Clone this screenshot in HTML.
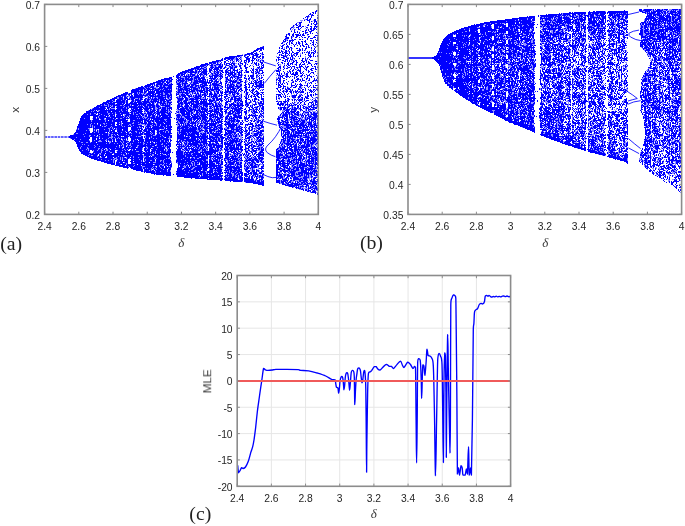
<!DOCTYPE html>
<html><head><meta charset="utf-8"><style>
html,body{margin:0;padding:0;background:#fff;width:685px;height:526px;overflow:hidden}
svg{display:block}
</style></head><body>
<svg width="685" height="526" viewBox="0 0 685 526">
<g stroke="#e6e6e6" stroke-width="1" fill="none"><line x1="271.38" y1="275.5" x2="271.38" y2="486.3"/><line x1="305.55" y1="275.5" x2="305.55" y2="486.3"/><line x1="339.73" y1="275.5" x2="339.73" y2="486.3"/><line x1="373.90" y1="275.5" x2="373.90" y2="486.3"/><line x1="408.07" y1="275.5" x2="408.07" y2="486.3"/><line x1="442.25" y1="275.5" x2="442.25" y2="486.3"/><line x1="476.43" y1="275.5" x2="476.43" y2="486.3"/><line x1="237.2" y1="459.95" x2="510.6" y2="459.95"/><line x1="237.2" y1="433.60" x2="510.6" y2="433.60"/><line x1="237.2" y1="407.25" x2="510.6" y2="407.25"/><line x1="237.2" y1="380.90" x2="510.6" y2="380.90"/><line x1="237.2" y1="354.55" x2="510.6" y2="354.55"/><line x1="237.2" y1="328.20" x2="510.6" y2="328.20"/><line x1="237.2" y1="301.85" x2="510.6" y2="301.85"/></g>
<path d="M44.5 137H70" stroke="#3030ff" stroke-width="1.6" fill="none" stroke-dasharray="2.6 0.7"/>
<path d="M408 58H432.5" stroke="#0000ff" stroke-width="1.6" fill="none"/>
<path d="M639 9.5h3m1 0h11m1 0h1m1 0h11m1 0h12M316 10.5h2m306 0h1m14 0h42M315 11.5h2m272 0h1m3 0h2m1 0h10m2 0h20m11 0h11m1 0h15m1 0h9m1 0h4M312 12.5h2m1 0h1m253 0h2m1 0h1m1 0h12m2 0h18m1 0h21m14 0h14m1 0h24M310 13.5h1m2 0h1m1 0h1m243 0h1m1 0h25m2 0h18m1 0h1m1 0h19m17 0h36M309 14.5h4m233 0h1m1 0h23m1 0h4m1 0h9m2 0h17m4 0h19m19 0h15m1 0h3m1 0h3m1 0h10M308 15.5h1m2 0h3m3 0h1m220 0h1m1 0h31m1 0h22m1 0h9m1 0h1m2 0h12m1 0h7m19 0h5m1 0h17m2 0h8M306 16.5h4m1 0h1m215 0h1m1 0h6m3 0h1m1 0h22m1 0h20m1 0h2m1 0h13m1 0h5m2 0h3m1 0h12m1 0h3m18 0h8m1 0h9m1 0h16M305 17.5h1m1 0h2m2 0h1m5 0h1m201 0h16m5 0h31m1 0h14m2 0h1m1 0h16m2 0h2m1 0h17m18 0h19m1 0h15M303 18.5h1m3 0h1m2 0h1m6 0h1m194 0h23m5 0h13m1 0h17m1 0h1m1 0h1m1 0h7m1 0h2m2 0h18m3 0h15m1 0h3m17 0h11m1 0h24M304 19.5h4m1 0h2m3 0h2m189 0h13m1 0h12m1 0h3m5 0h3m1 0h18m2 0h22m2 0h4m1 0h2m1 0h3m1 0h4m1 0h1m3 0h4m1 0h2m1 0h10m17 0h8m1 0h28M300 20.5h3m1 0h1m2 0h3m3 0h3m1 0h1m179 0h38m5 0h31m2 0h13m2 0h12m1 0h3m1 0h1m1 0h7m1 0h2m1 0h2m1 0h1m1 0h5m16 0h3m1 0h1m1 0h7m1 0h20m1 0h2M301 21.5h1m7 0h1m1 0h2m1 0h3m173 0h44m6 0h9m1 0h13m1 0h7m1 0h11m1 0h1m3 0h9m1 0h6m1 0h1m1 0h1m1 0h1m1 0h3m1 0h7m1 0h5m16 0h7m1 0h12m1 0h16M297 22.5h5m7 0h1m4 0h1m1 0h1m167 0h35m1 0h15m5 0h40m1 0h1m1 0h3m2 0h9m1 0h8m4 0h6m1 0h2m1 0h5m1 0h2m13 0h11m1 0h28M296 23.5h1m2 0h2m10 0h1m1 0h1m2 0h2m162 0h26m2 0h7m1 0h18m6 0h2m1 0h15m1 0h12m1 0h10m1 0h2m3 0h17m3 0h8m1 0h8m1 0h1m13 0h41M295 24.5h2m1 0h3m7 0h1m2 0h1m2 0h3m157 0h1m1 0h16m2 0h10m1 0h1m2 0h27m2 0h1m2 0h32m1 0h1m1 0h11m1 0h8m1 0h9m2 0h13m1 0h2m1 0h4m12 0h4m1 0h17m2 0h2m1 0h14M293 25.5h2m1 0h2m1 0h2m6 0h2m6 0h1m155 0h20m3 0h12m2 0h26m6 0h30m2 0h1m2 0h9m1 0h1m2 0h15m2 0h1m2 0h1m1 0h4m1 0h6m1 0h5m13 0h31m1 0h9M292 26.5h2m4 0h3m1 0h2m1 0h1m4 0h2m2 0h4m150 0h11m1 0h4m1 0h7m2 0h12m2 0h26m6 0h22m2 0h9m2 0h11m2 0h18m1 0h1m1 0h1m1 0h5m1 0h3m1 0h2m3 0h2m12 0h41M291 27.5h4m1 0h3m2 0h1m4 0h2m3 0h1m2 0h1m1 0h1m147 0h28m2 0h6m1 0h33m2 0h1m3 0h4m1 0h17m3 0h8m2 0h7m1 0h3m1 0h8m1 0h10m3 0h4m1 0h3m1 0h9m13 0h41M290 28.5h2m1 0h1m4 0h1m1 0h1m4 0h1m1 0h1m2 0h2m1 0h3m145 0h31m2 0h40m6 0h1m1 0h19m1 0h11m3 0h4m1 0h5m1 0h19m3 0h9m1 0h1m1 0h1m1 0h4m13 0h6m1 0h2m1 0h11m1 0h2m1 0h16M290 29.5h1m1 0h1m1 0h2m2 0h2m6 0h1m1 0h1m1 0h2m1 0h2m1 0h1m142 0h19m2 0h17m1 0h20m2 0h10m1 0h3m7 0h16m1 0h13m1 0h3m1 0h4m1 0h2m1 0h2m2 0h9m1 0h5m1 0h1m3 0h1m2 0h1m1 0h7m2 0h6m12 0h9m1 0h31M291 30.5h1m2 0h1m5 0h1m4 0h2m1 0h1m2 0h3m142 0h13m1 0h8m2 0h39m1 0h14m6 0h1m1 0h4m1 0h1m1 0h7m1 0h7m1 0h6m1 0h2m1 0h5m1 0h2m1 0h2m2 0h4m1 0h13m1 0h10m1 0h5m1 0h1m1 0h1m13 0h33m1 0h7M291 31.5h1m2 0h1m2 0h1m4 0h2m1 0h1m3 0h3m142 0h24m2 0h8m1 0h8m1 0h8m2 0h11m1 0h1m1 0h11m7 0h10m1 0h15m2 0h2m1 0h8m1 0h2m1 0h3m2 0h8m2 0h5m1 0h1m2 0h9m1 0h3m1 0h3m2 0h2m12 0h28m1 0h12M294 32.5h2m1 0h1m1 0h1m5 0h3m2 0h1m5 0h1m135 0h26m2 0h26m2 0h13m1 0h13m5 0h3m1 0h20m1 0h2m6 0h1m1 0h2m1 0h5m1 0h2m3 0h7m1 0h7m1 0h1m2 0h2m1 0h11m1 0h2m1 0h2m12 0h22m1 0h3m1 0h14M288 33.5h2m3 0h1m5 0h1m3 0h1m1 0h2m3 0h1m1 0h1m4 0h1m132 0h7m1 0h48m2 0h11m1 0h15m5 0h29m3 0h10m1 0h1m1 0h1m2 0h8m1 0h6m1 0h2m2 0h5m1 0h2m1 0h9m13 0h14m1 0h12m1 0h1m1 0h12M286 34.5h4m2 0h2m1 0h4m1 0h1m1 0h2m3 0h2m139 0h31m1 0h17m1 0h36m6 0h28m1 0h2m1 0h3m1 0h6m1 0h3m4 0h16m2 0h9m1 0h7m1 0h2m11 0h42M286 35.5h1m2 0h1m2 0h2m2 0h5m1 0h3m2 0h1m7 0h3m129 0h6m3 0h13m1 0h35m1 0h14m1 0h7m1 0h5m6 0h4m1 0h19m1 0h6m1 0h1m1 0h3m1 0h1m1 0h6m2 0h1m1 0h4m1 0h2m1 0h6m4 0h9m1 0h2m3 0h5m12 0h26m1 0h3m1 0h3m1 0h6M285 36.5h2m4 0h3m2 0h2m3 0h1m6 0h2m4 0h1m2 0h1m128 0h7m3 0h13m1 0h22m2 0h40m6 0h11m1 0h12m1 0h2m2 0h2m1 0h4m1 0h9m2 0h2m1 0h1m1 0h13m3 0h3m1 0h2m1 0h1m1 0h2m2 0h3m16 0h29m1 0h6m1 0h3M285 37.5h4m2 0h2m2 0h2m2 0h1m2 0h1m1 0h2m2 0h1m4 0h3m1 0h1m127 0h34m1 0h12m2 0h5m1 0h19m1 0h2m1 0h5m1 0h2m1 0h2m6 0h5m1 0h11m1 0h6m1 0h2m2 0h2m1 0h1m1 0h4m1 0h5m1 0h1m2 0h8m1 0h7m5 0h3m1 0h7m3 0h5m13 0h7m1 0h7m1 0h11m1 0h12M285 38.5h4m2 0h1m15 0h1m2 0h3m4 0h1m126 0h35m1 0h12m2 0h12m1 0h4m1 0h7m1 0h10m1 0h3m6 0h15m1 0h6m1 0h8m2 0h13m2 0h1m1 0h2m2 0h12m2 0h3m1 0h1m2 0h5m1 0h1m1 0h2m2 0h1m13 0h1m1 0h35m1 0h2M284 39.5h4m3 0h2m1 0h2m3 0h2m1 0h1m4 0h1m7 0h1m1 0h1m125 0h46m1 0h2m2 0h23m1 0h1m1 0h15m5 0h13m1 0h3m1 0h12m2 0h1m1 0h6m1 0h5m2 0h9m1 0h3m3 0h1m4 0h1m1 0h4m3 0h2m2 0h3m16 0h10m1 0h26m1 0h2M283 40.5h1m1 0h3m1 0h5m11 0h1m4 0h2m1 0h1m2 0h2m125 0h26m1 0h10m1 0h19m1 0h5m2 0h15m1 0h11m5 0h5m1 0h9m1 0h5m2 0h8m1 0h14m4 0h4m2 0h4m1 0h1m1 0h1m2 0h1m1 0h6m3 0h3m1 0h4m16 0h17m1 0h5m2 0h1m1 0h10m1 0h2M283 41.5h3m3 0h2m1 0h1m5 0h1m2 0h2m1 0h2m5 0h1m1 0h1m128 0h64m2 0h21m1 0h5m5 0h10m2 0h3m1 0h2m1 0h3m1 0h8m1 0h2m1 0h2m1 0h2m1 0h5m3 0h1m2 0h1m1 0h1m1 0h6m1 0h1m4 0h4m1 0h4m1 0h2m1 0h4m1 0h1m14 0h2m1 0h5m1 0h11m1 0h16m1 0h2M282 42.5h3m2 0h1m1 0h1m1 0h2m3 0h1m1 0h2m2 0h1m2 0h1m6 0h2m2 0h1m125 0h11m3 0h13m1 0h27m1 0h1m3 0h4m2 0h14m1 0h5m1 0h6m6 0h3m1 0h11m2 0h3m2 0h1m2 0h1m1 0h3m1 0h2m1 0h8m1 0h2m6 0h2m1 0h6m2 0h1m1 0h1m3 0h1m3 0h2m1 0h6m1 0h2m15 0h14m1 0h2m2 0h3m1 0h18M281 43.5h2m3 0h1m2 0h1m1 0h2m3 0h1m1 0h3m1 0h1m3 0h1m3 0h1m2 0h1m3 0h1m123 0h12m3 0h13m1 0h8m2 0h3m1 0h10m1 0h11m2 0h27m5 0h7m1 0h6m4 0h2m1 0h2m1 0h1m1 0h2m1 0h1m2 0h2m1 0h2m1 0h7m3 0h2m1 0h1m1 0h1m1 0h1m1 0h5m1 0h2m4 0h11m1 0h2m1 0h3m13 0h14m1 0h10m1 0h3m1 0h11M283 44.5h2m1 0h1m2 0h1m3 0h1m1 0h2m2 0h1m2 0h1m2 0h3m4 0h2m1 0h1m125 0h38m1 0h25m1 0h9m1 0h6m1 0h12m5 0h2m2 0h7m1 0h9m1 0h2m5 0h2m1 0h4m1 0h2m1 0h4m2 0h1m2 0h1m1 0h11m1 0h3m2 0h9m3 0h1m1 0h2m1 0h1m14 0h12m1 0h4m1 0h1m1 0h1m1 0h6m1 0h1m1 0h10M280 45.5h1m1 0h2m3 0h1m3 0h1m2 0h1m2 0h1m2 0h1m1 0h2m4 0h1m2 0h1m1 0h1m3 0h1m122 0h89m1 0h6m5 0h10m1 0h12m3 0h12m1 0h7m1 0h3m1 0h5m1 0h7m2 0h3m1 0h3m2 0h5m1 0h5m13 0h3m1 0h8m1 0h4m1 0h2m1 0h3m1 0h2m1 0h8m1 0h4M262 46.5h2m17 0h2m3 0h3m5 0h1m5 0h1m2 0h2m1 0h1m1 0h1m5 0h1m2 0h1m122 0h47m1 0h5m1 0h25m1 0h12m1 0h1m6 0h3m1 0h12m1 0h12m1 0h8m1 0h1m2 0h4m2 0h6m2 0h8m2 0h1m2 0h5m2 0h1m2 0h6m15 0h8m1 0h16m1 0h9m1 0h1m1 0h3M260 47.5h4m15 0h1m2 0h1m1 0h1m1 0h3m1 0h2m14 0h1m1 0h2m1 0h1m3 0h1m124 0h52m2 0h6m1 0h5m2 0h14m1 0h12m5 0h3m2 0h6m1 0h2m1 0h1m1 0h6m1 0h6m2 0h6m1 0h1m1 0h1m1 0h1m1 0h1m2 0h13m1 0h1m5 0h3m2 0h1m2 0h1m1 0h7m1 0h1m14 0h2m1 0h7m1 0h8m3 0h2m1 0h11m1 0h3M257 48.5h7m15 0h1m1 0h2m1 0h1m1 0h1m2 0h1m1 0h2m3 0h2m1 0h1m2 0h1m2 0h2m4 0h1m2 0h1m124 0h17m2 0h19m1 0h14m2 0h12m1 0h27m6 0h3m1 0h15m1 0h2m1 0h4m1 0h2m2 0h5m1 0h1m2 0h6m4 0h10m1 0h4m2 0h5m2 0h5m1 0h5m16 0h32m1 0h1m1 0h4M256 49.5h6m1 0h1m19 0h2m4 0h1m1 0h1m7 0h2m1 0h1m2 0h1m5 0h1m2 0h1m124 0h30m1 0h6m1 0h2m1 0h8m1 0h3m2 0h1m1 0h10m2 0h24m1 0h2m6 0h30m1 0h5m1 0h1m3 0h4m2 0h1m1 0h1m1 0h7m1 0h1m1 0h7m1 0h7m1 0h5m20 0h8m1 0h7m1 0h1m1 0h2m1 0h1m1 0h14M254 50.5h4m2 0h2m17 0h1m1 0h1m3 0h2m1 0h1m2 0h1m5 0h4m1 0h1m1 0h2m5 0h1m1 0h1m1 0h1m123 0h20m1 0h18m2 0h10m1 0h1m2 0h10m1 0h12m2 0h16m5 0h2m2 0h8m1 0h2m1 0h8m1 0h2m1 0h3m1 0h1m1 0h3m1 0h6m1 0h1m2 0h1m1 0h1m1 0h2m1 0h1m2 0h1m1 0h1m1 0h2m1 0h1m3 0h8m1 0h2m1 0h6m17 0h14m1 0h4m1 0h7m1 0h5m1 0h3M253 51.5h3m3 0h1m19 0h1m1 0h3m1 0h5m2 0h1m6 0h1m7 0h1m1 0h1m4 0h2m122 0h31m1 0h2m1 0h10m1 0h19m1 0h3m1 0h12m1 0h15m5 0h10m2 0h4m2 0h5m2 0h5m1 0h1m1 0h4m3 0h2m1 0h3m1 0h1m3 0h3m1 0h1m1 0h1m1 0h3m1 0h1m2 0h1m1 0h3m2 0h3m1 0h2m1 0h1m1 0h1m1 0h2m18 0h1m1 0h3m1 0h3m1 0h7m3 0h16M251 52.5h3m2 0h1m5 0h1m15 0h3m1 0h1m1 0h3m2 0h1m2 0h2m2 0h3m3 0h1m1 0h1m1 0h4m1 0h3m1 0h1m1 0h1m120 0h15m3 0h33m1 0h9m1 0h4m1 0h16m1 0h13m7 0h1m1 0h13m1 0h2m1 0h3m1 0h6m1 0h1m1 0h5m2 0h1m1 0h1m1 0h1m3 0h2m1 0h4m1 0h3m1 0h2m1 0h1m4 0h1m2 0h1m1 0h7m1 0h1m1 0h2m1 0h1m18 0h6m1 0h1m1 0h1m1 0h4m1 0h2m1 0h1m1 0h6m1 0h5m1 0h1M247 53.5h6m1 0h4m2 0h3m14 0h1m4 0h2m1 0h3m1 0h1m1 0h1m2 0h4m2 0h1m1 0h1m5 0h2m1 0h1m1 0h2m2 0h1m119 0h16m3 0h13m1 0h17m1 0h2m1 0h32m1 0h5m1 0h6m4 0h11m2 0h1m1 0h5m1 0h2m1 0h6m2 0h1m1 0h5m1 0h3m5 0h2m1 0h1m1 0h4m1 0h2m2 0h3m3 0h1m1 0h8m1 0h1m1 0h3m2 0h1m20 0h11m1 0h2m1 0h1m1 0h4m1 0h7m1 0h4M242 54.5h1m1 0h10m1 0h4m2 0h3m15 0h3m3 0h1m2 0h1m2 0h1m1 0h2m1 0h2m2 0h1m4 0h1m2 0h1m1 0h1m2 0h1m123 0h16m3 0h2m1 0h33m2 0h2m1 0h9m1 0h29m4 0h5m1 0h5m1 0h11m1 0h1m1 0h1m1 0h3m1 0h1m1 0h1m3 0h5m1 0h2m3 0h3m1 0h3m2 0h2m1 0h4m3 0h2m1 0h6m1 0h4m1 0h1m1 0h2m20 0h8m1 0h1m2 0h3m2 0h7m1 0h6m1 0h2M237 55.5h6m1 0h3m2 0h1m2 0h6m2 0h1m1 0h1m16 0h1m1 0h7m1 0h1m1 0h4m1 0h1m3 0h1m7 0h3m2 0h1m3 0h1m118 0h18m1 0h23m2 0h12m2 0h12m2 0h27m6 0h10m1 0h5m1 0h5m1 0h3m1 0h2m1 0h1m1 0h6m1 0h5m3 0h8m1 0h1m1 0h1m1 0h2m1 0h2m1 0h6m1 0h1m1 0h1m1 0h2m1 0h1m3 0h2m20 0h4m1 0h4m2 0h2m1 0h1m2 0h6m1 0h6m2 0h2M229 56.5h13m2 0h2m1 0h2m3 0h2m2 0h5m1 0h2m12 0h1m1 0h1m4 0h4m4 0h2m2 0h1m2 0h1m1 0h1m4 0h1m3 0h3m1 0h1m1 0h1m1 0h1m116 0h34m1 0h23m2 0h4m1 0h7m2 0h17m1 0h9m6 0h11m2 0h3m1 0h12m3 0h2m3 0h1m2 0h5m2 0h5m2 0h1m1 0h1m1 0h5m2 0h1m1 0h2m2 0h1m3 0h4m1 0h1m2 0h2m22 0h3m1 0h11m3 0h8m1 0h6M225 57.5h12m1 0h1m1 0h2m3 0h4m1 0h1m1 0h2m2 0h4m2 0h2m13 0h3m1 0h4m1 0h3m1 0h1m1 0h2m11 0h1m2 0h1m1 0h1m121 0h46m2 0h8m1 0h3m2 0h3m1 0h3m1 0h4m2 0h10m2 0h15m6 0h10m2 0h1m1 0h5m1 0h4m1 0h8m2 0h1m1 0h1m1 0h6m1 0h2m1 0h4m1 0h6m2 0h2m3 0h1m1 0h3m4 0h6m1 0h1m1 0h2m22 0h1m2 0h12m1 0h13m1 0h1M222 58.5h1m1 0h14m1 0h3m4 0h4m2 0h4m1 0h1m2 0h1m1 0h2m14 0h1m4 0h2m2 0h2m1 0h1m1 0h3m4 0h1m2 0h2m1 0h1m1 0h1m124 0h24m1 0h22m1 0h15m1 0h10m2 0h15m1 0h3m1 0h4m1 0h1m7 0h10m1 0h5m1 0h4m1 0h7m2 0h2m1 0h1m5 0h1m1 0h3m2 0h7m3 0h2m1 0h2m1 0h1m2 0h3m1 0h3m1 0h1m1 0h1m1 0h9m21 0h2m1 0h1m1 0h3m1 0h17m1 0h1m1 0h3M221 59.5h2m1 0h2m1 0h12m1 0h2m4 0h4m2 0h1m1 0h1m1 0h1m1 0h2m1 0h2m13 0h1m1 0h3m4 0h3m2 0h3m1 0h1m7 0h1m2 0h3m1 0h1m124 0h44m1 0h10m2 0h22m1 0h2m1 0h3m1 0h7m1 0h5m1 0h1m5 0h10m1 0h8m1 0h1m1 0h4m2 0h2m1 0h2m1 0h1m3 0h1m1 0h2m1 0h2m2 0h3m1 0h2m1 0h2m1 0h5m2 0h1m1 0h1m2 0h3m4 0h3m1 0h1m1 0h4m24 0h2m1 0h8m1 0h18M216 60.5h7m3 0h2m2 0h3m1 0h1m1 0h4m1 0h1m2 0h3m1 0h2m1 0h3m2 0h3m1 0h4m12 0h1m1 0h1m3 0h2m1 0h1m1 0h1m1 0h1m1 0h3m1 0h2m4 0h2m2 0h2m3 0h3m122 0h44m1 0h3m1 0h6m1 0h1m1 0h3m1 0h10m1 0h1m1 0h2m1 0h1m1 0h13m1 0h7m5 0h4m1 0h5m2 0h2m2 0h7m1 0h6m2 0h3m3 0h1m1 0h1m1 0h3m2 0h2m2 0h1m2 0h3m1 0h2m2 0h1m1 0h1m2 0h4m2 0h1m2 0h11m22 0h12m1 0h7m1 0h2m1 0h2m1 0h4M212 61.5h9m3 0h2m2 0h1m1 0h1m1 0h3m1 0h1m1 0h1m1 0h2m2 0h1m1 0h1m1 0h2m2 0h1m4 0h4m1 0h2m12 0h1m7 0h2m1 0h1m1 0h1m1 0h1m1 0h2m1 0h1m5 0h3m1 0h1m1 0h1m6 0h2m119 0h31m4 0h7m2 0h32m1 0h3m2 0h11m1 0h5m6 0h10m1 0h12m1 0h6m2 0h4m1 0h1m3 0h5m1 0h1m1 0h1m1 0h11m2 0h1m2 0h1m1 0h2m6 0h1m2 0h1m2 0h1m26 0h1m2 0h3m4 0h1m1 0h2m1 0h5m1 0h1m1 0h4M209 62.5h11m1 0h1m2 0h2m4 0h1m1 0h3m4 0h2m3 0h3m1 0h1m3 0h1m1 0h1m1 0h1m3 0h3m15 0h1m2 0h2m5 0h1m3 0h2m2 0h2m3 0h1m1 0h1m2 0h1m1 0h2m127 0h65m1 0h24m1 0h7m6 0h1m2 0h3m2 0h6m1 0h9m1 0h1m3 0h3m2 0h2m1 0h1m2 0h5m2 0h3m1 0h3m2 0h3m1 0h3m1 0h1m1 0h6m1 0h2m2 0h1m1 0h1m1 0h2m1 0h2m23 0h12m1 0h2m2 0h12m1 0h1M205 63.5h3m1 0h7m1 0h2m1 0h2m2 0h1m1 0h4m1 0h6m1 0h1m1 0h3m2 0h2m4 0h2m1 0h3m1 0h1m2 0h2m14 0h1m4 0h1m1 0h1m2 0h2m1 0h3m3 0h1m3 0h1m3 0h1m3 0h3m4 0h3m120 0h15m3 0h12m1 0h3m1 0h19m1 0h2m1 0h1m1 0h2m1 0h1m1 0h18m1 0h14m5 0h2m1 0h3m1 0h10m1 0h3m4 0h1m1 0h3m4 0h1m2 0h1m2 0h2m1 0h1m3 0h10m1 0h1m2 0h3m3 0h6m3 0h2m1 0h1m5 0h1m23 0h2m1 0h1m1 0h1m1 0h6m1 0h3m1 0h4m1 0h5m1 0h2M201 64.5h9m1 0h12m1 0h3m2 0h3m1 0h2m3 0h3m1 0h1m2 0h1m1 0h1m5 0h1m1 0h2m1 0h2m1 0h1m1 0h1m14 0h3m3 0h1m2 0h2m1 0h1m1 0h1m1 0h3m2 0h2m1 0h3m2 0h1m3 0h1m2 0h1m1 0h1m122 0h14m3 0h33m1 0h10m1 0h5m2 0h11m1 0h5m1 0h3m1 0h6m4 0h16m1 0h6m2 0h2m1 0h3m2 0h1m3 0h6m1 0h1m3 0h7m2 0h2m1 0h1m1 0h2m3 0h11m1 0h1m5 0h2m23 0h12m1 0h1m1 0h3m1 0h5m1 0h5M200 65.5h8m1 0h14m2 0h5m1 0h6m2 0h3m2 0h2m4 0h1m1 0h1m3 0h3m2 0h3m14 0h1m1 0h1m3 0h1m1 0h1m1 0h2m6 0h1m2 0h1m1 0h1m3 0h1m5 0h1m127 0h15m2 0h34m1 0h1m2 0h1m2 0h2m2 0h4m3 0h5m1 0h22m4 0h2m1 0h3m1 0h6m1 0h2m1 0h3m1 0h3m1 0h1m2 0h3m1 0h2m1 0h1m4 0h5m7 0h1m1 0h2m1 0h4m1 0h1m1 0h1m5 0h1m1 0h1m1 0h1m1 0h3m4 0h3m1 0h1m21 0h2m2 0h6m1 0h5m1 0h14M196 66.5h11m3 0h7m1 0h5m2 0h1m3 0h9m1 0h2m3 0h2m3 0h1m3 0h1m5 0h1m1 0h1m1 0h1m15 0h2m2 0h2m2 0h1m2 0h1m1 0h3m4 0h4m2 0h1m1 0h2m3 0h1m1 0h2m1 0h1m122 0h52m2 0h5m1 0h6m2 0h28m5 0h3m1 0h1m2 0h7m1 0h1m1 0h1m1 0h4m1 0h5m1 0h3m2 0h1m1 0h2m1 0h1m1 0h1m1 0h3m2 0h3m1 0h1m1 0h2m2 0h5m2 0h2m1 0h2m3 0h3m1 0h1m1 0h7m22 0h2m3 0h3m1 0h9m1 0h2m1 0h2m1 0h2m1 0h1M194 67.5h6m1 0h6m3 0h13m1 0h3m1 0h9m3 0h2m3 0h3m5 0h1m3 0h3m1 0h3m14 0h3m2 0h2m2 0h3m1 0h1m2 0h1m1 0h5m2 0h1m1 0h3m7 0h1m1 0h1m122 0h45m1 0h6m2 0h6m1 0h5m2 0h7m1 0h19m5 0h6m1 0h4m1 0h1m2 0h1m2 0h2m1 0h5m1 0h4m1 0h1m3 0h3m5 0h1m1 0h1m2 0h1m1 0h14m1 0h5m1 0h1m3 0h4m1 0h1m1 0h1m1 0h2m21 0h4m1 0h5m1 0h1m1 0h4m2 0h7m1 0h2m1 0h2M191 68.5h16m2 0h4m1 0h5m1 0h2m1 0h2m2 0h2m1 0h5m5 0h2m3 0h2m4 0h1m1 0h1m2 0h7m14 0h2m1 0h1m3 0h1m1 0h2m3 0h1m2 0h1m2 0h1m2 0h1m3 0h1m1 0h1m4 0h3m1 0h1m124 0h29m1 0h8m2 0h12m2 0h13m1 0h1m1 0h25m6 0h4m1 0h2m1 0h1m3 0h7m1 0h2m1 0h7m1 0h1m1 0h7m1 0h4m2 0h7m2 0h4m3 0h2m2 0h4m1 0h1m2 0h1m1 0h2m1 0h1m1 0h4m21 0h10m1 0h1m2 0h4m1 0h14M188 69.5h19m2 0h3m1 0h8m1 0h1m3 0h2m2 0h1m1 0h3m2 0h1m1 0h1m1 0h1m4 0h1m5 0h2m1 0h3m1 0h3m16 0h3m2 0h1m6 0h1m2 0h1m1 0h2m1 0h1m1 0h1m4 0h2m3 0h2m3 0h2m123 0h39m1 0h12m2 0h6m1 0h15m1 0h13m1 0h4m5 0h1m1 0h3m1 0h11m1 0h5m1 0h1m1 0h2m1 0h2m2 0h13m3 0h11m3 0h2m4 0h2m1 0h6m1 0h3m1 0h4m20 0h2m4 0h5m1 0h3m1 0h1m3 0h1m1 0h1m1 0h2m1 0h5m1 0h1M185 70.5h8m2 0h3m1 0h1m1 0h1m1 0h4m2 0h4m1 0h1m1 0h2m1 0h4m2 0h6m1 0h6m2 0h3m2 0h2m3 0h1m1 0h2m2 0h2m1 0h4m13 0h5m8 0h1m2 0h2m3 0h4m5 0h1m1 0h1m2 0h2m128 0h31m1 0h6m1 0h21m1 0h2m1 0h11m1 0h2m1 0h12m1 0h1m6 0h1m1 0h1m2 0h12m1 0h4m1 0h1m1 0h1m2 0h1m3 0h8m1 0h2m1 0h3m1 0h3m2 0h2m1 0h2m2 0h5m2 0h1m1 0h2m4 0h1m2 0h4m1 0h2m2 0h1m18 0h17m1 0h6m1 0h7m2 0h1M182 71.5h26m1 0h2m1 0h11m2 0h4m1 0h3m1 0h1m1 0h2m1 0h3m3 0h4m2 0h1m1 0h1m1 0h5m2 0h1m13 0h4m3 0h1m3 0h1m1 0h2m1 0h1m3 0h1m2 0h2m2 0h1m4 0h2m5 0h1m125 0h37m3 0h15m1 0h7m1 0h2m1 0h1m1 0h10m1 0h14m5 0h1m1 0h2m1 0h6m1 0h5m1 0h4m1 0h1m1 0h6m1 0h12m1 0h2m1 0h6m2 0h5m1 0h3m1 0h1m1 0h3m1 0h2m1 0h3m1 0h1m1 0h1m1 0h1m2 0h2m17 0h1m1 0h4m1 0h6m1 0h1m1 0h3m1 0h2m1 0h2m1 0h9M180 72.5h20m1 0h6m2 0h3m1 0h8m1 0h2m1 0h10m1 0h6m2 0h5m2 0h3m1 0h5m2 0h2m15 0h1m4 0h1m2 0h2m1 0h1m2 0h1m1 0h3m2 0h1m1 0h1m5 0h1m2 0h3m127 0h28m1 0h24m1 0h3m1 0h7m1 0h12m1 0h14m6 0h1m2 0h9m1 0h1m1 0h8m1 0h1m1 0h2m1 0h2m1 0h7m1 0h1m1 0h3m3 0h1m1 0h1m1 0h3m1 0h2m1 0h3m1 0h1m1 0h1m3 0h5m2 0h4m1 0h1m3 0h1m19 0h2m1 0h5m1 0h1m1 0h1m1 0h5m1 0h2m1 0h3m2 0h4m1 0h1M178 73.5h8m1 0h1m2 0h3m1 0h5m1 0h7m1 0h1m2 0h8m1 0h2m3 0h2m1 0h5m1 0h3m1 0h2m1 0h1m10 0h2m1 0h2m1 0h5m13 0h2m1 0h1m1 0h1m2 0h1m1 0h2m2 0h1m1 0h2m1 0h3m2 0h2m1 0h1m6 0h1m2 0h1m3 0h1m124 0h12m1 0h4m1 0h13m1 0h11m1 0h10m1 0h18m1 0h3m1 0h15m5 0h2m1 0h2m2 0h16m1 0h6m2 0h7m1 0h3m1 0h2m2 0h1m2 0h4m1 0h9m3 0h6m2 0h1m1 0h1m2 0h2m1 0h1m1 0h1m17 0h7m1 0h4m1 0h1m1 0h2m1 0h2m1 0h1m1 0h2m3 0h2m1 0h2m2 0h2M177 74.5h8m1 0h10m1 0h1m1 0h9m2 0h13m2 0h18m2 0h1m6 0h2m2 0h3m1 0h1m2 0h1m13 0h3m1 0h1m2 0h4m3 0h7m4 0h1m3 0h1m2 0h1m4 0h1m127 0h11m3 0h1m1 0h17m1 0h3m1 0h8m1 0h2m1 0h1m1 0h1m1 0h5m2 0h4m1 0h10m2 0h2m1 0h5m1 0h2m1 0h2m6 0h6m2 0h1m4 0h2m2 0h5m1 0h3m3 0h2m1 0h4m1 0h2m1 0h3m1 0h2m3 0h1m3 0h1m2 0h7m5 0h4m2 0h1m1 0h1m1 0h2m1 0h3m2 0h1m17 0h12m2 0h4m1 0h1m1 0h5m1 0h6m1 0h1m1 0h1M176 75.5h7m1 0h1m1 0h13m1 0h5m1 0h1m2 0h14m2 0h1m2 0h3m1 0h5m1 0h5m1 0h2m2 0h1m1 0h4m2 0h2m1 0h1m1 0h1m1 0h1m12 0h1m1 0h3m1 0h3m1 0h2m6 0h2m2 0h1m1 0h3m1 0h1m2 0h3m6 0h1m125 0h11m4 0h34m3 0h8m1 0h12m1 0h3m1 0h3m1 0h1m1 0h9m5 0h3m1 0h7m2 0h3m1 0h7m1 0h5m3 0h4m1 0h2m2 0h4m2 0h1m2 0h10m3 0h2m5 0h1m4 0h1m1 0h2m1 0h1m2 0h1m2 0h1m15 0h15m1 0h1m2 0h8m2 0h6m1 0h1M173 76.5h1m2 0h3m1 0h19m1 0h1m1 0h4m3 0h4m1 0h9m2 0h1m1 0h3m1 0h8m1 0h2m3 0h1m2 0h1m1 0h4m2 0h3m2 0h1m16 0h5m2 0h4m1 0h1m1 0h1m1 0h1m1 0h2m2 0h2m3 0h1m1 0h1m2 0h2m1 0h1m3 0h1m124 0h12m2 0h20m1 0h15m2 0h12m2 0h1m1 0h5m1 0h3m1 0h14m6 0h3m1 0h12m1 0h6m2 0h2m1 0h5m1 0h4m1 0h1m1 0h1m1 0h1m1 0h1m3 0h1m1 0h4m1 0h6m5 0h1m1 0h6m1 0h4m1 0h1m2 0h2m1 0h1m15 0h10m1 0h9m1 0h6m2 0h1m1 0h7M169 77.5h3m4 0h14m1 0h9m1 0h4m1 0h2m2 0h3m1 0h3m1 0h1m1 0h3m2 0h3m2 0h12m2 0h2m3 0h1m1 0h3m2 0h2m1 0h1m1 0h2m13 0h1m1 0h3m1 0h1m3 0h2m1 0h1m4 0h1m1 0h1m4 0h1m2 0h1m2 0h1m3 0h1m5 0h1m125 0h12m1 0h13m1 0h17m1 0h4m2 0h8m1 0h3m2 0h4m1 0h6m1 0h4m1 0h10m5 0h30m4 0h2m1 0h3m3 0h1m1 0h1m2 0h5m3 0h1m1 0h2m1 0h1m1 0h1m1 0h1m2 0h1m1 0h4m1 0h2m1 0h2m1 0h1m2 0h1m1 0h1m15 0h14m1 0h1m1 0h14m1 0h5m1 0h1M164 78.5h8m5 0h28m4 0h7m1 0h1m1 0h3m3 0h3m1 0h2m1 0h1m2 0h6m3 0h3m1 0h2m1 0h4m1 0h1m1 0h4m14 0h5m2 0h2m9 0h1m2 0h2m3 0h1m3 0h2m1 0h1m4 0h1m2 0h1m125 0h37m1 0h11m2 0h19m1 0h5m1 0h12m1 0h2m5 0h6m1 0h12m2 0h2m1 0h3m1 0h3m1 0h2m1 0h2m1 0h7m3 0h2m2 0h1m1 0h9m2 0h1m4 0h3m1 0h1m3 0h2m1 0h1m3 0h2m15 0h7m1 0h1m1 0h5m2 0h7m1 0h3m1 0h2m1 0h7M161 79.5h12m3 0h1m1 0h23m1 0h4m1 0h1m2 0h11m4 0h6m1 0h1m1 0h1m1 0h6m4 0h1m1 0h2m2 0h2m2 0h2m1 0h1m3 0h1m12 0h2m1 0h2m5 0h1m5 0h1m3 0h5m1 0h1m3 0h1m2 0h1m4 0h1m1 0h1m127 0h10m2 0h23m1 0h27m1 0h5m1 0h4m2 0h6m1 0h7m5 0h2m2 0h7m1 0h2m1 0h3m1 0h2m1 0h2m3 0h2m1 0h2m1 0h3m1 0h3m3 0h2m1 0h1m2 0h1m1 0h1m1 0h6m1 0h3m2 0h1m3 0h1m2 0h4m2 0h3m1 0h2m2 0h1m15 0h10m1 0h5m3 0h13m1 0h7M158 80.5h8m1 0h5m4 0h30m1 0h1m1 0h4m1 0h3m1 0h3m4 0h17m3 0h2m2 0h1m2 0h1m1 0h4m1 0h4m13 0h1m1 0h3m2 0h2m6 0h2m2 0h1m1 0h1m2 0h1m1 0h3m3 0h2m3 0h5m126 0h9m2 0h23m2 0h14m1 0h19m1 0h9m1 0h6m1 0h2m6 0h1m1 0h2m1 0h4m1 0h1m1 0h3m1 0h1m1 0h1m1 0h2m1 0h5m1 0h2m1 0h2m1 0h1m1 0h2m1 0h2m1 0h3m2 0h1m2 0h4m1 0h3m2 0h3m3 0h3m1 0h3m2 0h2m3 0h2m1 0h3m15 0h9m3 0h4m1 0h1m3 0h2m1 0h5m1 0h2m1 0h6M156 81.5h16m4 0h13m2 0h17m1 0h1m1 0h8m1 0h1m4 0h3m1 0h10m1 0h3m2 0h3m3 0h1m1 0h1m1 0h2m1 0h4m1 0h1m12 0h1m2 0h2m2 0h1m4 0h1m3 0h2m1 0h2m2 0h1m1 0h1m3 0h2m5 0h2m1 0h1m1 0h1m126 0h9m3 0h14m1 0h7m2 0h5m1 0h30m1 0h11m1 0h6m5 0h1m2 0h11m2 0h3m1 0h4m1 0h1m1 0h4m1 0h10m1 0h3m2 0h2m1 0h3m3 0h6m4 0h6m2 0h3m3 0h6m15 0h21m3 0h7m1 0h7M153 82.5h12m1 0h6m4 0h11m2 0h23m1 0h6m1 0h2m3 0h6m1 0h10m2 0h3m2 0h1m1 0h1m2 0h10m12 0h1m1 0h3m2 0h1m2 0h1m4 0h3m11 0h1m2 0h1m1 0h2m5 0h1m127 0h24m1 0h8m2 0h30m1 0h5m1 0h1m1 0h9m1 0h6m5 0h1m3 0h2m1 0h3m1 0h4m1 0h7m1 0h3m1 0h3m1 0h10m1 0h2m3 0h1m1 0h2m1 0h2m2 0h6m7 0h3m2 0h7m1 0h5m13 0h3m1 0h1m1 0h6m1 0h1m1 0h1m1 0h3m1 0h2m1 0h4m2 0h2m1 0h7M150 83.5h5m1 0h10m1 0h5m4 0h12m2 0h9m2 0h6m1 0h3m1 0h10m3 0h2m1 0h1m1 0h5m1 0h6m3 0h1m2 0h1m1 0h4m1 0h7m1 0h1m12 0h1m1 0h1m1 0h1m1 0h1m1 0h1m2 0h1m3 0h1m3 0h1m4 0h1m4 0h1m1 0h1m1 0h1m1 0h1m3 0h1m129 0h50m1 0h10m1 0h3m1 0h8m1 0h1m1 0h2m1 0h9m1 0h1m4 0h3m1 0h4m1 0h1m2 0h12m1 0h1m1 0h4m1 0h1m1 0h1m1 0h7m1 0h2m2 0h2m1 0h1m1 0h5m1 0h1m1 0h1m1 0h1m1 0h1m3 0h5m1 0h3m1 0h1m1 0h1m1 0h4m14 0h2m1 0h12m2 0h4m4 0h15M147 84.5h8m1 0h17m3 0h21m1 0h1m1 0h7m3 0h10m1 0h1m3 0h1m1 0h8m1 0h6m3 0h2m1 0h2m3 0h1m1 0h9m12 0h1m1 0h2m1 0h2m4 0h1m3 0h1m3 0h1m1 0h1m1 0h3m5 0h1m139 0h17m1 0h5m1 0h20m3 0h14m1 0h6m1 0h3m1 0h15m5 0h7m1 0h2m1 0h1m1 0h4m1 0h4m1 0h1m1 0h19m1 0h1m2 0h4m1 0h3m1 0h4m1 0h1m1 0h1m3 0h6m1 0h1m1 0h1m1 0h3m2 0h2m1 0h1m13 0h2m1 0h4m2 0h1m1 0h1m1 0h7m2 0h1m4 0h2m1 0h3m1 0h6M145 85.5h6m1 0h1m1 0h18m6 0h3m1 0h8m1 0h17m1 0h13m3 0h10m1 0h6m2 0h2m3 0h1m2 0h2m2 0h8m14 0h3m2 0h1m7 0h4m1 0h1m3 0h3m1 0h4m2 0h1m2 0h1m1 0h3m129 0h22m1 0h13m1 0h8m2 0h8m1 0h3m1 0h11m2 0h14m7 0h1m1 0h5m1 0h1m2 0h5m1 0h5m2 0h6m1 0h2m1 0h10m5 0h5m1 0h1m1 0h6m1 0h1m3 0h3m1 0h2m1 0h1m2 0h4m1 0h1m1 0h2m14 0h7m1 0h7m1 0h6m1 0h1m1 0h4m1 0h9M141 86.5h2m1 0h11m1 0h16m4 0h31m2 0h2m1 0h11m2 0h1m1 0h15m3 0h2m2 0h1m2 0h1m1 0h10m14 0h1m1 0h2m1 0h3m1 0h1m3 0h2m2 0h2m2 0h3m5 0h1m1 0h1m3 0h1m135 0h23m1 0h19m2 0h5m1 0h20m1 0h2m1 0h1m1 0h9m6 0h7m1 0h1m2 0h12m1 0h2m1 0h2m2 0h2m3 0h3m1 0h5m2 0h6m2 0h1m1 0h2m1 0h3m4 0h10m1 0h1m1 0h1m2 0h3m14 0h1m1 0h2m1 0h5m2 0h9m1 0h3m1 0h3m1 0h3m1 0h3m1 0h2M138 87.5h20m1 0h13m4 0h1m1 0h30m1 0h2m1 0h11m2 0h17m2 0h3m1 0h2m1 0h2m2 0h2m1 0h6m14 0h3m2 0h1m1 0h1m1 0h2m1 0h2m1 0h3m3 0h4m1 0h1m3 0h1m2 0h1m1 0h3m1 0h1m131 0h9m1 0h13m1 0h5m2 0h1m1 0h2m1 0h7m1 0h5m1 0h7m2 0h9m1 0h1m1 0h9m1 0h5m7 0h7m4 0h12m1 0h5m1 0h6m1 0h2m1 0h2m1 0h1m2 0h4m1 0h2m1 0h2m2 0h6m1 0h1m1 0h4m2 0h1m2 0h3m1 0h1m1 0h1m2 0h1m13 0h6m1 0h1m1 0h2m1 0h11m1 0h1m1 0h11m1 0h2M135 88.5h16m1 0h20m4 0h14m1 0h9m1 0h12m1 0h5m1 0h2m4 0h5m1 0h7m1 0h2m3 0h2m5 0h2m1 0h1m1 0h3m16 0h2m4 0h2m1 0h1m1 0h3m8 0h4m3 0h1m11 0h1m133 0h2m3 0h2m1 0h20m1 0h12m1 0h21m1 0h20m4 0h14m1 0h10m2 0h2m1 0h1m2 0h2m1 0h2m1 0h2m1 0h5m2 0h6m1 0h4m1 0h5m2 0h8m1 0h1m2 0h1m1 0h2m1 0h1m1 0h2m13 0h2m1 0h13m1 0h2m1 0h2m3 0h4m1 0h1m1 0h8M132 89.5h40m4 0h26m1 0h5m1 0h11m2 0h1m2 0h1m1 0h2m1 0h5m1 0h2m1 0h3m3 0h3m1 0h1m2 0h3m3 0h1m2 0h3m13 0h1m2 0h1m1 0h1m2 0h6m1 0h1m5 0h3m1 0h2m1 0h1m2 0h1m1 0h1m2 0h2m1 0h2m134 0h1m2 0h24m1 0h16m1 0h3m2 0h14m1 0h18m4 0h3m3 0h1m1 0h1m1 0h2m3 0h2m1 0h5m3 0h6m1 0h1m1 0h1m1 0h2m1 0h2m1 0h3m3 0h2m1 0h2m2 0h1m2 0h2m1 0h5m2 0h5m1 0h3m1 0h4m1 0h5m13 0h7m1 0h2m1 0h1m1 0h7m1 0h1m2 0h5m1 0h10M131 90.5h12m1 0h5m1 0h1m1 0h20m5 0h13m1 0h31m3 0h4m1 0h7m1 0h2m1 0h2m2 0h2m2 0h1m1 0h3m2 0h1m3 0h1m1 0h1m15 0h1m1 0h1m2 0h2m1 0h2m2 0h3m2 0h1m1 0h1m2 0h1m1 0h1m2 0h1m3 0h3m1 0h1m1 0h1m1 0h1m136 0h24m1 0h39m1 0h8m1 0h7m6 0h3m1 0h1m1 0h4m1 0h2m2 0h1m1 0h4m3 0h3m1 0h2m1 0h1m2 0h2m4 0h2m1 0h1m3 0h6m1 0h6m5 0h1m1 0h2m1 0h3m1 0h1m2 0h10m13 0h1m1 0h6m1 0h6m3 0h2m1 0h1m1 0h2m3 0h7m1 0h3M131 91.5h12m1 0h3m1 0h7m1 0h16m4 0h9m1 0h17m1 0h4m1 0h3m1 0h6m1 0h3m2 0h12m1 0h1m1 0h2m2 0h3m3 0h1m1 0h2m1 0h3m18 0h1m1 0h2m2 0h6m1 0h3m1 0h11m6 0h3m1 0h1m140 0h14m1 0h22m2 0h10m1 0h2m1 0h7m1 0h1m1 0h3m1 0h3m1 0h8m1 0h1m1 0h1m5 0h4m1 0h3m2 0h9m1 0h1m1 0h1m1 0h3m2 0h1m1 0h2m4 0h3m1 0h2m4 0h1m1 0h2m3 0h6m1 0h1m2 0h2m2 0h3m1 0h1m1 0h1m5 0h5m12 0h2m1 0h7m2 0h9m1 0h1m1 0h1m1 0h4m2 0h5m1 0h1M125 92.5h3m3 0h16m1 0h7m1 0h16m4 0h20m1 0h2m1 0h8m2 0h2m2 0h5m1 0h3m1 0h15m2 0h1m2 0h1m1 0h3m2 0h2m1 0h1m1 0h3m1 0h4m15 0h2m2 0h1m2 0h1m3 0h2m1 0h1m1 0h2m1 0h6m3 0h1m1 0h1m1 0h1m1 0h1m142 0h36m2 0h12m2 0h16m1 0h10m5 0h2m1 0h8m1 0h3m1 0h9m1 0h4m2 0h3m1 0h4m2 0h4m2 0h1m1 0h1m1 0h3m1 0h1m2 0h1m2 0h3m3 0h1m1 0h3m1 0h1m2 0h1m1 0h1m3 0h4m13 0h4m1 0h1m1 0h2m1 0h7m2 0h5m4 0h3m1 0h2m1 0h6M123 93.5h10m1 0h38m4 0h15m1 0h7m1 0h1m2 0h5m1 0h4m1 0h5m1 0h3m2 0h2m1 0h3m1 0h8m1 0h1m3 0h3m4 0h2m2 0h4m2 0h1m18 0h1m2 0h1m3 0h1m2 0h1m1 0h1m2 0h2m2 0h1m4 0h1m1 0h1m7 0h1m142 0h11m1 0h2m1 0h19m2 0h2m1 0h9m2 0h20m1 0h3m1 0h1m7 0h2m1 0h7m1 0h18m2 0h6m1 0h1m1 0h4m3 0h2m2 0h2m1 0h3m1 0h4m1 0h2m4 0h3m1 0h2m1 0h3m2 0h1m1 0h1m15 0h1m2 0h21m1 0h1m2 0h13M121 94.5h11m1 0h18m1 0h4m1 0h15m4 0h9m1 0h3m1 0h3m2 0h13m1 0h9m1 0h1m1 0h1m2 0h7m1 0h4m1 0h2m1 0h2m3 0h3m1 0h1m3 0h6m1 0h2m1 0h1m12 0h5m1 0h1m1 0h1m2 0h1m3 0h1m2 0h1m1 0h1m2 0h3m2 0h1m2 0h1m2 0h2m1 0h1m1 0h3m141 0h32m3 0h2m1 0h9m2 0h27m6 0h3m1 0h2m1 0h2m1 0h2m1 0h3m1 0h7m1 0h5m1 0h1m1 0h3m1 0h9m1 0h3m2 0h5m1 0h7m1 0h1m1 0h4m3 0h1m1 0h2m1 0h1m1 0h1m16 0h1m1 0h15m1 0h6m1 0h3m1 0h1m2 0h1m2 0h6M118 95.5h9m1 0h2m1 0h2m1 0h38m4 0h1m2 0h13m1 0h14m2 0h3m1 0h10m3 0h2m1 0h6m1 0h2m1 0h3m3 0h2m1 0h1m2 0h2m1 0h1m1 0h2m3 0h1m14 0h1m1 0h3m2 0h1m1 0h1m5 0h6m2 0h4m4 0h2m1 0h2m1 0h1m1 0h1m144 0h19m1 0h23m1 0h2m2 0h27m6 0h3m1 0h1m1 0h3m1 0h3m1 0h6m1 0h2m1 0h6m1 0h9m1 0h1m1 0h1m3 0h3m1 0h6m1 0h2m1 0h4m1 0h4m1 0h1m1 0h1m1 0h1m3 0h1m1 0h1m17 0h11m1 0h2m1 0h1m2 0h2m1 0h2m1 0h6m2 0h2m1 0h3m2 0h1M116 96.5h27m1 0h28m5 0h9m2 0h14m2 0h2m1 0h13m1 0h1m2 0h4m2 0h12m2 0h3m1 0h1m1 0h2m1 0h3m1 0h2m2 0h1m1 0h1m12 0h1m1 0h1m1 0h2m1 0h1m1 0h1m1 0h1m1 0h1m1 0h5m2 0h3m4 0h4m2 0h1m150 0h16m2 0h26m2 0h7m1 0h15m2 0h2m6 0h11m2 0h2m2 0h6m1 0h6m1 0h11m1 0h2m2 0h2m1 0h8m1 0h3m5 0h5m1 0h3m1 0h1m1 0h3m1 0h2m14 0h2m1 0h6m1 0h8m1 0h4m1 0h3m1 0h2m2 0h4m2 0h3M114 97.5h9m1 0h4m1 0h16m2 0h4m1 0h20m4 0h7m1 0h6m1 0h15m3 0h9m3 0h1m2 0h2m2 0h2m1 0h6m1 0h4m3 0h2m1 0h1m2 0h1m3 0h1m2 0h2m1 0h1m14 0h1m1 0h2m1 0h1m2 0h2m6 0h4m1 0h3m1 0h2m2 0h3m4 0h1m2 0h3m145 0h21m1 0h9m1 0h24m1 0h15m5 0h6m1 0h6m1 0h2m1 0h9m1 0h4m1 0h10m1 0h1m1 0h1m2 0h5m1 0h2m1 0h8m3 0h7m1 0h1m1 0h4m18 0h7m1 0h3m1 0h3m1 0h1m1 0h6m1 0h6m2 0h1m1 0h2m2 0h2M112 98.5h16m1 0h14m2 0h21m1 0h5m5 0h7m1 0h21m1 0h1m1 0h2m1 0h11m2 0h4m1 0h3m1 0h8m3 0h3m6 0h3m4 0h3m12 0h1m1 0h2m7 0h2m4 0h2m3 0h1m1 0h3m1 0h1m1 0h3m4 0h3m1 0h1m147 0h34m1 0h6m1 0h14m1 0h14m4 0h2m1 0h6m1 0h1m1 0h11m2 0h5m2 0h1m1 0h1m1 0h5m1 0h4m2 0h5m1 0h2m2 0h5m2 0h1m3 0h9m1 0h3m4 0h1m14 0h1m2 0h14m1 0h2m1 0h15m1 0h3M110 99.5h5m2 0h9m1 0h7m1 0h8m1 0h28m5 0h7m1 0h14m1 0h8m1 0h6m1 0h6m2 0h1m1 0h1m1 0h1m1 0h12m4 0h1m1 0h2m2 0h1m1 0h5m2 0h3m12 0h1m2 0h1m5 0h1m1 0h3m1 0h2m1 0h2m1 0h6m1 0h1m5 0h1m1 0h1m2 0h1m150 0h11m1 0h9m1 0h11m1 0h20m1 0h11m1 0h2m6 0h4m1 0h3m1 0h1m1 0h14m3 0h2m1 0h2m1 0h7m2 0h2m2 0h1m2 0h4m1 0h6m1 0h2m3 0h1m1 0h9m5 0h3m14 0h2m1 0h11m1 0h2m1 0h2m1 0h2m1 0h12m1 0h3M107 100.5h8m1 0h12m3 0h11m2 0h21m1 0h5m6 0h13m1 0h3m1 0h5m1 0h1m1 0h4m1 0h11m1 0h3m2 0h2m1 0h1m1 0h2m2 0h8m3 0h2m3 0h1m1 0h1m1 0h2m2 0h2m2 0h2m13 0h1m7 0h1m1 0h2m3 0h1m1 0h1m1 0h1m1 0h5m1 0h1m1 0h3m2 0h1m1 0h5m150 0h10m1 0h39m3 0h5m1 0h1m1 0h6m2 0h1m3 0h1m1 0h8m1 0h5m1 0h1m1 0h1m2 0h1m1 0h1m1 0h4m2 0h3m1 0h3m1 0h6m1 0h1m2 0h1m1 0h2m3 0h2m1 0h2m6 0h4m2 0h1m3 0h1m3 0h4m15 0h19m1 0h2m1 0h2m2 0h1m1 0h10M106 101.5h9m1 0h12m3 0h5m1 0h22m1 0h12m5 0h5m1 0h4m1 0h11m1 0h7m2 0h8m2 0h1m1 0h2m3 0h6m2 0h5m1 0h3m2 0h2m3 0h2m1 0h3m1 0h1m2 0h4m12 0h6m1 0h6m5 0h1m1 0h1m2 0h1m2 0h2m1 0h2m5 0h6m152 0h28m1 0h1m1 0h3m1 0h24m1 0h5m2 0h1m3 0h11m1 0h10m3 0h5m2 0h1m2 0h19m2 0h7m4 0h1m1 0h4m2 0h1m1 0h2m2 0h5m14 0h10m2 0h11m1 0h1m2 0h2m1 0h10M103 102.5h25m2 0h26m1 0h15m5 0h22m1 0h8m1 0h3m1 0h7m1 0h1m3 0h3m2 0h1m2 0h10m2 0h7m3 0h7m1 0h1m14 0h1m1 0h2m1 0h3m1 0h1m4 0h1m1 0h2m1 0h2m1 0h2m2 0h1m4 0h5m1 0h3m153 0h8m1 0h12m2 0h7m1 0h1m1 0h22m1 0h8m5 0h4m1 0h6m2 0h1m1 0h8m1 0h2m2 0h1m1 0h1m3 0h1m1 0h4m1 0h5m2 0h8m1 0h7m4 0h2m1 0h1m2 0h1m1 0h1m2 0h1m2 0h6m13 0h2m1 0h22m1 0h1m1 0h1m1 0h10M102 103.5h13m2 0h8m1 0h11m1 0h13m1 0h3m1 0h15m7 0h36m1 0h7m3 0h2m1 0h2m1 0h4m1 0h7m2 0h5m2 0h1m2 0h2m1 0h6m13 0h2m1 0h6m1 0h1m2 0h5m2 0h2m1 0h1m3 0h1m3 0h1m2 0h1m1 0h1m1 0h1m1 0h1m154 0h7m1 0h9m1 0h2m3 0h11m2 0h27m5 0h4m2 0h3m1 0h1m1 0h3m1 0h11m1 0h1m1 0h1m1 0h5m1 0h1m1 0h6m3 0h7m2 0h6m4 0h1m1 0h2m1 0h4m1 0h2m1 0h1m1 0h1m2 0h2m13 0h1m1 0h8m1 0h6m1 0h2m1 0h2m3 0h3m1 0h2m1 0h7M100 104.5h24m1 0h30m1 0h3m1 0h12m5 0h7m1 0h3m1 0h1m1 0h23m1 0h7m3 0h3m1 0h14m2 0h4m3 0h5m1 0h6m13 0h7m1 0h5m1 0h1m1 0h4m2 0h1m1 0h1m1 0h3m2 0h1m2 0h3m1 0h3m157 0h3m2 0h3m1 0h8m2 0h7m1 0h4m2 0h9m1 0h17m5 0h5m1 0h1m1 0h3m2 0h7m1 0h3m1 0h6m1 0h3m1 0h3m1 0h1m1 0h1m1 0h2m3 0h8m2 0h4m5 0h4m1 0h8m1 0h3m1 0h1m14 0h2m1 0h5m1 0h10m1 0h6m1 0h2m2 0h2m1 0h4m1 0h1M97 105.5h35m1 0h38m6 0h6m1 0h5m1 0h2m1 0h15m1 0h14m2 0h3m1 0h3m1 0h11m1 0h4m1 0h3m1 0h1m4 0h4m16 0h2m1 0h4m1 0h9m1 0h2m1 0h1m1 0h2m3 0h2m1 0h8m158 0h11m1 0h4m2 0h12m2 0h17m1 0h8m7 0h2m1 0h1m3 0h4m1 0h7m1 0h4m2 0h2m1 0h1m1 0h2m4 0h5m1 0h2m2 0h4m2 0h2m1 0h4m1 0h3m3 0h3m1 0h1m2 0h1m4 0h1m1 0h1m2 0h2m14 0h20m2 0h1m1 0h3m1 0h7m1 0h4M96 106.5h19m1 0h27m1 0h17m1 0h9m6 0h6m1 0h18m1 0h5m1 0h3m1 0h10m1 0h2m1 0h1m1 0h7m1 0h6m3 0h2m2 0h3m2 0h6m1 0h2m16 0h1m3 0h1m2 0h3m1 0h2m1 0h1m2 0h2m1 0h1m2 0h4m1 0h4m1 0h2m1 0h2m160 0h14m2 0h1m2 0h9m2 0h9m1 0h16m6 0h3m1 0h3m1 0h4m1 0h4m1 0h8m1 0h2m4 0h1m1 0h1m2 0h1m1 0h1m1 0h1m1 0h2m2 0h4m1 0h1m1 0h2m1 0h4m1 0h2m6 0h1m3 0h1m3 0h1m1 0h1m4 0h1m14 0h8m1 0h10m1 0h2m1 0h1m4 0h11M94 107.5h12m1 0h3m1 0h4m1 0h56m5 0h3m1 0h27m1 0h6m1 0h6m2 0h15m1 0h2m4 0h1m1 0h2m1 0h2m1 0h4m1 0h5m14 0h11m2 0h5m1 0h2m1 0h1m1 0h2m1 0h5m1 0h7m162 0h26m1 0h14m1 0h4m1 0h7m6 0h4m1 0h5m1 0h11m1 0h3m1 0h4m1 0h1m4 0h1m1 0h2m1 0h1m1 0h2m2 0h3m2 0h1m1 0h4m1 0h4m1 0h1m3 0h2m1 0h3m4 0h1m1 0h1m2 0h2m15 0h2m1 0h2m1 0h18m1 0h5m1 0h7m1 0h1M92 108.5h14m1 0h8m2 0h12m2 0h7m1 0h3m1 0h9m1 0h19m5 0h2m1 0h28m1 0h3m1 0h10m2 0h1m1 0h16m2 0h1m3 0h1m2 0h2m1 0h3m1 0h1m1 0h3m14 0h4m1 0h5m1 0h12m2 0h6m1 0h1m1 0h5m165 0h16m1 0h17m1 0h2m1 0h14m5 0h3m1 0h8m1 0h2m1 0h1m2 0h7m1 0h1m1 0h3m1 0h2m1 0h5m1 0h5m3 0h5m1 0h5m1 0h2m3 0h1m5 0h1m3 0h2m1 0h1m5 0h1m1 0h1m13 0h1m2 0h4m1 0h2m1 0h8m1 0h7m1 0h2m2 0h6M90 109.5h15m1 0h1m1 0h7m1 0h12m3 0h12m1 0h5m1 0h10m1 0h9m1 0h1m4 0h32m1 0h14m1 0h4m1 0h2m1 0h10m2 0h2m3 0h9m1 0h1m1 0h3m15 0h3m1 0h7m1 0h6m1 0h4m3 0h2m1 0h7m169 0h25m1 0h4m1 0h3m1 0h1m1 0h13m5 0h3m1 0h4m1 0h19m1 0h3m1 0h1m1 0h1m1 0h3m1 0h3m2 0h1m2 0h1m1 0h1m1 0h1m1 0h2m1 0h6m1 0h1m6 0h2m1 0h1m1 0h1m1 0h4m1 0h5m13 0h2m1 0h2m2 0h3m1 0h12m1 0h14m1 0h1M88 110.5h8m1 0h31m2 0h12m2 0h12m1 0h14m6 0h24m1 0h6m1 0h13m3 0h2m1 0h1m1 0h3m1 0h9m3 0h1m1 0h2m1 0h4m1 0h1m1 0h1m1 0h2m1 0h1m16 0h1m1 0h8m1 0h6m3 0h3m2 0h2m1 0h5m3 0h1m169 0h23m1 0h22m1 0h2m5 0h3m1 0h5m1 0h1m1 0h13m1 0h1m1 0h2m3 0h1m1 0h1m2 0h1m1 0h1m1 0h1m2 0h1m1 0h1m1 0h1m1 0h2m1 0h2m1 0h1m1 0h1m1 0h3m11 0h1m2 0h1m2 0h1m2 0h1m1 0h2m12 0h2m2 0h2m1 0h6m1 0h3m1 0h7m2 0h4m1 0h6m2 0h1M86 111.5h11m1 0h13m1 0h16m3 0h12m1 0h11m1 0h16m4 0h19m1 0h23m1 0h3m1 0h3m2 0h13m2 0h3m1 0h2m1 0h6m2 0h5m18 0h3m1 0h3m1 0h6m1 0h2m1 0h1m2 0h8m1 0h4m1 0h1m170 0h14m1 0h24m1 0h7m5 0h2m1 0h7m2 0h3m1 0h5m1 0h3m3 0h2m3 0h2m1 0h6m1 0h1m1 0h1m2 0h5m1 0h4m1 0h1m2 0h4m1 0h3m1 0h6m2 0h3m2 0h4m13 0h1m2 0h7m1 0h1m1 0h1m1 0h2m1 0h3m1 0h15m1 0h1M86 112.5h56m2 0h2m1 0h25m4 0h9m1 0h9m1 0h9m1 0h2m2 0h2m2 0h6m1 0h2m2 0h6m1 0h10m2 0h3m1 0h1m2 0h7m1 0h1m1 0h1m1 0h1m18 0h2m1 0h10m1 0h4m3 0h6m1 0h2m1 0h5m172 0h41m1 0h2m5 0h1m1 0h14m1 0h8m1 0h5m2 0h1m2 0h11m2 0h3m3 0h6m2 0h1m5 0h8m1 0h5m1 0h5m13 0h1m1 0h12m1 0h17m1 0h4m2 0h1M84 113.5h13m1 0h32m1 0h40m4 0h2m1 0h2m1 0h13m1 0h11m1 0h4m1 0h11m2 0h15m1 0h1m3 0h2m5 0h4m2 0h1m1 0h4m17 0h18m1 0h1m1 0h7m1 0h8m176 0h40m5 0h3m1 0h14m1 0h8m3 0h1m2 0h1m2 0h1m1 0h1m1 0h1m1 0h2m1 0h2m2 0h4m1 0h1m1 0h8m1 0h2m5 0h4m3 0h1m1 0h4m1 0h2m15 0h1m2 0h9m1 0h6m1 0h2m1 0h1m1 0h3m1 0h7M83 114.5h13m2 0h17m1 0h7m1 0h30m1 0h1m1 0h3m1 0h10m5 0h16m1 0h15m1 0h14m2 0h1m1 0h13m1 0h1m3 0h2m2 0h1m1 0h5m4 0h2m1 0h1m16 0h13m1 0h9m1 0h2m1 0h10m177 0h18m1 0h5m1 0h3m1 0h11m6 0h11m1 0h18m1 0h2m3 0h10m2 0h1m2 0h1m1 0h1m2 0h2m1 0h2m1 0h4m2 0h2m1 0h9m2 0h3m1 0h1m15 0h5m1 0h3m1 0h1m1 0h3m1 0h5m1 0h1m1 0h12m1 0h1M82 115.5h27m1 0h5m1 0h5m1 0h1m1 0h17m1 0h5m1 0h8m1 0h14m5 0h14m1 0h15m1 0h1m1 0h7m1 0h1m1 0h4m3 0h3m1 0h1m2 0h9m3 0h2m1 0h10m1 0h5m15 0h2m1 0h6m1 0h1m1 0h13m1 0h7m1 0h5m178 0h10m2 0h11m1 0h6m1 0h8m4 0h4m1 0h12m1 0h7m1 0h6m1 0h2m1 0h2m1 0h1m1 0h4m1 0h2m1 0h1m4 0h2m2 0h2m1 0h3m2 0h1m2 0h2m1 0h2m1 0h6m1 0h1m1 0h3m1 0h1m16 0h3m1 0h1m1 0h3m1 0h3m1 0h1m1 0h3m4 0h1m1 0h4m1 0h2m1 0h3M81 116.5h9m3 0h13m1 0h8m1 0h45m1 0h9m5 0h15m1 0h15m2 0h9m1 0h5m1 0h7m1 0h9m2 0h1m1 0h1m2 0h1m2 0h5m1 0h6m14 0h10m1 0h8m1 0h2m1 0h3m1 0h2m1 0h10m180 0h8m2 0h27m1 0h1m2 0h4m1 0h9m1 0h12m1 0h4m1 0h1m1 0h1m1 0h3m1 0h3m1 0h1m3 0h3m1 0h6m3 0h5m2 0h3m1 0h1m2 0h5m3 0h1m1 0h1m1 0h1m15 0h6m1 0h12m1 0h1m1 0h13M81 117.5h9m3 0h3m1 0h31m1 0h43m4 0h32m1 0h14m2 0h3m1 0h13m2 0h3m1 0h2m3 0h1m1 0h2m1 0h2m1 0h1m1 0h1m14 0h7m1 0h2m1 0h10m1 0h18m182 0h12m1 0h6m1 0h14m5 0h4m1 0h1m1 0h20m1 0h4m1 0h2m1 0h4m1 0h1m1 0h3m3 0h1m1 0h3m1 0h1m2 0h3m1 0h1m1 0h3m2 0h6m2 0h3m2 0h3m2 0h1m16 0h17m1 0h3m1 0h1m2 0h4m1 0h1m1 0h6M80 118.5h10m2 0h13m1 0h10m1 0h54m3 0h1m1 0h32m1 0h3m1 0h3m1 0h6m2 0h10m1 0h2m1 0h3m2 0h5m2 0h3m1 0h5m2 0h1m14 0h3m2 0h1m1 0h4m1 0h8m1 0h5m1 0h6m1 0h7m184 0h10m1 0h12m1 0h8m5 0h23m1 0h1m1 0h6m1 0h2m2 0h2m3 0h3m2 0h1m1 0h5m1 0h3m1 0h1m2 0h4m2 0h2m1 0h2m3 0h3m2 0h7m16 0h8m4 0h1m3 0h2m1 0h2m2 0h8m1 0h6M80 119.5h10m3 0h6m1 0h26m1 0h1m2 0h20m1 0h1m1 0h18m5 0h10m1 0h9m1 0h10m2 0h11m1 0h2m2 0h14m5 0h4m4 0h1m1 0h1m1 0h3m2 0h3m13 0h3m1 0h1m2 0h14m1 0h9m1 0h9m186 0h19m1 0h10m6 0h1m1 0h23m1 0h1m1 0h2m2 0h3m3 0h1m2 0h2m1 0h3m1 0h3m2 0h3m2 0h8m1 0h5m4 0h4m1 0h3m2 0h1m18 0h6m1 0h5m6 0h3m1 0h3m1 0h7m1 0h2M80 120.5h28m1 0h19m2 0h13m1 0h27m5 0h16m1 0h2m1 0h2m1 0h1m1 0h21m3 0h1m1 0h13m1 0h2m1 0h2m2 0h1m1 0h3m1 0h7m1 0h2m14 0h2m1 0h3m1 0h5m1 0h16m2 0h1m1 0h3m1 0h1m1 0h1m187 0h8m1 0h5m2 0h13m5 0h9m1 0h15m5 0h1m2 0h1m1 0h6m1 0h3m1 0h2m1 0h2m1 0h10m2 0h3m3 0h3m1 0h1m1 0h5m4 0h4m16 0h6m1 0h2m1 0h2m1 0h2m1 0h1m1 0h2m1 0h13m1 0h2M79 121.5h42m1 0h6m2 0h13m1 0h27m6 0h17m1 0h21m1 0h6m1 0h16m2 0h1m2 0h3m3 0h1m1 0h2m1 0h7m14 0h3m1 0h8m1 0h26m1 0h1m190 0h11m1 0h14m6 0h4m1 0h9m1 0h9m1 0h2m1 0h3m1 0h2m2 0h3m2 0h3m1 0h1m2 0h1m1 0h7m2 0h4m1 0h1m3 0h6m2 0h1m1 0h2m2 0h3m1 0h2m16 0h3m1 0h5m1 0h3m1 0h5m1 0h1m1 0h3m2 0h2m2 0h6M79 122.5h36m2 0h26m1 0h3m1 0h4m1 0h2m1 0h15m5 0h24m1 0h7m1 0h1m1 0h3m1 0h7m3 0h11m1 0h2m1 0h2m1 0h1m5 0h2m4 0h4m1 0h3m15 0h11m1 0h22m1 0h3m1 0h1m191 0h25m6 0h3m1 0h2m1 0h16m1 0h3m1 0h2m2 0h4m1 0h3m1 0h6m1 0h3m1 0h2m1 0h3m2 0h5m3 0h7m1 0h2m1 0h1m1 0h1m1 0h1m1 0h2m17 0h2m2 0h3m1 0h4m1 0h1m1 0h3m1 0h2m1 0h1m1 0h3m1 0h2m1 0h4m1 0h1M79 123.5h18m1 0h17m2 0h5m1 0h41m1 0h6m6 0h42m2 0h2m2 0h6m1 0h3m1 0h3m1 0h3m5 0h1m1 0h3m2 0h3m2 0h4m14 0h3m1 0h7m2 0h8m1 0h7m1 0h4m1 0h5m195 0h13m1 0h8m5 0h4m1 0h7m1 0h2m1 0h7m4 0h4m1 0h11m1 0h3m1 0h7m1 0h9m3 0h11m1 0h2m1 0h4m17 0h7m1 0h5m2 0h5m1 0h4m1 0h1m1 0h4m1 0h1m1 0h2M78 124.5h37m1 0h3m1 0h51m5 0h4m1 0h1m1 0h7m1 0h5m1 0h2m1 0h8m1 0h13m2 0h19m2 0h8m2 0h2m1 0h5m15 0h40m196 0h20m6 0h2m1 0h11m1 0h9m2 0h5m1 0h1m1 0h2m2 0h3m1 0h1m1 0h2m2 0h1m1 0h4m1 0h1m1 0h8m3 0h11m4 0h5m16 0h7m1 0h5m2 0h1m1 0h3m2 0h5m4 0h3m1 0h2M78 125.5h22m1 0h14m2 0h25m2 0h27m6 0h16m1 0h4m1 0h9m1 0h7m1 0h6m2 0h2m1 0h12m5 0h3m4 0h2m1 0h8m15 0h3m1 0h9m1 0h6m1 0h8m1 0h10m200 0h16m6 0h11m1 0h11m3 0h4m1 0h5m2 0h2m1 0h5m2 0h1m1 0h3m1 0h7m1 0h5m1 0h5m1 0h7m1 0h6m16 0h12m3 0h1m2 0h2m2 0h5m1 0h4m2 0h3M77 126.5h67m1 0h27m5 0h19m1 0h26m3 0h1m1 0h7m1 0h6m3 0h1m3 0h11m1 0h3m15 0h26m1 0h9m1 0h2m202 0h15m5 0h14m1 0h11m1 0h4m1 0h2m1 0h1m1 0h2m1 0h3m1 0h2m2 0h2m1 0h13m4 0h4m1 0h7m3 0h5m17 0h6m1 0h9m1 0h4m1 0h4m1 0h9M77 127.5h51m3 0h11m1 0h1m1 0h6m1 0h20m5 0h20m1 0h10m1 0h14m2 0h18m1 0h3m1 0h2m1 0h2m2 0h9m15 0h2m1 0h10m1 0h5m1 0h9m1 0h9m204 0h13m5 0h3m1 0h20m1 0h1m1 0h4m1 0h2m1 0h1m1 0h9m1 0h1m1 0h9m1 0h1m1 0h3m3 0h1m1 0h1m1 0h1m1 0h2m4 0h3m1 0h5m16 0h5m1 0h1m1 0h5m1 0h1m4 0h7m1 0h6m1 0h2M77 128.5h13m3 0h21m1 0h13m3 0h12m2 0h21m1 0h4m6 0h35m1 0h10m1 0h18m3 0h1m2 0h2m1 0h11m1 0h1m17 0h12m1 0h2m1 0h7m1 0h3m1 0h3m1 0h3m1 0h1m207 0h10m6 0h1m1 0h4m1 0h23m1 0h2m2 0h2m1 0h7m2 0h1m1 0h6m1 0h9m3 0h2m1 0h1m1 0h2m1 0h8m1 0h2m17 0h1m1 0h1m1 0h2m1 0h6m1 0h2m1 0h2m1 0h13m1 0h2M76 129.5h14m3 0h5m1 0h23m1 0h5m3 0h9m1 0h2m1 0h16m1 0h11m5 0h26m1 0h4m1 0h10m1 0h3m1 0h5m2 0h12m2 0h2m1 0h2m1 0h2m1 0h3m1 0h2m2 0h2m17 0h2m1 0h4m1 0h10m1 0h10m1 0h2m1 0h4m209 0h8m5 0h17m1 0h5m1 0h1m1 0h5m1 0h2m1 0h8m1 0h2m2 0h3m1 0h2m2 0h2m1 0h4m1 0h1m4 0h1m2 0h1m1 0h1m1 0h4m2 0h3m2 0h1m17 0h6m2 0h8m1 0h2m1 0h9m1 0h1m1 0h4M76 130.5h14m3 0h3m1 0h14m1 0h3m2 0h11m2 0h12m1 0h12m1 0h15m6 0h31m1 0h13m3 0h17m1 0h1m1 0h3m1 0h4m1 0h1m1 0h3m1 0h4m17 0h8m2 0h5m1 0h12m1 0h8m212 0h5m7 0h5m1 0h3m1 0h19m1 0h1m1 0h2m1 0h6m1 0h1m3 0h8m1 0h3m1 0h3m4 0h5m2 0h10m2 0h1m17 0h6m1 0h8m2 0h11m1 0h7M76 131.5h14m3 0h22m2 0h33m1 0h4m2 0h14m6 0h26m1 0h4m1 0h14m2 0h1m1 0h16m1 0h4m1 0h1m2 0h12m17 0h1m1 0h7m1 0h15m1 0h1m1 0h9m214 0h3m6 0h3m1 0h2m1 0h3m1 0h12m2 0h4m2 0h6m1 0h7m3 0h6m1 0h1m1 0h4m1 0h2m3 0h1m1 0h4m2 0h1m1 0h2m3 0h5m17 0h3m1 0h11m3 0h1m1 0h5m1 0h2m1 0h7M75 132.5h15m2 0h14m1 0h1m1 0h17m1 0h3m1 0h10m1 0h3m1 0h9m1 0h15m6 0h37m1 0h8m2 0h12m2 0h4m2 0h2m1 0h2m1 0h3m2 0h6m19 0h1m1 0h7m1 0h12m2 0h13m216 0h1m6 0h13m1 0h3m1 0h2m1 0h2m3 0h7m1 0h4m1 0h5m3 0h4m2 0h7m2 0h2m3 0h6m2 0h1m1 0h10m17 0h2m1 0h10m1 0h2m2 0h1m1 0h1m1 0h3m1 0h3m1 0h2m2 0h2M74 133.5h81m2 0h15m5 0h22m1 0h21m4 0h11m1 0h2m1 0h2m2 0h6m1 0h13m17 0h3m1 0h7m1 0h25m223 0h23m1 0h6m1 0h2m1 0h10m1 0h1m1 0h2m1 0h1m1 0h10m6 0h3m3 0h1m1 0h5m1 0h5m17 0h6m2 0h6m3 0h2m1 0h3m1 0h1m1 0h6m1 0h3M73 134.5h44m1 0h37m1 0h15m6 0h30m2 0h1m1 0h12m1 0h15m1 0h3m2 0h5m2 0h12m17 0h19m1 0h1m1 0h1m1 0h4m1 0h8m222 0h20m1 0h4m1 0h1m1 0h2m2 0h5m1 0h2m1 0h5m2 0h9m2 0h5m1 0h1m1 0h12m2 0h1m2 0h2m1 0h1m17 0h6m1 0h1m1 0h1m1 0h7m3 0h4m1 0h1m1 0h8M70 135.5h27m1 0h44m3 0h27m5 0h7m1 0h11m1 0h2m1 0h8m1 0h13m2 0h19m2 0h4m1 0h8m1 0h5m17 0h1m1 0h3m1 0h31m223 0h18m3 0h1m1 0h7m1 0h14m2 0h1m1 0h4m1 0h4m1 0h6m1 0h3m2 0h1m1 0h1m1 0h4m2 0h4m20 0h4m1 0h1m2 0h10m3 0h9m2 0h2M69 136.5h52m1 0h1m1 0h19m1 0h28m5 0h9m1 0h21m1 0h14m2 0h4m1 0h12m3 0h2m1 0h9m1 0h4m1 0h1m17 0h29m1 0h7m226 0h33m1 0h6m1 0h1m1 0h7m1 0h9m4 0h4m1 0h2m1 0h1m2 0h1m1 0h2m1 0h4m17 0h1m1 0h5m2 0h3m1 0h5m1 0h6m1 0h5m1 0h4M69 137.5h21m2 0h36m2 0h13m1 0h21m1 0h6m5 0h13m1 0h17m1 0h17m1 0h12m1 0h3m2 0h1m1 0h5m1 0h1m2 0h8m18 0h2m1 0h11m1 0h19m1 0h1m228 0h10m1 0h7m1 0h11m1 0h3m2 0h1m1 0h2m2 0h2m1 0h12m1 0h2m2 0h2m1 0h7m1 0h2m1 0h3m20 0h5m1 0h3m1 0h3m1 0h1m2 0h1m1 0h6m1 0h5m1 0h1m1 0h2M70 138.5h20m2 0h4m1 0h2m1 0h28m3 0h12m2 0h4m1 0h21m6 0h19m1 0h27m1 0h14m1 0h2m3 0h5m1 0h2m1 0h1m1 0h3m1 0h4m19 0h13m1 0h1m1 0h4m2 0h13m231 0h27m1 0h3m1 0h6m1 0h1m1 0h1m1 0h8m1 0h5m2 0h5m1 0h1m1 0h1m2 0h2m1 0h6m17 0h7m1 0h7m1 0h2m1 0h4m2 0h4m1 0h3m1 0h2M72 139.5h17m3 0h4m1 0h18m1 0h5m1 0h4m1 0h1m3 0h6m1 0h33m6 0h22m1 0h8m1 0h14m2 0h18m1 0h3m1 0h2m1 0h2m1 0h10m17 0h5m1 0h17m1 0h4m1 0h8m233 0h22m2 0h4m3 0h4m2 0h12m1 0h3m5 0h8m2 0h3m1 0h3m1 0h1m16 0h11m1 0h1m3 0h1m2 0h3m1 0h4m1 0h4m1 0h1m1 0h1M74 140.5h16m2 0h23m1 0h12m3 0h7m1 0h5m1 0h24m1 0h2m5 0h1m1 0h28m3 0h13m1 0h3m1 0h14m3 0h2m1 0h2m1 0h2m1 0h1m1 0h6m1 0h1m17 0h18m1 0h4m1 0h13m236 0h9m3 0h11m1 0h3m2 0h1m1 0h1m2 0h10m1 0h5m4 0h4m2 0h1m3 0h1m1 0h5m1 0h1m17 0h13m1 0h15m1 0h6M75 141.5h15m2 0h14m1 0h1m1 0h3m1 0h2m1 0h13m1 0h39m1 0h1m5 0h47m2 0h18m1 0h3m1 0h1m2 0h3m1 0h9m16 0h16m1 0h14m1 0h6m239 0h14m1 0h8m1 0h2m1 0h2m2 0h10m1 0h7m3 0h8m2 0h1m1 0h1m1 0h3m1 0h1m16 0h14m1 0h1m1 0h4m1 0h4m1 0h10M76 142.5h20m1 0h53m1 0h3m1 0h16m6 0h5m1 0h8m1 0h15m2 0h2m1 0h2m1 0h3m3 0h2m1 0h4m1 0h13m2 0h2m1 0h5m1 0h4m1 0h2m1 0h2m17 0h13m1 0h24m242 0h10m2 0h5m1 0h6m1 0h1m2 0h2m1 0h4m2 0h1m2 0h6m1 0h10m1 0h1m4 0h5m16 0h2m1 0h1m1 0h5m1 0h3m1 0h2m1 0h2m1 0h1m1 0h3m1 0h10M76 143.5h50m1 0h44m6 0h3m1 0h2m1 0h24m1 0h10m1 0h3m1 0h13m1 0h4m3 0h8m1 0h1m1 0h8m16 0h11m1 0h5m1 0h4m2 0h14m244 0h9m1 0h12m1 0h1m2 0h9m1 0h2m2 0h3m3 0h8m3 0h3m1 0h5m16 0h6m1 0h7m1 0h2m1 0h4m1 0h10m2 0h2M77 144.5h94m5 0h47m1 0h18m2 0h5m2 0h2m3 0h7m16 0h1m1 0h16m1 0h1m1 0h1m1 0h16m247 0h9m1 0h5m1 0h2m1 0h1m3 0h8m1 0h3m1 0h2m1 0h1m2 0h11m1 0h1m1 0h1m1 0h5m15 0h5m1 0h12m1 0h3m1 0h8m1 0h3m1 0h2M77 145.5h42m1 0h35m1 0h15m5 0h1m1 0h11m1 0h33m2 0h1m1 0h8m1 0h6m3 0h3m1 0h8m1 0h4m1 0h1m15 0h6m1 0h6m1 0h4m1 0h16m1 0h3m250 0h18m2 0h10m1 0h7m2 0h6m1 0h3m2 0h2m1 0h5m15 0h6m1 0h3m1 0h10m1 0h2m1 0h3m1 0h2m1 0h3m1 0h2M77 146.5h49m1 0h44m6 0h31m1 0h6m1 0h7m2 0h10m1 0h7m2 0h1m2 0h2m1 0h13m15 0h9m1 0h26m1 0h2m254 0h11m1 0h1m3 0h2m1 0h13m1 0h1m2 0h9m3 0h1m1 0h5m18 0h4m1 0h9m3 0h6m1 0h1m1 0h3m1 0h1m1 0h4M78 147.5h45m1 0h12m1 0h6m2 0h25m7 0h10m1 0h2m1 0h1m1 0h11m1 0h3m1 0h14m2 0h14m1 0h3m2 0h2m1 0h2m1 0h3m3 0h6m15 0h8m1 0h3m1 0h18m1 0h6m1 0h1m256 0h9m1 0h2m2 0h4m1 0h6m1 0h6m1 0h6m1 0h1m4 0h3m1 0h2m1 0h2m17 0h1m1 0h1m1 0h3m1 0h6m2 0h1m1 0h7m1 0h7m1 0h2M78 148.5h28m1 0h36m1 0h7m1 0h14m1 0h3m6 0h1m1 0h5m1 0h10m1 0h13m1 0h4m1 0h5m1 0h2m2 0h18m3 0h4m1 0h3m1 0h10m13 0h8m1 0h6m2 0h10m1 0h13m259 0h9m2 0h1m1 0h14m3 0h4m1 0h3m2 0h3m1 0h4m1 0h2m14 0h1m2 0h8m1 0h6m1 0h4m1 0h7m2 0h3m1 0h2M79 149.5h25m1 0h5m1 0h18m2 0h4m1 0h7m1 0h6m1 0h13m1 0h6m6 0h4m1 0h8m1 0h17m1 0h14m1 0h19m1 0h3m1 0h2m1 0h3m2 0h1m1 0h6m12 0h12m1 0h14m1 0h14m263 0h5m1 0h19m2 0h8m1 0h1m1 0h4m2 0h3m14 0h1m1 0h6m1 0h3m1 0h3m1 0h2m2 0h1m3 0h11m1 0h2M79 150.5h11m2 0h23m2 0h11m2 0h12m2 0h6m1 0h20m6 0h13m1 0h17m1 0h14m2 0h8m1 0h5m1 0h3m2 0h5m1 0h13m12 0h24m1 0h9m1 0h5m1 0h1m266 0h2m2 0h17m1 0h1m1 0h9m1 0h2m1 0h2m1 0h3m14 0h1m2 0h5m2 0h7m3 0h3m1 0h2m2 0h1m1 0h1m1 0h1m1 0h2m1 0h3M80 151.5h10m3 0h22m1 0h27m2 0h5m1 0h20m5 0h8m1 0h1m1 0h2m1 0h31m4 0h7m1 0h4m1 0h4m3 0h3m1 0h8m2 0h4m13 0h13m2 0h27m270 0h16m4 0h7m3 0h10m13 0h2m2 0h1m1 0h2m1 0h1m1 0h6m1 0h5m1 0h3m1 0h12M81 152.5h9m3 0h22m2 0h54m1 0h1m3 0h23m1 0h16m1 0h5m2 0h5m2 0h4m1 0h6m3 0h4m2 0h2m2 0h2m1 0h6m12 0h7m1 0h3m1 0h13m1 0h7m1 0h1m1 0h6m272 0h15m2 0h15m1 0h1m3 0h1m12 0h4m1 0h6m1 0h6m1 0h1m6 0h4m1 0h6m2 0h2M81 153.5h24m1 0h20m1 0h28m1 0h4m1 0h9m6 0h25m1 0h11m1 0h2m1 0h1m1 0h3m3 0h6m2 0h8m1 0h1m1 0h1m1 0h1m1 0h3m1 0h1m1 0h2m2 0h6m12 0h9m1 0h10m1 0h7m1 0h13m277 0h11m1 0h2m1 0h10m2 0h2m1 0h2m13 0h3m1 0h8m1 0h2m4 0h1m1 0h2m4 0h9m1 0h1m1 0h2M83 154.5h15m1 0h13m2 0h29m1 0h21m1 0h4m6 0h46m3 0h17m1 0h7m2 0h3m1 0h8m12 0h7m1 0h20m1 0h13m280 0h8m2 0h12m1 0h1m1 0h5m12 0h9m1 0h1m1 0h3m1 0h1m1 0h1m1 0h1m1 0h1m2 0h2m1 0h4m3 0h5M85 155.5h13m1 0h5m1 0h65m6 0h32m1 0h14m2 0h4m1 0h8m1 0h3m1 0h1m1 0h4m1 0h2m1 0h1m2 0h1m1 0h6m12 0h27m1 0h3m1 0h10m284 0h4m2 0h11m1 0h8m12 0h11m3 0h3m1 0h1m1 0h1m2 0h1m1 0h1m1 0h2m2 0h2m2 0h1m1 0h1m1 0h1M87 156.5h13m1 0h5m1 0h42m1 0h1m1 0h18m6 0h32m1 0h14m2 0h17m2 0h4m1 0h2m1 0h1m1 0h2m1 0h3m1 0h3m12 0h22m1 0h5m2 0h12m289 0h13m1 0h2m1 0h4m12 0h4m1 0h8m1 0h1m4 0h2m3 0h2m1 0h4m1 0h2m1 0h6M89 157.5h16m2 0h6m1 0h11m1 0h4m1 0h40m5 0h14m1 0h9m1 0h7m1 0h3m1 0h10m2 0h5m1 0h11m2 0h6m1 0h6m1 0h5m13 0h21m1 0h4m1 0h7m1 0h7m291 0h12m1 0h6m12 0h4m1 0h1m1 0h5m1 0h1m1 0h5m1 0h9m2 0h5m1 0h3M91 158.5h52m1 0h27m6 0h31m1 0h7m1 0h6m1 0h18m3 0h12m1 0h6m12 0h21m1 0h9m1 0h10m295 0h15m11 0h1m1 0h1m2 0h5m1 0h2m1 0h4m1 0h5m5 0h2m2 0h5m1 0h3M94 159.5h34m3 0h12m1 0h11m1 0h15m5 0h32m1 0h11m1 0h2m1 0h7m1 0h10m3 0h19m12 0h5m1 0h2m1 0h25m1 0h7m297 0h1m1 0h11m11 0h4m1 0h4m2 0h1m1 0h4m1 0h5m2 0h1m1 0h1m1 0h6m1 0h2m2 0h2M97 160.5h18m2 0h5m1 0h5m3 0h12m1 0h11m1 0h15m5 0h32m1 0h3m1 0h9m2 0h19m1 0h19m13 0h14m1 0h12m2 0h13m302 0h8m11 0h12m1 0h4m1 0h4m2 0h1m2 0h1m1 0h13M101 161.5h14m1 0h12m2 0h3m1 0h9m1 0h28m4 0h32m1 0h14m2 0h1m1 0h15m2 0h4m1 0h1m1 0h4m1 0h8m12 0h1m1 0h21m1 0h16m1 0h1m306 0h4m11 0h1m1 0h10m3 0h7m1 0h2m1 0h5m1 0h10M104 162.5h11m1 0h7m1 0h4m3 0h18m1 0h22m4 0h32m1 0h14m2 0h10m1 0h6m3 0h14m2 0h3m12 0h1m1 0h3m1 0h4m1 0h16m1 0h14m308 0h2m12 0h1m1 0h1m1 0h7m2 0h1m1 0h6m1 0h2m3 0h3m1 0h2m2 0h6M107 163.5h8m1 0h12m3 0h39m1 0h1m5 0h22m1 0h8m1 0h6m1 0h7m3 0h16m2 0h12m4 0h1m1 0h1m13 0h1m1 0h12m1 0h8m1 0h7m1 0h10m309 0h1m14 0h1m1 0h4m1 0h2m2 0h2m2 0h1m1 0h5m2 0h2m1 0h9m1 0h2M111 164.5h4m1 0h5m1 0h15m1 0h15m1 0h18m6 0h21m1 0h17m1 0h5m2 0h17m2 0h2m1 0h17m12 0h10m1 0h23m1 0h7m324 0h1m1 0h2m1 0h4m2 0h5m1 0h2m7 0h5m2 0h1m1 0h1M115 165.5h10m1 0h15m1 0h30m6 0h10m1 0h19m1 0h13m2 0h8m1 0h9m2 0h3m1 0h12m2 0h2m12 0h3m1 0h9m2 0h4m1 0h20m1 0h1m326 0h4m2 0h1m1 0h3m1 0h4m3 0h2m1 0h3m1 0h6m2 0h1m1 0h1M119 166.5h37m1 0h7m1 0h2m1 0h4m6 0h1m1 0h28m1 0h14m2 0h10m1 0h6m2 0h6m1 0h8m2 0h3m12 0h3m1 0h8m1 0h1m1 0h16m1 0h9m327 0h5m1 0h5m3 0h1m1 0h5m1 0h4m1 0h5m2 0h3M123 167.5h6m1 0h34m1 0h7m6 0h11m1 0h25m1 0h7m2 0h17m2 0h15m2 0h3m12 0h5m2 0h5m1 0h24m1 0h4m327 0h4m1 0h2m1 0h1m1 0h2m2 0h3m1 0h3m1 0h4m1 0h4m3 0h2M127 168.5h1m3 0h40m6 0h6m1 0h24m1 0h13m3 0h15m1 0h1m2 0h11m3 0h6m12 0h23m1 0h18m328 0h2m1 0h1m2 0h2m1 0h2m1 0h2m1 0h3m1 0h7m2 0h1m1 0h1m2 0h1M133 169.5h10m1 0h8m1 0h14m1 0h3m6 0h30m2 0h14m2 0h17m2 0h4m2 0h5m1 0h3m2 0h1m14 0h10m1 0h17m1 0h12m330 0h1m2 0h1m2 0h1m1 0h1m2 0h6m2 0h1m1 0h2m2 0h4m1 0h1M136 170.5h7m1 0h10m1 0h16m6 0h24m1 0h5m2 0h13m2 0h18m3 0h10m1 0h4m1 0h3m12 0h2m1 0h38m332 0h3m1 0h2m4 0h1m3 0h3m1 0h1m3 0h6M141 171.5h30m5 0h22m1 0h23m3 0h17m3 0h5m1 0h4m1 0h4m1 0h3m12 0h6m1 0h24m1 0h1m1 0h8m331 0h2m1 0h1m1 0h1m2 0h1m1 0h4m3 0h2m1 0h1m1 0h6m1 0h3M144 172.5h1m1 0h25m5 0h37m1 0h9m1 0h19m3 0h3m1 0h7m2 0h4m13 0h6m2 0h2m1 0h31m334 0h2m1 0h2m1 0h4m1 0h2m1 0h5m1 0h5m1 0h3M151 173.5h20m5 0h32m1 0h14m2 0h1m1 0h16m1 0h3m1 0h16m12 0h2m1 0h4m1 0h3m1 0h30m334 0h3m1 0h2m1 0h3m1 0h2m2 0h8m1 0h1M154 174.5h1m1 0h15m2 0h1m2 0h45m4 0h15m1 0h2m1 0h5m1 0h2m1 0h6m1 0h1m1 0h2m12 0h6m1 0h7m1 0h24m1 0h2m335 0h1m2 0h5m1 0h4m2 0h2m4 0h1m1 0h2m1 0h1M163 175.5h1m2 0h5m6 0h23m1 0h17m1 0h4m2 0h18m1 0h4m1 0h2m1 0h4m1 0h7m12 0h36m1 0h5m337 0h2m1 0h6m1 0h1m3 0h2m1 0h2m1 0h1m1 0h4M177 176.5h46m1 0h18m3 0h5m1 0h13m12 0h1m1 0h7m2 0h3m1 0h22m2 0h3m339 0h1m1 0h2m3 0h2m1 0h1m1 0h1m2 0h1m2 0h6M184 177.5h38m3 0h18m1 0h1m1 0h1m1 0h2m1 0h2m1 0h1m1 0h8m12 0h9m1 0h3m1 0h28m341 0h2m2 0h1m1 0h1m1 0h1m1 0h1m4 0h3m1 0h1m1 0h1M191 178.5h1m3 0h13m1 0h14m1 0h14m1 0h4m1 0h6m1 0h3m2 0h2m1 0h1m1 0h3m12 0h13m1 0h2m1 0h17m1 0h1m1 0h3m345 0h3m3 0h1m1 0h1m5 0h1m2 0h3M207 179.5h16m1 0h14m1 0h4m1 0h10m1 0h2m2 0h4m13 0h1m1 0h2m2 0h5m1 0h1m2 0h1m1 0h15m1 0h1m1 0h4m1 0h2m346 0h1m1 0h1m1 0h2m2 0h5m2 0h1M220 180.5h2m3 0h18m1 0h20m12 0h13m1 0h18m1 0h7m1 0h1m345 0h1m4 0h2m4 0h3m2 0h2M230 181.5h1m2 0h10m1 0h20m12 0h12m1 0h5m1 0h14m1 0h8m346 0h1m3 0h2m1 0h1m1 0h6M245 182.5h19m12 0h8m1 0h9m1 0h1m1 0h11m1 0h9m348 0h1m2 0h1m1 0h3m2 0h1M253 183.5h11m15 0h10m1 0h28m353 0h2m3 0h1M258 184.5h6m18 0h35m354 0h2m2 0h1M262 185.5h2m21 0h19m2 0h3m2 0h1m1 0h3m1 0h1m355 0h1m2 0h2m1 0h1M288 186.5h9m1 0h11m1 0h7m357 0h3m3 0h1M292 187.5h2m1 0h9m1 0h2m1 0h10m357 0h2m2 0h2M296 188.5h22m358 0h1M299 189.5h5m1 0h4m2 0h2m1 0h4m360 0h1m1 0h1M303 190.5h1m1 0h6m1 0h6m360 0h1m1 0h1M307 191.5h4m1 0h4m363 0h1M310 192.5h8m362 0h1M315 193.5h1m1 0h1M317 194.5h1" stroke="#9090ff" stroke-width="1" fill="none" shape-rendering="crispEdges"/>
<path d="M639 9.5h3m2 0h8m1 0h1m1 0h1m1 0h3m2 0h1m1 0h4m4 0h6m1 0h2M316 10.5h1m307 0h1m14 0h3m1 0h8m2 0h1m2 0h7m3 0h1m4 0h1m1 0h1m1 0h1m3 0h2M315 11.5h2m272 0h1m3 0h2m1 0h9m3 0h20m12 0h3m2 0h5m1 0h1m1 0h9m1 0h3m1 0h2m1 0h6m1 0h4M312 12.5h2m1 0h1m253 0h2m1 0h1m1 0h12m2 0h18m1 0h21m14 0h4m1 0h1m1 0h1m1 0h5m1 0h3m1 0h2m1 0h2m1 0h1m2 0h7m1 0h3M310 13.5h1m2 0h1m1 0h1m243 0h1m1 0h1m1 0h23m2 0h3m1 0h7m1 0h6m1 0h1m1 0h7m1 0h1m1 0h1m1 0h1m1 0h3m1 0h1m17 0h1m1 0h8m2 0h4m1 0h1m1 0h2m2 0h5m2 0h1m1 0h4M309 14.5h2m1 0h1m233 0h1m1 0h14m1 0h7m2 0h4m2 0h2m1 0h2m1 0h1m3 0h6m1 0h3m2 0h5m4 0h4m1 0h1m1 0h12m19 0h1m1 0h3m1 0h7m1 0h1m1 0h1m1 0h1m1 0h1m1 0h1m1 0h7m1 0h2M308 15.5h1m2 0h3m3 0h1m220 0h1m1 0h17m1 0h3m1 0h4m1 0h1m1 0h2m1 0h2m1 0h1m3 0h3m2 0h5m1 0h4m2 0h8m1 0h1m2 0h5m1 0h6m2 0h2m2 0h2m19 0h5m1 0h3m1 0h5m1 0h2m1 0h4m2 0h1m1 0h6M306 16.5h3m2 0h1m215 0h1m1 0h6m3 0h1m2 0h13m1 0h5m1 0h1m2 0h1m1 0h1m3 0h4m2 0h2m1 0h4m2 0h1m1 0h2m1 0h4m3 0h1m1 0h1m1 0h5m4 0h1m1 0h4m1 0h4m1 0h2m1 0h3m18 0h8m1 0h1m3 0h5m1 0h6m1 0h2m1 0h1m2 0h3M305 17.5h1m1 0h1m3 0h1m5 0h1m201 0h16m5 0h2m2 0h1m1 0h1m1 0h5m1 0h2m2 0h4m1 0h6m3 0h5m2 0h1m1 0h1m1 0h3m2 0h1m1 0h10m2 0h4m2 0h2m2 0h4m2 0h2m2 0h1m2 0h3m18 0h1m1 0h7m1 0h2m1 0h6m1 0h5m1 0h4m2 0h3M303 18.5h1m3 0h1m2 0h1m6 0h1m194 0h15m1 0h4m1 0h2m5 0h11m1 0h1m1 0h1m1 0h1m1 0h4m1 0h7m2 0h1m1 0h1m2 0h1m1 0h4m1 0h2m2 0h4m1 0h2m1 0h1m1 0h3m1 0h4m3 0h2m2 0h1m1 0h1m2 0h2m1 0h2m2 0h2m18 0h11m2 0h10m1 0h2m1 0h3m2 0h4M306 19.5h2m1 0h2m3 0h2m189 0h13m1 0h8m1 0h3m1 0h3m5 0h1m1 0h1m2 0h6m3 0h2m1 0h5m2 0h9m2 0h11m2 0h4m1 0h2m1 0h1m1 0h1m1 0h4m1 0h1m4 0h2m2 0h2m1 0h2m1 0h5m20 0h4m1 0h2m1 0h5m1 0h9m1 0h2m1 0h2m1 0h5M304 20.5h1m2 0h3m4 0h2m181 0h18m1 0h2m1 0h2m1 0h9m1 0h3m7 0h1m2 0h2m2 0h3m1 0h3m1 0h8m1 0h5m2 0h4m1 0h1m1 0h5m3 0h4m1 0h3m1 0h1m1 0h1m1 0h3m1 0h1m1 0h2m2 0h1m1 0h1m1 0h2m1 0h2m3 0h3m1 0h1m17 0h2m1 0h1m1 0h7m1 0h3m1 0h9m1 0h2m1 0h3m1 0h2M309 21.5h1m1 0h1m2 0h3m173 0h16m1 0h25m8 0h4m2 0h1m1 0h1m1 0h1m1 0h1m2 0h8m1 0h7m1 0h2m1 0h2m1 0h1m1 0h3m1 0h1m4 0h8m2 0h5m1 0h1m1 0h1m1 0h1m1 0h1m1 0h1m1 0h1m2 0h1m4 0h1m1 0h3m16 0h2m1 0h1m1 0h2m1 0h2m1 0h9m1 0h1m1 0h4m2 0h4m2 0h2M299 22.5h3m7 0h1m4 0h1m1 0h1m167 0h31m1 0h3m1 0h11m1 0h3m5 0h1m4 0h6m1 0h3m1 0h6m1 0h11m1 0h5m1 0h1m1 0h3m2 0h9m1 0h6m1 0h1m4 0h4m4 0h1m2 0h4m1 0h2m13 0h5m1 0h1m1 0h2m2 0h4m1 0h2m1 0h1m1 0h3m1 0h1m1 0h1m1 0h7m2 0h1M296 23.5h1m2 0h2m10 0h1m1 0h1m2 0h2m162 0h10m1 0h4m2 0h3m1 0h1m3 0h1m2 0h7m1 0h3m1 0h1m1 0h12m6 0h2m3 0h5m3 0h3m1 0h1m1 0h5m1 0h1m1 0h4m1 0h1m1 0h6m3 0h1m4 0h7m1 0h3m1 0h2m1 0h2m3 0h1m2 0h3m3 0h6m1 0h1m15 0h1m1 0h2m1 0h2m1 0h7m1 0h1m1 0h3m1 0h1m1 0h2m1 0h4m1 0h2m1 0h2m1 0h3M295 24.5h2m3 0h1m7 0h1m2 0h1m2 0h3m157 0h1m1 0h8m2 0h6m2 0h10m4 0h19m1 0h7m2 0h1m3 0h11m1 0h1m1 0h5m2 0h3m3 0h1m1 0h2m3 0h1m1 0h3m1 0h3m3 0h1m1 0h1m2 0h3m1 0h4m1 0h4m2 0h8m1 0h3m3 0h1m1 0h4m12 0h1m1 0h2m1 0h15m1 0h1m2 0h1m3 0h2m2 0h1m1 0h1m1 0h5M293 25.5h1m2 0h2m1 0h2m6 0h2m6 0h1m155 0h12m2 0h2m1 0h3m3 0h12m2 0h4m1 0h1m1 0h2m1 0h4m2 0h4m1 0h5m8 0h1m1 0h2m1 0h2m1 0h9m1 0h5m1 0h3m3 0h1m3 0h4m2 0h2m1 0h1m2 0h1m3 0h8m1 0h2m2 0h1m2 0h1m1 0h1m1 0h2m2 0h5m1 0h3m1 0h1m14 0h1m2 0h3m1 0h1m1 0h1m1 0h5m1 0h3m1 0h1m1 0h2m1 0h1m1 0h2m1 0h3m1 0h3m1 0h1M293 26.5h1m4 0h3m1 0h2m6 0h2m2 0h4m150 0h11m1 0h3m2 0h6m3 0h4m1 0h2m1 0h4m2 0h10m2 0h2m1 0h10m7 0h2m1 0h2m1 0h4m1 0h3m1 0h2m1 0h3m3 0h1m2 0h6m3 0h1m1 0h2m1 0h1m1 0h3m2 0h4m2 0h2m1 0h3m1 0h2m2 0h1m1 0h1m1 0h1m1 0h2m1 0h1m2 0h3m1 0h2m4 0h1m13 0h2m1 0h3m1 0h1m1 0h1m1 0h2m1 0h1m2 0h1m1 0h2m2 0h4m1 0h3m1 0h1m1 0h6M291 27.5h2m3 0h3m2 0h1m4 0h2m3 0h1m2 0h1m1 0h1m147 0h13m3 0h11m3 0h4m1 0h1m2 0h7m1 0h5m1 0h3m1 0h14m2 0h1m6 0h1m3 0h3m1 0h2m2 0h1m2 0h4m5 0h6m2 0h5m1 0h1m1 0h3m1 0h7m3 0h2m4 0h2m4 0h1m1 0h2m5 0h6m2 0h1m14 0h2m1 0h4m2 0h4m1 0h2m1 0h6m1 0h1m1 0h6m1 0h7M290 28.5h1m7 0h1m1 0h1m9 0h2m1 0h3m145 0h8m1 0h22m2 0h9m1 0h5m1 0h3m1 0h1m1 0h10m1 0h3m1 0h1m1 0h1m9 0h4m1 0h13m3 0h2m1 0h2m1 0h3m3 0h2m1 0h1m1 0h5m1 0h1m1 0h1m1 0h1m1 0h2m1 0h10m3 0h2m1 0h3m1 0h1m2 0h1m1 0h1m1 0h4m13 0h2m2 0h2m1 0h1m2 0h4m1 0h4m3 0h1m2 0h16M290 29.5h1m3 0h1m3 0h2m6 0h1m1 0h1m1 0h2m1 0h2m1 0h1m142 0h5m1 0h4m1 0h8m2 0h16m3 0h11m1 0h2m1 0h4m2 0h2m1 0h7m2 0h2m8 0h4m1 0h9m2 0h5m3 0h1m1 0h1m1 0h1m1 0h3m1 0h4m1 0h1m2 0h2m2 0h5m1 0h3m1 0h1m1 0h1m1 0h1m1 0h1m3 0h1m2 0h1m1 0h2m1 0h1m1 0h2m4 0h2m1 0h1m13 0h2m2 0h4m1 0h6m3 0h16m1 0h5M294 30.5h1m10 0h2m1 0h1m2 0h3m142 0h13m1 0h7m3 0h17m1 0h15m1 0h4m2 0h9m3 0h2m6 0h1m2 0h1m1 0h1m3 0h1m3 0h2m3 0h2m2 0h1m2 0h2m1 0h3m1 0h2m1 0h5m1 0h1m2 0h1m3 0h4m1 0h4m1 0h7m2 0h8m3 0h5m3 0h1m13 0h3m1 0h4m2 0h2m2 0h1m3 0h6m1 0h3m2 0h3m1 0h6M291 31.5h1m2 0h1m2 0h1m4 0h2m1 0h1m3 0h3m142 0h11m2 0h2m1 0h5m1 0h2m2 0h8m3 0h2m1 0h1m1 0h1m1 0h8m2 0h8m1 0h1m2 0h1m1 0h3m1 0h3m2 0h2m7 0h2m1 0h5m1 0h1m3 0h2m1 0h3m2 0h2m5 0h1m2 0h1m1 0h6m1 0h1m3 0h1m3 0h1m3 0h4m2 0h1m1 0h3m1 0h1m2 0h4m1 0h2m1 0h1m1 0h1m1 0h1m1 0h3m2 0h1m13 0h3m1 0h5m1 0h7m1 0h6m1 0h3m1 0h1m2 0h4m1 0h4M294 32.5h2m1 0h1m1 0h1m5 0h3m2 0h1m5 0h1m135 0h10m1 0h15m2 0h5m1 0h6m1 0h1m2 0h10m2 0h6m1 0h6m1 0h11m1 0h1m5 0h2m2 0h6m3 0h1m2 0h5m1 0h2m1 0h2m6 0h1m1 0h1m2 0h1m1 0h1m3 0h2m3 0h1m1 0h5m1 0h7m1 0h1m3 0h1m2 0h3m1 0h4m1 0h1m1 0h2m1 0h2m12 0h3m1 0h2m2 0h1m1 0h4m1 0h5m1 0h1m1 0h3m4 0h2m1 0h1m1 0h3m1 0h1M288 33.5h2m3 0h1m5 0h1m3 0h1m1 0h1m4 0h1m1 0h1m4 0h1m132 0h7m1 0h22m1 0h4m1 0h13m2 0h1m1 0h1m4 0h8m1 0h2m2 0h2m1 0h5m1 0h1m1 0h3m7 0h1m1 0h5m1 0h2m1 0h13m1 0h2m3 0h4m1 0h5m1 0h1m7 0h4m2 0h1m1 0h2m1 0h1m1 0h2m4 0h3m5 0h3m1 0h2m15 0h4m2 0h8m1 0h6m1 0h5m4 0h2m1 0h1m3 0h4M286 34.5h1m1 0h2m2 0h2m1 0h4m1 0h1m1 0h2m3 0h2m139 0h5m1 0h1m1 0h14m1 0h8m2 0h1m1 0h2m1 0h9m1 0h1m1 0h1m1 0h4m1 0h10m2 0h6m3 0h3m1 0h2m1 0h1m6 0h1m2 0h2m1 0h3m1 0h9m1 0h4m2 0h1m2 0h2m1 0h3m1 0h1m2 0h3m1 0h1m1 0h1m4 0h3m1 0h1m1 0h2m1 0h1m2 0h1m1 0h2m2 0h4m1 0h4m1 0h6m2 0h2m11 0h4m3 0h3m1 0h6m1 0h2m1 0h4m1 0h1m2 0h4m1 0h3m1 0h4M286 35.5h1m2 0h1m2 0h2m2 0h5m1 0h3m10 0h3m129 0h6m3 0h6m1 0h1m1 0h1m1 0h2m2 0h15m1 0h8m1 0h2m1 0h4m3 0h1m1 0h3m1 0h8m2 0h6m1 0h5m6 0h4m1 0h6m1 0h4m2 0h1m1 0h2m1 0h1m1 0h2m3 0h1m1 0h1m1 0h1m1 0h1m1 0h1m1 0h6m2 0h1m4 0h1m1 0h1m2 0h2m2 0h2m4 0h6m1 0h2m1 0h2m3 0h1m1 0h3m13 0h2m2 0h2m2 0h6m2 0h3m1 0h3m1 0h1m2 0h2m1 0h2m2 0h3m1 0h2M285 36.5h2m4 0h1m1 0h1m2 0h2m3 0h1m6 0h2m4 0h1m131 0h7m3 0h8m1 0h3m2 0h11m1 0h1m1 0h8m2 0h3m1 0h5m1 0h1m1 0h2m2 0h13m2 0h1m1 0h4m1 0h2m6 0h6m2 0h1m1 0h1m2 0h6m1 0h1m4 0h2m2 0h2m1 0h2m1 0h1m2 0h4m1 0h1m1 0h1m2 0h2m3 0h2m1 0h6m1 0h3m4 0h2m1 0h2m1 0h1m1 0h2m3 0h2m16 0h5m1 0h4m2 0h2m1 0h14m1 0h2m1 0h2m2 0h1m1 0h1M286 37.5h3m2 0h1m3 0h2m2 0h1m2 0h1m1 0h2m2 0h1m4 0h3m1 0h1m127 0h23m1 0h5m1 0h4m2 0h9m1 0h1m2 0h2m2 0h1m1 0h5m1 0h9m1 0h3m1 0h2m2 0h2m1 0h1m1 0h2m1 0h2m6 0h5m1 0h5m1 0h2m2 0h1m1 0h1m1 0h3m2 0h2m2 0h2m1 0h1m3 0h2m1 0h3m7 0h3m1 0h3m1 0h1m1 0h1m1 0h3m6 0h2m1 0h1m1 0h5m3 0h3m1 0h1m13 0h7m1 0h4m4 0h10m2 0h2m1 0h1m4 0h2m1 0h1M285 38.5h4m2 0h1m15 0h1m2 0h3m4 0h1m126 0h10m1 0h8m1 0h5m1 0h9m1 0h11m3 0h5m1 0h3m4 0h1m4 0h7m1 0h10m1 0h1m1 0h1m8 0h1m1 0h1m1 0h7m3 0h1m1 0h4m1 0h4m1 0h3m4 0h5m2 0h3m3 0h1m1 0h2m3 0h1m1 0h4m1 0h4m2 0h1m1 0h1m1 0h1m2 0h1m1 0h3m1 0h1m2 0h1m2 0h1m13 0h1m3 0h1m1 0h9m1 0h4m1 0h5m2 0h1m1 0h2m1 0h4m1 0h2M284 39.5h2m6 0h1m1 0h2m3 0h2m1 0h1m4 0h1m7 0h1m1 0h1m125 0h6m1 0h6m1 0h18m1 0h3m1 0h5m2 0h2m1 0h2m2 0h11m1 0h1m2 0h1m1 0h6m1 0h1m2 0h11m2 0h1m5 0h1m1 0h4m1 0h1m2 0h3m1 0h1m1 0h1m2 0h1m1 0h7m4 0h1m2 0h2m1 0h2m1 0h5m4 0h4m1 0h2m1 0h3m3 0h1m4 0h1m1 0h4m3 0h2m2 0h2m19 0h7m2 0h9m1 0h3m1 0h12m2 0h1M283 40.5h1m1 0h1m1 0h1m1 0h5m11 0h1m4 0h2m1 0h1m2 0h2m125 0h26m1 0h3m1 0h5m2 0h6m1 0h4m1 0h5m1 0h1m1 0h1m1 0h3m2 0h2m1 0h3m2 0h3m1 0h3m2 0h6m2 0h2m5 0h1m1 0h1m1 0h1m1 0h3m1 0h1m1 0h2m3 0h4m5 0h2m2 0h1m1 0h3m2 0h3m2 0h2m1 0h1m4 0h2m1 0h1m2 0h1m1 0h1m2 0h1m1 0h1m2 0h1m1 0h2m2 0h2m3 0h3m1 0h2m1 0h1m16 0h7m1 0h3m2 0h1m1 0h1m2 0h2m1 0h2m2 0h1m2 0h2m1 0h6m1 0h2M283 41.5h3m3 0h2m1 0h1m5 0h1m2 0h2m1 0h2m7 0h1m128 0h8m1 0h8m1 0h20m1 0h3m1 0h12m2 0h4m1 0h2m2 0h8m1 0h3m1 0h1m3 0h4m1 0h1m2 0h1m7 0h5m1 0h3m3 0h2m1 0h2m1 0h2m2 0h4m6 0h1m1 0h2m1 0h2m2 0h1m2 0h1m3 0h1m6 0h1m1 0h2m9 0h2m2 0h2m1 0h1m1 0h2m1 0h4m16 0h2m1 0h1m1 0h3m1 0h1m2 0h8m2 0h1m3 0h1m1 0h9m1 0h2M282 42.5h1m4 0h1m1 0h1m1 0h1m4 0h1m1 0h2m2 0h1m2 0h1m6 0h2m2 0h1m125 0h11m3 0h6m1 0h3m1 0h2m1 0h7m1 0h2m1 0h2m1 0h13m5 0h4m2 0h3m1 0h2m3 0h3m1 0h1m2 0h3m2 0h2m2 0h2m11 0h1m2 0h3m1 0h3m4 0h1m2 0h1m4 0h2m2 0h1m2 0h3m1 0h1m4 0h1m8 0h1m1 0h3m2 0h1m2 0h1m1 0h1m3 0h1m6 0h1m1 0h4m1 0h2m15 0h7m1 0h2m2 0h2m1 0h1m7 0h3m1 0h7m1 0h3m1 0h2M281 43.5h2m3 0h1m2 0h1m1 0h2m3 0h1m1 0h2m2 0h1m3 0h1m3 0h1m2 0h1m3 0h1m123 0h8m1 0h3m3 0h8m1 0h4m1 0h8m2 0h3m1 0h6m2 0h2m1 0h3m1 0h7m2 0h3m1 0h2m1 0h1m2 0h1m1 0h1m1 0h1m3 0h9m5 0h1m1 0h2m1 0h2m1 0h1m1 0h3m5 0h2m1 0h1m2 0h1m1 0h2m1 0h1m2 0h2m1 0h2m1 0h1m1 0h2m1 0h2m10 0h1m1 0h5m2 0h1m4 0h1m1 0h4m1 0h1m5 0h1m1 0h2m14 0h1m1 0h4m1 0h7m1 0h2m1 0h1m1 0h1m1 0h3m1 0h3m1 0h1m1 0h4m1 0h1m1 0h2M284 44.5h1m1 0h1m2 0h1m3 0h1m1 0h1m3 0h1m2 0h1m2 0h3m4 0h2m1 0h1m125 0h6m1 0h5m1 0h3m1 0h5m1 0h1m1 0h2m2 0h3m1 0h5m1 0h13m2 0h1m1 0h8m1 0h2m1 0h6m1 0h3m1 0h1m6 0h5m8 0h2m3 0h5m2 0h9m2 0h1m5 0h2m1 0h1m2 0h1m1 0h2m1 0h4m2 0h1m2 0h1m2 0h2m1 0h1m1 0h3m1 0h1m1 0h3m2 0h7m1 0h1m3 0h1m1 0h2m1 0h1m14 0h6m1 0h5m1 0h1m1 0h2m1 0h1m1 0h1m2 0h1m1 0h3m1 0h1m2 0h4m3 0h2M282 45.5h2m3 0h1m6 0h1m2 0h1m2 0h1m1 0h2m4 0h1m4 0h1m3 0h1m122 0h8m1 0h4m1 0h9m1 0h4m1 0h3m2 0h3m1 0h7m1 0h1m1 0h1m1 0h5m1 0h21m3 0h4m2 0h2m2 0h3m1 0h2m8 0h2m1 0h2m1 0h1m1 0h1m1 0h4m2 0h4m3 0h1m1 0h10m1 0h4m2 0h1m2 0h1m2 0h1m1 0h1m1 0h1m1 0h2m1 0h4m2 0h1m1 0h1m2 0h2m2 0h1m2 0h2m2 0h4m13 0h3m1 0h3m1 0h2m1 0h1m1 0h2m1 0h1m1 0h2m2 0h2m1 0h2m2 0h2m1 0h4m2 0h3M263 46.5h1m17 0h2m3 0h3m5 0h1m5 0h1m2 0h2m1 0h1m1 0h1m5 0h1m2 0h1m122 0h16m2 0h7m1 0h7m1 0h13m1 0h1m1 0h2m2 0h4m2 0h3m1 0h1m1 0h13m3 0h6m1 0h3m1 0h1m6 0h1m3 0h6m1 0h2m1 0h2m1 0h1m1 0h6m1 0h1m1 0h1m1 0h6m1 0h1m1 0h1m2 0h2m1 0h1m3 0h2m2 0h1m2 0h2m1 0h4m3 0h1m2 0h2m1 0h2m2 0h1m3 0h5m15 0h3m2 0h3m1 0h2m1 0h3m1 0h1m1 0h1m1 0h1m3 0h1m1 0h2m1 0h4m3 0h1m1 0h1m1 0h1M260 47.5h4m15 0h1m2 0h1m3 0h1m1 0h1m1 0h2m14 0h1m1 0h2m1 0h1m3 0h1m124 0h17m1 0h3m1 0h1m1 0h11m1 0h8m1 0h2m1 0h2m1 0h1m2 0h4m1 0h1m1 0h2m2 0h1m3 0h3m1 0h9m1 0h12m5 0h2m3 0h4m1 0h1m1 0h2m1 0h1m1 0h1m1 0h2m1 0h1m1 0h2m6 0h4m1 0h1m1 0h1m1 0h1m1 0h1m1 0h1m2 0h4m1 0h2m1 0h2m1 0h2m1 0h1m5 0h2m3 0h1m2 0h1m1 0h3m1 0h1m1 0h1m17 0h1m1 0h5m1 0h1m1 0h3m1 0h4m3 0h2m1 0h1m1 0h5m1 0h1m1 0h1m1 0h1m1 0h1M257 48.5h7m15 0h1m1 0h2m3 0h1m2 0h1m1 0h1m4 0h2m1 0h1m2 0h1m2 0h2m4 0h1m2 0h1m124 0h8m1 0h8m2 0h14m1 0h4m1 0h6m1 0h6m3 0h3m1 0h1m1 0h4m1 0h1m1 0h1m1 0h3m1 0h1m1 0h5m1 0h1m3 0h5m1 0h1m1 0h1m6 0h3m2 0h5m1 0h6m1 0h1m1 0h2m1 0h4m1 0h2m2 0h2m1 0h2m5 0h1m2 0h2m4 0h4m1 0h4m3 0h1m1 0h1m3 0h2m6 0h3m2 0h3m18 0h4m1 0h7m1 0h5m1 0h6m1 0h2m1 0h2m1 0h1m1 0h1m1 0h2M256 49.5h3m1 0h2m1 0h1m19 0h2m4 0h1m1 0h1m7 0h2m1 0h1m2 0h1m8 0h1m124 0h18m1 0h9m1 0h1m1 0h6m1 0h2m1 0h8m2 0h1m3 0h1m2 0h4m2 0h3m2 0h2m1 0h3m1 0h6m1 0h2m1 0h5m1 0h1m1 0h1m7 0h1m1 0h1m2 0h4m1 0h1m1 0h1m1 0h1m1 0h3m1 0h1m2 0h7m2 0h2m1 0h1m1 0h1m3 0h1m1 0h2m2 0h1m1 0h1m1 0h7m1 0h1m3 0h5m2 0h6m1 0h5m20 0h1m2 0h4m3 0h1m1 0h1m1 0h1m2 0h1m1 0h1m2 0h1m1 0h9m1 0h4M254 50.5h4m2 0h2m17 0h1m1 0h1m3 0h2m1 0h1m2 0h1m5 0h4m1 0h1m1 0h1m6 0h1m1 0h1m1 0h1m123 0h20m1 0h10m1 0h1m1 0h4m3 0h10m4 0h1m2 0h2m1 0h2m3 0h6m2 0h4m2 0h2m1 0h13m5 0h2m2 0h2m1 0h5m1 0h2m1 0h8m1 0h1m2 0h2m2 0h1m1 0h2m4 0h4m1 0h1m4 0h1m1 0h2m1 0h1m2 0h1m3 0h1m2 0h1m3 0h1m1 0h2m1 0h3m1 0h2m1 0h2m2 0h1m19 0h5m1 0h1m1 0h5m1 0h4m2 0h3m1 0h1m2 0h5m1 0h3M253 51.5h3m3 0h1m19 0h1m1 0h2m2 0h2m2 0h1m2 0h1m6 0h1m7 0h1m1 0h1m4 0h2m122 0h14m1 0h1m1 0h14m1 0h2m1 0h5m1 0h2m1 0h1m1 0h9m1 0h2m1 0h1m2 0h2m3 0h1m3 0h2m1 0h5m1 0h1m3 0h7m2 0h5m7 0h1m1 0h2m2 0h1m3 0h2m1 0h1m3 0h1m1 0h1m3 0h1m1 0h2m2 0h1m1 0h2m5 0h2m2 0h2m5 0h3m1 0h1m1 0h1m1 0h3m1 0h1m2 0h1m1 0h3m2 0h1m1 0h1m1 0h2m1 0h1m1 0h1m1 0h1m19 0h1m2 0h1m2 0h3m1 0h1m1 0h1m3 0h1m3 0h1m3 0h2m1 0h1m1 0h7M251 52.5h3m2 0h1m5 0h1m15 0h3m1 0h1m1 0h3m2 0h1m2 0h2m2 0h3m3 0h1m1 0h1m1 0h1m1 0h2m1 0h3m1 0h1m1 0h1m120 0h1m1 0h1m1 0h11m3 0h2m1 0h11m1 0h5m1 0h1m1 0h4m1 0h3m1 0h1m2 0h8m1 0h4m1 0h1m3 0h3m1 0h4m1 0h2m2 0h2m3 0h8m7 0h1m1 0h4m1 0h8m1 0h2m1 0h1m3 0h5m4 0h1m1 0h3m2 0h1m1 0h1m1 0h1m3 0h1m2 0h3m2 0h3m2 0h1m1 0h1m7 0h1m1 0h1m1 0h5m3 0h2m1 0h1m18 0h1m1 0h4m1 0h1m1 0h1m1 0h4m2 0h1m1 0h1m1 0h6m1 0h2m1 0h1M247 53.5h6m1 0h3m3 0h1m1 0h1m14 0h1m4 0h2m1 0h3m1 0h1m1 0h1m2 0h4m4 0h1m5 0h2m1 0h1m1 0h2m122 0h9m1 0h2m1 0h1m1 0h1m3 0h13m2 0h5m2 0h6m1 0h2m1 0h2m1 0h6m1 0h2m1 0h14m2 0h6m1 0h1m1 0h3m2 0h1m2 0h2m4 0h2m1 0h1m1 0h5m3 0h1m2 0h4m2 0h1m1 0h1m2 0h3m4 0h1m1 0h3m1 0h3m5 0h2m1 0h1m1 0h3m2 0h1m3 0h3m3 0h1m1 0h1m1 0h6m4 0h2m2 0h1m21 0h5m2 0h3m1 0h2m1 0h1m1 0h3m2 0h2m1 0h1m1 0h2m1 0h1m1 0h2M245 54.5h5m1 0h3m1 0h4m3 0h2m15 0h1m1 0h1m3 0h1m2 0h1m2 0h1m1 0h1m2 0h2m7 0h1m2 0h1m1 0h1m2 0h1m123 0h16m3 0h1m2 0h11m1 0h7m1 0h4m1 0h8m2 0h2m1 0h3m1 0h1m1 0h3m1 0h5m1 0h3m1 0h6m1 0h1m1 0h7m1 0h2m4 0h2m1 0h2m3 0h1m4 0h7m1 0h2m1 0h1m3 0h1m3 0h1m1 0h1m3 0h1m1 0h1m1 0h1m2 0h1m3 0h1m1 0h1m2 0h2m2 0h1m2 0h1m1 0h1m4 0h2m4 0h1m1 0h1m1 0h1m2 0h1m1 0h1m1 0h2m20 0h1m1 0h6m1 0h1m2 0h1m1 0h1m2 0h6m2 0h2m1 0h3m1 0h1M237 55.5h6m1 0h2m3 0h1m3 0h5m2 0h1m18 0h1m1 0h3m1 0h1m1 0h1m1 0h1m1 0h2m1 0h1m1 0h1m3 0h1m7 0h3m2 0h1m3 0h1m118 0h14m1 0h3m2 0h1m1 0h6m1 0h8m1 0h4m2 0h11m3 0h1m2 0h3m5 0h1m2 0h3m2 0h3m1 0h2m2 0h2m1 0h3m2 0h1m1 0h1m1 0h2m6 0h1m2 0h2m1 0h1m2 0h1m2 0h1m1 0h2m1 0h1m1 0h3m1 0h2m2 0h1m2 0h1m2 0h2m1 0h1m2 0h4m5 0h3m1 0h3m1 0h1m1 0h1m2 0h1m2 0h1m1 0h1m1 0h2m1 0h1m1 0h1m1 0h1m1 0h1m2 0h1m3 0h1m24 0h1m1 0h4m2 0h2m1 0h1m2 0h1m1 0h2m1 0h1m2 0h5m2 0h2M229 56.5h11m4 0h1m2 0h2m3 0h2m2 0h2m1 0h2m1 0h2m19 0h4m4 0h2m2 0h1m2 0h1m1 0h1m8 0h3m1 0h1m1 0h1m1 0h1m116 0h6m1 0h12m1 0h12m1 0h1m1 0h3m1 0h12m1 0h6m2 0h4m2 0h2m1 0h1m4 0h4m1 0h1m1 0h1m1 0h3m1 0h4m1 0h2m1 0h4m1 0h1m6 0h1m1 0h4m1 0h3m3 0h2m2 0h2m1 0h7m1 0h1m3 0h2m6 0h1m1 0h3m2 0h1m1 0h1m1 0h1m2 0h1m1 0h1m2 0h3m3 0h1m1 0h2m2 0h1m3 0h4m1 0h1m2 0h2m22 0h1m1 0h1m2 0h1m1 0h2m3 0h3m3 0h1m1 0h6m1 0h3m2 0h1M225 57.5h10m1 0h1m3 0h1m4 0h3m2 0h1m1 0h2m2 0h1m1 0h2m2 0h2m13 0h3m1 0h3m2 0h1m3 0h1m1 0h1m15 0h1m1 0h1m121 0h21m1 0h1m1 0h1m1 0h5m2 0h1m1 0h5m1 0h5m3 0h1m1 0h2m1 0h2m1 0h3m2 0h3m1 0h1m1 0h1m1 0h4m2 0h6m2 0h1m4 0h2m1 0h5m2 0h2m1 0h1m6 0h3m1 0h6m4 0h4m3 0h2m2 0h2m1 0h4m3 0h1m1 0h1m1 0h6m1 0h1m2 0h2m1 0h1m1 0h1m2 0h3m2 0h2m3 0h1m1 0h3m4 0h1m1 0h3m2 0h1m1 0h1m26 0h3m2 0h1m1 0h1m1 0h3m1 0h3m1 0h2m1 0h1m1 0h2m1 0h1m1 0h1M222 58.5h1m1 0h10m2 0h2m1 0h1m6 0h4m2 0h4m4 0h1m1 0h1m15 0h1m4 0h2m2 0h2m1 0h1m1 0h1m1 0h1m4 0h1m2 0h2m1 0h1m1 0h1m124 0h24m1 0h7m2 0h4m1 0h5m1 0h2m1 0h1m1 0h7m2 0h4m1 0h3m3 0h1m1 0h2m2 0h2m1 0h1m1 0h5m1 0h1m1 0h2m2 0h2m1 0h1m2 0h1m9 0h7m1 0h2m2 0h4m1 0h1m1 0h2m1 0h7m2 0h1m8 0h1m1 0h3m2 0h1m1 0h5m3 0h2m1 0h2m1 0h1m2 0h2m2 0h3m3 0h1m1 0h2m1 0h5m22 0h1m4 0h3m1 0h2m2 0h1m1 0h11m3 0h3M221 59.5h2m1 0h2m2 0h2m1 0h2m3 0h3m1 0h1m5 0h4m2 0h1m1 0h1m1 0h1m1 0h1m17 0h1m1 0h3m4 0h3m2 0h3m9 0h1m2 0h1m3 0h1m124 0h4m1 0h19m1 0h10m1 0h2m1 0h3m1 0h1m1 0h4m2 0h3m3 0h2m1 0h7m1 0h6m2 0h3m2 0h1m1 0h3m1 0h1m1 0h1m1 0h3m1 0h5m1 0h1m5 0h4m1 0h5m1 0h2m1 0h5m1 0h1m1 0h3m3 0h2m1 0h2m1 0h1m3 0h1m1 0h1m2 0h2m2 0h1m3 0h1m2 0h1m2 0h1m1 0h3m2 0h1m1 0h1m3 0h2m4 0h2m2 0h1m2 0h3m25 0h1m1 0h3m1 0h2m3 0h8m1 0h3m2 0h4M216 60.5h7m3 0h2m2 0h1m1 0h1m3 0h2m3 0h1m2 0h3m1 0h2m1 0h3m2 0h1m1 0h1m1 0h1m1 0h2m12 0h1m1 0h1m3 0h2m1 0h1m1 0h1m1 0h1m3 0h1m1 0h2m4 0h2m2 0h2m3 0h3m122 0h17m1 0h1m1 0h11m1 0h3m1 0h8m1 0h2m2 0h5m2 0h1m1 0h3m2 0h4m1 0h2m1 0h1m3 0h2m1 0h1m1 0h1m1 0h1m1 0h1m3 0h1m1 0h3m2 0h4m1 0h1m5 0h1m1 0h2m1 0h4m3 0h2m2 0h7m1 0h2m1 0h3m2 0h3m5 0h1m2 0h2m2 0h2m2 0h1m2 0h3m1 0h2m2 0h1m1 0h1m3 0h2m3 0h1m2 0h2m1 0h2m1 0h2m1 0h2m24 0h1m1 0h2m1 0h4m2 0h2m1 0h2m1 0h1m1 0h1m2 0h1m2 0h4M212 61.5h7m1 0h1m3 0h2m2 0h1m4 0h1m2 0h1m1 0h1m2 0h1m2 0h1m1 0h1m1 0h2m2 0h1m7 0h1m2 0h1m20 0h2m1 0h1m1 0h1m3 0h2m1 0h1m5 0h3m1 0h1m1 0h1m6 0h2m119 0h10m1 0h5m1 0h1m1 0h3m3 0h5m5 0h1m1 0h2m1 0h2m2 0h3m1 0h2m1 0h1m1 0h1m1 0h4m1 0h3m1 0h1m1 0h7m2 0h1m1 0h2m4 0h5m1 0h2m1 0h1m1 0h1m1 0h1m1 0h1m6 0h1m1 0h2m1 0h1m1 0h2m2 0h1m1 0h1m1 0h2m1 0h1m1 0h3m1 0h2m3 0h1m2 0h2m1 0h1m1 0h1m3 0h2m1 0h2m1 0h1m1 0h1m1 0h3m2 0h2m2 0h2m2 0h1m2 0h1m1 0h1m7 0h1m2 0h1m29 0h1m2 0h3m11 0h3m1 0h1m1 0h3M209 62.5h7m1 0h1m3 0h1m2 0h2m4 0h1m1 0h1m7 0h1m3 0h2m2 0h1m3 0h1m1 0h1m1 0h1m3 0h3m15 0h1m2 0h2m5 0h1m3 0h2m2 0h2m3 0h1m1 0h1m2 0h1m1 0h2m127 0h13m1 0h7m2 0h6m1 0h1m1 0h1m1 0h3m1 0h3m1 0h1m1 0h5m1 0h3m1 0h1m1 0h7m1 0h1m2 0h3m3 0h4m1 0h7m1 0h3m2 0h2m1 0h3m7 0h1m2 0h1m1 0h1m2 0h6m3 0h2m1 0h4m6 0h2m3 0h1m1 0h1m3 0h1m1 0h2m2 0h3m2 0h2m2 0h1m1 0h1m5 0h1m1 0h6m1 0h1m3 0h1m1 0h1m1 0h2m26 0h2m2 0h1m1 0h2m1 0h3m2 0h1m3 0h5m1 0h1m2 0h2m1 0h1M205 63.5h3m1 0h3m1 0h3m1 0h1m2 0h1m3 0h1m1 0h4m1 0h4m3 0h1m1 0h3m2 0h1m5 0h1m2 0h3m1 0h1m2 0h2m14 0h1m4 0h1m1 0h1m2 0h2m1 0h3m3 0h1m3 0h1m3 0h1m3 0h3m4 0h3m120 0h11m1 0h3m4 0h3m1 0h2m1 0h4m1 0h1m1 0h1m1 0h4m1 0h3m1 0h1m2 0h4m2 0h1m2 0h1m6 0h1m1 0h2m1 0h2m2 0h1m1 0h4m1 0h3m2 0h7m1 0h4m1 0h1m5 0h2m2 0h2m1 0h3m1 0h4m4 0h1m5 0h1m3 0h1m7 0h1m2 0h2m1 0h1m5 0h1m1 0h2m1 0h3m4 0h3m3 0h6m3 0h2m1 0h1m29 0h2m1 0h1m3 0h4m1 0h1m2 0h1m2 0h4m1 0h1m3 0h1m1 0h2M201 64.5h8m2 0h2m3 0h5m1 0h1m1 0h1m1 0h1m2 0h3m1 0h2m3 0h1m3 0h1m2 0h1m1 0h1m7 0h2m1 0h1m2 0h1m1 0h1m14 0h1m8 0h2m1 0h1m1 0h1m2 0h2m2 0h2m1 0h3m2 0h1m3 0h1m2 0h1m1 0h1m122 0h14m4 0h26m2 0h1m1 0h2m1 0h4m1 0h1m1 0h2m2 0h4m3 0h6m3 0h2m1 0h3m1 0h1m1 0h1m1 0h1m1 0h1m1 0h4m4 0h13m1 0h2m2 0h3m1 0h1m3 0h1m1 0h3m2 0h1m3 0h2m1 0h3m7 0h2m6 0h1m4 0h1m3 0h8m1 0h2m1 0h1m6 0h1m23 0h2m1 0h3m1 0h1m1 0h2m2 0h1m1 0h1m1 0h1m1 0h3m3 0h5M200 65.5h6m1 0h1m2 0h3m1 0h2m3 0h2m1 0h1m3 0h3m2 0h2m1 0h1m4 0h2m3 0h2m4 0h1m5 0h1m1 0h1m3 0h2m14 0h1m5 0h1m1 0h1m1 0h2m6 0h1m2 0h1m1 0h1m9 0h1m127 0h1m1 0h13m2 0h2m1 0h6m1 0h3m1 0h11m1 0h2m1 0h2m1 0h2m1 0h1m2 0h1m2 0h2m2 0h2m8 0h2m1 0h3m1 0h4m3 0h6m2 0h3m4 0h1m2 0h2m2 0h5m3 0h1m1 0h3m1 0h3m4 0h3m2 0h1m8 0h3m7 0h1m1 0h2m1 0h1m4 0h1m1 0h1m7 0h1m1 0h1m1 0h3m4 0h1m1 0h1m1 0h1m22 0h1m2 0h2m1 0h1m3 0h3m3 0h1m2 0h5m1 0h3m1 0h1M196 66.5h8m2 0h1m4 0h2m2 0h1m2 0h5m2 0h1m3 0h2m1 0h1m2 0h2m2 0h2m3 0h2m3 0h1m3 0h1m5 0h1m1 0h1m1 0h1m15 0h2m2 0h1m3 0h1m2 0h1m1 0h3m4 0h4m2 0h1m1 0h2m3 0h1m1 0h2m124 0h14m2 0h1m1 0h7m1 0h6m1 0h2m1 0h1m4 0h1m1 0h5m1 0h3m2 0h1m1 0h3m1 0h3m1 0h1m7 0h3m1 0h1m2 0h2m2 0h5m1 0h1m1 0h1m1 0h3m12 0h3m7 0h1m3 0h2m1 0h1m1 0h1m3 0h2m3 0h1m1 0h2m3 0h1m2 0h2m2 0h3m1 0h1m2 0h1m3 0h4m2 0h2m1 0h2m4 0h1m2 0h1m1 0h1m3 0h2m23 0h2m3 0h1m3 0h3m1 0h2m1 0h2m1 0h2m1 0h1m5 0h1M194 67.5h6m1 0h1m2 0h2m4 0h4m1 0h7m2 0h2m4 0h3m1 0h3m3 0h1m4 0h3m9 0h3m1 0h3m14 0h3m2 0h1m4 0h2m1 0h1m2 0h1m1 0h2m1 0h2m2 0h1m2 0h2m7 0h1m1 0h1m122 0h14m1 0h11m1 0h6m1 0h4m1 0h2m1 0h3m2 0h5m3 0h5m2 0h3m3 0h1m2 0h4m1 0h2m1 0h3m1 0h5m1 0h3m1 0h2m5 0h1m3 0h1m2 0h2m1 0h1m1 0h1m5 0h1m2 0h2m1 0h1m2 0h4m1 0h1m4 0h2m7 0h1m2 0h1m2 0h6m1 0h6m1 0h3m1 0h1m1 0h1m3 0h1m2 0h1m1 0h1m3 0h1m22 0h3m2 0h3m1 0h1m1 0h1m1 0h4m3 0h1m1 0h1m1 0h2m2 0h1m1 0h2M191 68.5h8m1 0h4m2 0h1m2 0h1m1 0h2m1 0h5m1 0h2m1 0h2m2 0h2m1 0h3m1 0h1m5 0h2m3 0h2m4 0h1m1 0h1m4 0h1m1 0h3m14 0h2m1 0h1m3 0h1m1 0h2m3 0h1m2 0h1m2 0h1m2 0h1m3 0h1m1 0h1m4 0h3m1 0h1m124 0h12m1 0h2m1 0h8m1 0h3m2 0h2m1 0h5m2 0h4m1 0h5m5 0h1m1 0h1m1 0h4m1 0h3m3 0h2m1 0h3m1 0h13m3 0h1m8 0h1m1 0h1m4 0h1m3 0h4m1 0h2m1 0h1m2 0h1m2 0h2m5 0h1m1 0h3m1 0h1m1 0h1m1 0h2m2 0h1m1 0h2m1 0h2m3 0h2m4 0h2m2 0h1m1 0h1m2 0h1m2 0h1m4 0h1m1 0h2m25 0h7m5 0h4m1 0h2m1 0h4m1 0h4m1 0h1M188 69.5h6m1 0h1m1 0h4m2 0h4m2 0h3m1 0h6m7 0h2m2 0h1m2 0h2m2 0h1m1 0h1m6 0h1m5 0h2m1 0h3m1 0h1m18 0h1m4 0h1m6 0h1m2 0h1m1 0h1m2 0h1m1 0h1m4 0h2m3 0h2m3 0h2m123 0h2m1 0h4m1 0h4m1 0h2m3 0h3m1 0h2m1 0h1m1 0h5m1 0h2m1 0h3m1 0h3m2 0h7m3 0h5m2 0h5m2 0h4m1 0h2m1 0h12m3 0h2m8 0h3m1 0h4m2 0h3m1 0h1m1 0h2m1 0h2m1 0h1m5 0h1m3 0h1m2 0h5m2 0h2m3 0h3m3 0h2m1 0h1m4 0h2m4 0h1m3 0h3m1 0h1m1 0h3m2 0h2m22 0h1m4 0h2m1 0h1m4 0h1m1 0h1m3 0h1m1 0h1m1 0h2m1 0h5m1 0h1M185 70.5h8m2 0h2m2 0h1m1 0h1m1 0h4m2 0h3m2 0h1m1 0h2m1 0h4m2 0h2m1 0h3m2 0h5m3 0h2m2 0h2m3 0h1m1 0h2m2 0h2m1 0h4m13 0h3m1 0h1m8 0h1m2 0h2m3 0h4m5 0h1m1 0h1m2 0h2m128 0h1m1 0h18m1 0h2m1 0h4m1 0h2m1 0h4m1 0h1m1 0h3m1 0h3m1 0h2m1 0h6m1 0h3m1 0h2m2 0h1m1 0h4m2 0h1m2 0h2m1 0h11m2 0h1m6 0h1m1 0h1m2 0h2m1 0h3m1 0h3m1 0h1m1 0h4m1 0h1m1 0h1m2 0h1m3 0h1m2 0h1m1 0h3m2 0h1m2 0h2m1 0h3m2 0h1m3 0h1m2 0h2m1 0h2m2 0h1m1 0h2m4 0h1m2 0h4m1 0h2m2 0h1m20 0h1m2 0h4m1 0h2m2 0h1m1 0h1m1 0h6m1 0h5m4 0h1M182 71.5h7m1 0h4m1 0h2m1 0h3m1 0h5m2 0h2m3 0h2m1 0h2m2 0h2m2 0h3m2 0h1m1 0h1m1 0h1m2 0h1m1 0h1m1 0h1m4 0h3m2 0h1m1 0h1m1 0h1m1 0h1m1 0h1m2 0h1m13 0h4m3 0h1m3 0h1m1 0h2m1 0h1m3 0h1m2 0h2m2 0h1m4 0h2m5 0h1m125 0h23m1 0h2m1 0h1m1 0h2m1 0h1m1 0h3m3 0h5m1 0h3m1 0h1m1 0h3m1 0h2m1 0h4m2 0h1m1 0h1m1 0h1m1 0h3m1 0h1m1 0h1m2 0h4m2 0h5m2 0h1m5 0h1m1 0h2m1 0h6m1 0h3m1 0h1m3 0h1m2 0h1m1 0h6m1 0h4m1 0h1m2 0h1m1 0h2m1 0h2m1 0h3m2 0h1m2 0h4m2 0h1m1 0h1m1 0h1m2 0h2m1 0h2m1 0h1m1 0h1m3 0h1m1 0h1m3 0h1m17 0h1m1 0h1m1 0h2m1 0h3m1 0h2m1 0h1m2 0h2m1 0h2m1 0h1m2 0h9M180 72.5h7m1 0h9m1 0h1m2 0h6m3 0h1m3 0h1m1 0h3m1 0h1m1 0h2m1 0h4m1 0h5m2 0h5m2 0h1m1 0h3m2 0h3m2 0h3m3 0h2m15 0h1m4 0h1m3 0h1m1 0h1m2 0h1m1 0h3m2 0h1m1 0h1m5 0h1m2 0h3m127 0h13m2 0h8m2 0h3m2 0h12m1 0h2m2 0h1m1 0h2m3 0h1m1 0h1m3 0h5m1 0h4m1 0h2m1 0h3m3 0h1m1 0h6m1 0h3m7 0h1m2 0h8m2 0h1m2 0h1m1 0h2m2 0h1m3 0h2m1 0h1m2 0h1m1 0h1m1 0h3m1 0h1m2 0h2m3 0h1m1 0h1m1 0h3m1 0h2m2 0h2m3 0h1m4 0h4m2 0h1m1 0h1m2 0h1m23 0h1m3 0h1m2 0h1m1 0h1m3 0h5m2 0h1m1 0h2m3 0h1m4 0h1M178 73.5h5m1 0h2m4 0h2m3 0h1m2 0h1m1 0h2m1 0h4m1 0h1m2 0h2m1 0h2m1 0h2m1 0h2m4 0h1m1 0h5m1 0h2m2 0h2m1 0h1m11 0h1m1 0h2m1 0h2m1 0h2m14 0h1m1 0h1m1 0h1m2 0h1m1 0h2m2 0h1m1 0h2m1 0h3m2 0h2m1 0h1m6 0h1m2 0h1m128 0h3m1 0h5m1 0h2m1 0h1m1 0h1m2 0h2m1 0h2m1 0h1m1 0h5m1 0h3m1 0h7m1 0h5m1 0h3m2 0h3m1 0h2m1 0h1m1 0h4m2 0h2m2 0h2m3 0h6m1 0h7m5 0h2m1 0h2m2 0h1m1 0h14m1 0h4m1 0h1m2 0h7m1 0h2m2 0h1m6 0h3m2 0h3m1 0h2m1 0h2m3 0h1m1 0h3m3 0h1m1 0h1m3 0h1m1 0h1m1 0h1m17 0h5m3 0h1m1 0h2m3 0h2m1 0h2m1 0h1m1 0h2m3 0h1m6 0h1M177 74.5h3m1 0h4m3 0h1m1 0h5m2 0h1m1 0h4m1 0h3m5 0h1m2 0h3m1 0h2m1 0h1m2 0h1m1 0h2m1 0h3m1 0h2m2 0h2m1 0h1m11 0h1m23 0h1m1 0h1m1 0h1m4 0h2m3 0h7m4 0h1m3 0h1m2 0h1m132 0h3m1 0h5m1 0h1m3 0h1m1 0h5m1 0h1m1 0h1m1 0h5m1 0h1m1 0h3m1 0h4m1 0h3m1 0h2m1 0h1m1 0h1m1 0h4m3 0h4m1 0h10m2 0h2m1 0h1m1 0h3m1 0h2m1 0h2m7 0h2m1 0h1m3 0h1m4 0h1m3 0h5m1 0h2m4 0h2m1 0h4m1 0h2m1 0h3m2 0h1m3 0h1m3 0h1m4 0h1m1 0h1m1 0h1m5 0h2m1 0h1m2 0h1m3 0h1m2 0h3m2 0h1m18 0h3m1 0h7m3 0h1m1 0h1m1 0h1m1 0h3m1 0h1m1 0h6m3 0h1M176 75.5h4m1 0h2m1 0h1m1 0h1m1 0h1m1 0h1m1 0h3m2 0h2m1 0h1m2 0h1m2 0h1m2 0h1m2 0h7m1 0h2m3 0h1m2 0h3m1 0h3m3 0h4m2 0h2m2 0h1m1 0h4m2 0h2m1 0h1m1 0h1m1 0h1m14 0h3m1 0h2m2 0h2m6 0h2m2 0h1m2 0h2m1 0h1m2 0h3m6 0h1m125 0h11m5 0h4m1 0h2m1 0h3m1 0h4m2 0h2m2 0h5m1 0h2m2 0h1m4 0h5m4 0h1m1 0h2m1 0h6m1 0h2m4 0h1m3 0h5m1 0h3m5 0h3m1 0h7m2 0h3m1 0h4m6 0h1m1 0h1m4 0h3m1 0h2m2 0h4m2 0h1m2 0h1m1 0h8m3 0h2m5 0h1m4 0h1m1 0h2m1 0h1m2 0h1m2 0h1m15 0h1m1 0h13m1 0h1m3 0h1m1 0h2m6 0h5m1 0h1M173 76.5h1m2 0h3m1 0h1m2 0h10m2 0h4m1 0h1m2 0h1m5 0h4m1 0h4m1 0h4m4 0h1m1 0h1m1 0h1m1 0h6m2 0h1m3 0h1m2 0h1m1 0h4m2 0h1m1 0h1m21 0h3m2 0h4m1 0h1m1 0h1m3 0h2m2 0h2m5 0h1m2 0h2m1 0h1m128 0h1m1 0h3m2 0h1m1 0h3m2 0h6m2 0h8m1 0h3m1 0h10m1 0h4m2 0h5m3 0h1m1 0h2m4 0h1m1 0h3m1 0h3m1 0h1m1 0h2m1 0h3m1 0h5m6 0h1m1 0h1m1 0h4m2 0h1m1 0h4m2 0h3m1 0h1m2 0h1m2 0h1m2 0h1m2 0h1m1 0h2m1 0h1m1 0h1m1 0h1m5 0h1m2 0h1m1 0h1m1 0h6m5 0h1m1 0h3m1 0h2m3 0h2m1 0h1m2 0h2m1 0h1m15 0h3m2 0h1m3 0h1m1 0h2m1 0h2m1 0h2m3 0h1m1 0h3m2 0h1m1 0h2m2 0h2M169 77.5h3m4 0h5m4 0h2m1 0h2m1 0h1m2 0h6m1 0h4m5 0h1m1 0h1m1 0h3m3 0h1m1 0h1m2 0h3m2 0h3m1 0h1m2 0h5m2 0h1m4 0h1m1 0h2m3 0h1m2 0h1m1 0h2m15 0h1m1 0h1m1 0h1m3 0h1m2 0h1m4 0h1m1 0h1m7 0h1m2 0h1m3 0h1m5 0h1m125 0h2m1 0h8m2 0h2m1 0h3m1 0h1m1 0h4m1 0h2m1 0h7m1 0h6m1 0h2m1 0h1m3 0h5m1 0h1m1 0h3m2 0h4m3 0h2m1 0h1m1 0h4m3 0h2m1 0h1m1 0h3m5 0h1m2 0h3m1 0h4m1 0h8m1 0h1m1 0h3m1 0h1m1 0h1m5 0h1m1 0h3m3 0h1m1 0h1m5 0h2m6 0h1m1 0h1m3 0h1m2 0h1m2 0h3m1 0h2m2 0h1m1 0h1m4 0h1m15 0h1m2 0h1m2 0h3m3 0h1m5 0h1m2 0h1m3 0h3m4 0h3m1 0h1M164 78.5h8m5 0h2m1 0h4m1 0h4m1 0h3m1 0h3m1 0h7m4 0h7m1 0h1m2 0h2m4 0h2m2 0h1m1 0h1m2 0h1m1 0h2m5 0h3m1 0h2m1 0h4m4 0h1m1 0h1m16 0h3m2 0h2m9 0h1m2 0h2m3 0h1m3 0h2m1 0h1m4 0h1m2 0h1m125 0h1m1 0h18m1 0h12m1 0h3m3 0h2m1 0h1m2 0h1m1 0h1m2 0h4m1 0h5m1 0h5m1 0h2m1 0h5m1 0h1m1 0h3m1 0h2m1 0h3m1 0h2m5 0h2m1 0h3m2 0h1m1 0h3m1 0h1m1 0h1m4 0h2m1 0h3m1 0h2m2 0h1m2 0h2m2 0h1m1 0h4m4 0h1m4 0h3m1 0h4m3 0h1m4 0h3m1 0h1m4 0h1m1 0h1m3 0h2m17 0h3m1 0h1m1 0h1m2 0h2m1 0h1m2 0h3m1 0h3m1 0h3m1 0h1m2 0h3m1 0h3M161 79.5h9m1 0h2m3 0h1m1 0h3m1 0h2m1 0h8m1 0h1m1 0h1m1 0h3m1 0h4m1 0h1m3 0h1m1 0h2m1 0h1m3 0h1m5 0h3m1 0h1m3 0h1m2 0h1m1 0h3m4 0h1m1 0h1m4 0h1m3 0h1m1 0h1m3 0h1m12 0h2m1 0h2m5 0h1m5 0h1m3 0h3m1 0h1m1 0h1m3 0h1m2 0h1m4 0h1m1 0h1m127 0h2m1 0h5m1 0h1m2 0h23m1 0h1m1 0h1m1 0h5m1 0h3m2 0h1m3 0h1m1 0h3m1 0h1m2 0h2m1 0h2m2 0h1m4 0h6m1 0h3m2 0h2m5 0h2m2 0h6m2 0h2m2 0h2m1 0h1m2 0h2m3 0h2m1 0h2m1 0h2m2 0h2m5 0h1m1 0h1m4 0h1m4 0h1m1 0h1m1 0h3m6 0h1m2 0h4m2 0h1m7 0h1m15 0h1m1 0h4m1 0h3m2 0h1m1 0h2m3 0h1m2 0h10m1 0h1m1 0h2m1 0h2M158 80.5h5m1 0h2m1 0h1m1 0h3m5 0h8m1 0h1m1 0h4m2 0h4m1 0h5m1 0h1m1 0h1m1 0h4m2 0h2m9 0h1m1 0h4m1 0h1m1 0h2m2 0h2m4 0h1m3 0h1m4 0h2m1 0h1m2 0h2m14 0h1m1 0h3m2 0h2m6 0h2m2 0h1m1 0h1m2 0h1m1 0h3m3 0h2m3 0h5m126 0h9m2 0h23m2 0h5m1 0h8m1 0h3m1 0h4m2 0h5m2 0h2m1 0h1m1 0h7m2 0h5m1 0h2m6 0h1m2 0h1m1 0h4m4 0h2m5 0h2m2 0h4m4 0h1m2 0h1m1 0h1m2 0h2m1 0h3m6 0h1m1 0h1m2 0h2m2 0h1m1 0h1m3 0h2m3 0h1m3 0h2m3 0h1m2 0h3m15 0h5m1 0h2m4 0h1m1 0h2m1 0h1m3 0h2m1 0h1m1 0h1m1 0h1m2 0h1m1 0h6M156 81.5h9m1 0h2m1 0h3m4 0h1m1 0h1m1 0h4m1 0h2m4 0h1m2 0h12m1 0h1m1 0h1m1 0h2m1 0h5m1 0h1m4 0h3m2 0h7m3 0h3m2 0h1m5 0h1m1 0h1m1 0h2m1 0h4m1 0h1m15 0h2m2 0h1m4 0h1m4 0h1m1 0h2m2 0h1m1 0h1m10 0h2m3 0h1m126 0h2m1 0h6m3 0h14m1 0h2m1 0h4m2 0h1m1 0h3m2 0h2m2 0h1m2 0h2m1 0h1m2 0h4m1 0h11m1 0h1m1 0h3m2 0h2m3 0h3m1 0h1m6 0h1m5 0h3m1 0h1m1 0h1m4 0h2m1 0h4m1 0h1m1 0h4m1 0h1m1 0h4m2 0h2m1 0h3m2 0h2m2 0h1m4 0h2m1 0h1m1 0h1m4 0h2m1 0h3m2 0h3m3 0h2m1 0h1m1 0h1m15 0h5m1 0h3m1 0h4m3 0h2m7 0h2m1 0h2m1 0h5m1 0h1M153 82.5h8m1 0h2m2 0h4m6 0h1m2 0h2m1 0h1m2 0h2m4 0h1m1 0h5m1 0h13m2 0h1m1 0h2m2 0h2m4 0h1m2 0h2m1 0h4m1 0h4m3 0h2m3 0h1m1 0h1m2 0h5m1 0h2m1 0h1m12 0h1m1 0h1m1 0h1m2 0h1m2 0h1m5 0h2m11 0h1m4 0h2m5 0h1m127 0h3m1 0h4m1 0h9m1 0h1m1 0h3m1 0h8m2 0h2m1 0h2m1 0h2m1 0h7m1 0h6m2 0h2m1 0h2m1 0h2m1 0h2m1 0h1m1 0h5m1 0h3m1 0h2m2 0h1m6 0h1m3 0h1m2 0h2m3 0h2m3 0h6m1 0h3m1 0h3m1 0h1m3 0h6m6 0h1m1 0h2m1 0h2m2 0h2m1 0h3m8 0h2m2 0h3m1 0h2m3 0h1m1 0h2m13 0h1m7 0h2m1 0h1m1 0h1m4 0h2m1 0h2m1 0h1m2 0h1m2 0h2m1 0h7M150 83.5h5m2 0h6m1 0h2m1 0h2m2 0h1m5 0h3m2 0h6m2 0h1m2 0h6m3 0h5m1 0h1m1 0h1m1 0h5m2 0h3m3 0h2m3 0h1m1 0h1m4 0h3m5 0h1m2 0h1m1 0h4m1 0h2m2 0h3m1 0h1m14 0h1m1 0h1m1 0h1m1 0h1m2 0h1m3 0h1m3 0h1m4 0h1m6 0h1m1 0h1m1 0h1m3 0h1m129 0h3m2 0h16m1 0h1m1 0h3m2 0h8m1 0h2m1 0h6m1 0h2m2 0h9m2 0h2m1 0h2m1 0h3m3 0h1m1 0h2m1 0h2m1 0h6m1 0h1m4 0h2m2 0h1m1 0h2m1 0h1m2 0h1m2 0h1m1 0h1m1 0h2m1 0h1m2 0h1m1 0h4m1 0h1m1 0h1m1 0h4m1 0h1m2 0h2m2 0h1m2 0h1m1 0h3m1 0h1m3 0h1m3 0h1m3 0h1m1 0h3m1 0h3m1 0h1m1 0h1m1 0h4m14 0h2m2 0h4m1 0h4m6 0h2m5 0h11m1 0h2M147 84.5h6m1 0h1m1 0h7m1 0h4m1 0h4m4 0h4m1 0h1m1 0h2m3 0h1m1 0h5m4 0h3m1 0h3m3 0h1m1 0h7m2 0h1m3 0h1m1 0h2m1 0h4m2 0h1m3 0h2m3 0h2m1 0h2m3 0h1m1 0h2m2 0h5m12 0h1m1 0h2m1 0h2m4 0h1m3 0h1m3 0h1m1 0h1m1 0h3m5 0h1m139 0h17m1 0h1m1 0h1m1 0h1m1 0h1m1 0h5m1 0h3m1 0h1m1 0h4m5 0h8m2 0h1m1 0h1m2 0h1m1 0h2m1 0h1m1 0h3m1 0h1m1 0h1m1 0h5m2 0h4m5 0h3m1 0h1m1 0h1m1 0h2m1 0h1m1 0h1m1 0h2m1 0h1m1 0h1m5 0h6m1 0h2m1 0h1m1 0h2m2 0h2m1 0h1m4 0h2m1 0h3m1 0h4m8 0h2m4 0h1m1 0h1m1 0h3m2 0h2m1 0h1m14 0h1m1 0h4m2 0h1m1 0h1m2 0h6m2 0h1m4 0h2m1 0h3m2 0h5M145 85.5h6m1 0h1m1 0h1m1 0h2m2 0h2m1 0h9m6 0h3m1 0h1m1 0h2m1 0h3m1 0h3m1 0h4m1 0h1m1 0h6m1 0h2m2 0h8m4 0h1m1 0h1m1 0h3m1 0h2m1 0h2m2 0h2m2 0h2m3 0h1m2 0h2m2 0h8m14 0h3m2 0h1m7 0h4m1 0h1m3 0h3m1 0h1m1 0h2m2 0h1m2 0h1m1 0h3m129 0h4m1 0h17m1 0h2m1 0h2m1 0h5m1 0h1m1 0h8m2 0h1m1 0h2m1 0h3m2 0h2m1 0h8m1 0h2m2 0h4m1 0h1m1 0h7m7 0h1m2 0h2m3 0h1m2 0h5m1 0h5m4 0h3m2 0h1m3 0h8m7 0h4m1 0h1m1 0h1m1 0h1m2 0h1m1 0h1m3 0h3m1 0h1m5 0h3m4 0h2m14 0h7m1 0h2m1 0h4m3 0h4m5 0h2m1 0h4m2 0h3M141 86.5h2m1 0h6m1 0h3m2 0h3m1 0h2m1 0h2m3 0h4m5 0h5m2 0h5m1 0h3m2 0h2m1 0h1m1 0h5m5 0h1m3 0h2m1 0h1m3 0h2m2 0h1m1 0h1m1 0h5m1 0h6m4 0h2m2 0h1m2 0h1m1 0h8m1 0h1m14 0h1m1 0h2m1 0h3m5 0h1m3 0h2m2 0h2m6 0h1m1 0h1m3 0h1m135 0h4m1 0h13m1 0h4m1 0h1m2 0h1m2 0h2m1 0h2m1 0h2m1 0h4m4 0h2m2 0h5m1 0h5m1 0h2m1 0h3m1 0h1m1 0h2m1 0h1m1 0h2m1 0h6m7 0h1m1 0h2m3 0h1m2 0h3m2 0h5m1 0h1m4 0h2m2 0h2m3 0h3m1 0h1m1 0h1m1 0h1m3 0h3m4 0h1m1 0h2m1 0h3m5 0h2m1 0h4m1 0h1m1 0h1m6 0h1m14 0h1m4 0h3m1 0h1m2 0h3m2 0h2m3 0h3m2 0h1m3 0h2m1 0h3m1 0h2M138 87.5h6m1 0h2m1 0h1m1 0h4m5 0h7m1 0h5m6 0h3m2 0h4m3 0h6m2 0h2m1 0h3m1 0h3m1 0h2m1 0h1m1 0h5m3 0h1m2 0h1m1 0h7m3 0h3m4 0h3m1 0h2m1 0h1m4 0h1m2 0h5m14 0h3m2 0h1m3 0h1m2 0h1m2 0h3m3 0h2m3 0h1m3 0h1m2 0h1m1 0h3m1 0h1m131 0h4m1 0h4m1 0h9m1 0h3m2 0h4m5 0h1m1 0h1m2 0h4m1 0h1m1 0h3m1 0h6m3 0h3m1 0h3m3 0h1m1 0h5m1 0h3m1 0h5m7 0h1m1 0h1m2 0h2m4 0h2m1 0h9m4 0h2m1 0h5m2 0h2m1 0h2m4 0h3m3 0h1m1 0h2m2 0h1m1 0h4m1 0h1m1 0h2m1 0h1m2 0h1m2 0h3m3 0h1m16 0h1m1 0h1m1 0h1m2 0h1m1 0h1m2 0h3m1 0h3m1 0h1m5 0h11m1 0h2M136 88.5h9m1 0h4m2 0h4m2 0h5m1 0h8m4 0h1m1 0h1m1 0h3m1 0h6m1 0h1m1 0h5m1 0h1m1 0h1m1 0h2m1 0h3m1 0h1m1 0h1m1 0h5m1 0h2m5 0h4m1 0h4m1 0h2m1 0h2m3 0h2m6 0h1m1 0h1m1 0h1m1 0h1m16 0h2m4 0h2m1 0h1m1 0h3m8 0h1m2 0h1m3 0h1m11 0h1m133 0h2m3 0h2m1 0h10m1 0h4m2 0h3m1 0h4m1 0h1m2 0h2m3 0h1m1 0h6m4 0h2m3 0h1m1 0h1m2 0h2m1 0h8m1 0h3m1 0h4m4 0h1m1 0h1m1 0h1m1 0h1m1 0h6m2 0h5m1 0h2m4 0h1m1 0h1m3 0h1m1 0h2m2 0h1m1 0h2m1 0h2m2 0h3m1 0h1m2 0h4m1 0h5m2 0h1m1 0h3m1 0h2m1 0h1m2 0h1m1 0h2m4 0h1m13 0h2m1 0h2m1 0h1m1 0h3m1 0h4m1 0h2m6 0h1m1 0h2m1 0h1m2 0h2m1 0h4M132 89.5h11m1 0h2m1 0h7m1 0h5m1 0h1m1 0h5m1 0h1m1 0h1m6 0h10m1 0h3m1 0h5m3 0h1m1 0h2m1 0h2m1 0h11m2 0h1m2 0h1m1 0h2m1 0h5m1 0h1m2 0h3m3 0h3m1 0h1m2 0h3m3 0h1m4 0h1m13 0h1m2 0h1m4 0h2m1 0h3m1 0h1m5 0h2m2 0h2m1 0h1m2 0h1m1 0h1m2 0h2m1 0h2m134 0h1m2 0h4m1 0h5m1 0h7m1 0h5m1 0h2m2 0h2m2 0h2m2 0h4m1 0h3m3 0h4m1 0h4m3 0h1m1 0h1m1 0h3m1 0h2m2 0h4m1 0h3m4 0h1m1 0h1m3 0h1m1 0h1m1 0h2m6 0h4m4 0h6m1 0h1m1 0h1m1 0h2m2 0h1m1 0h1m5 0h2m2 0h1m2 0h1m2 0h1m2 0h2m1 0h2m2 0h2m1 0h2m2 0h2m1 0h1m1 0h2m1 0h3m15 0h7m1 0h2m1 0h1m1 0h7m4 0h2m1 0h2m1 0h1m1 0h4m1 0h3M131 90.5h8m1 0h3m1 0h1m1 0h3m1 0h1m1 0h1m1 0h5m1 0h4m1 0h7m6 0h4m1 0h1m1 0h5m1 0h4m1 0h9m1 0h4m1 0h3m2 0h1m1 0h2m5 0h1m1 0h2m1 0h1m2 0h2m1 0h1m1 0h2m1 0h2m2 0h2m2 0h1m1 0h3m2 0h1m3 0h1m1 0h1m15 0h1m1 0h1m2 0h1m2 0h2m2 0h1m1 0h1m2 0h1m1 0h1m2 0h1m1 0h1m2 0h1m3 0h3m1 0h1m1 0h1m1 0h1m136 0h3m1 0h16m1 0h3m1 0h3m2 0h6m1 0h5m4 0h3m1 0h8m2 0h4m1 0h1m1 0h1m1 0h4m1 0h6m7 0h1m1 0h1m1 0h1m1 0h1m5 0h1m2 0h1m1 0h4m5 0h1m1 0h1m5 0h2m4 0h1m6 0h2m1 0h3m1 0h5m6 0h1m1 0h1m2 0h3m1 0h1m2 0h6m1 0h2m14 0h1m1 0h5m2 0h1m2 0h3m3 0h1m2 0h1m1 0h2m3 0h1m2 0h4m2 0h1M131 91.5h12m1 0h3m1 0h7m1 0h16m4 0h1m1 0h2m1 0h1m1 0h1m2 0h2m1 0h6m2 0h1m1 0h4m1 0h4m1 0h2m3 0h1m1 0h3m1 0h1m1 0h1m2 0h8m1 0h3m1 0h1m1 0h1m3 0h1m1 0h1m3 0h1m1 0h1m2 0h3m20 0h2m2 0h2m1 0h3m1 0h3m1 0h1m1 0h3m1 0h1m1 0h3m6 0h3m1 0h1m140 0h14m1 0h4m1 0h2m1 0h11m2 0h1m2 0h2m1 0h1m1 0h1m1 0h1m1 0h1m4 0h7m1 0h1m2 0h2m1 0h1m1 0h1m1 0h8m1 0h1m1 0h1m5 0h4m1 0h1m1 0h1m2 0h2m1 0h1m1 0h1m1 0h1m2 0h1m1 0h1m1 0h3m5 0h1m5 0h1m2 0h1m7 0h1m4 0h4m3 0h1m2 0h2m2 0h3m1 0h1m1 0h1m6 0h2m1 0h1m12 0h2m1 0h1m1 0h1m1 0h3m2 0h2m1 0h2m2 0h1m2 0h1m1 0h1m1 0h1m1 0h2m2 0h3m3 0h1M125 92.5h3m3 0h6m1 0h1m1 0h3m1 0h2m2 0h7m1 0h7m1 0h7m6 0h11m1 0h1m2 0h1m2 0h1m1 0h1m2 0h5m1 0h2m2 0h2m2 0h1m2 0h2m1 0h3m1 0h4m1 0h7m1 0h1m6 0h1m1 0h2m3 0h2m1 0h1m2 0h2m2 0h3m15 0h2m2 0h1m2 0h1m3 0h2m1 0h1m1 0h2m1 0h1m1 0h4m3 0h1m1 0h1m1 0h1m1 0h1m142 0h11m1 0h19m1 0h4m2 0h6m1 0h2m1 0h2m2 0h2m1 0h1m2 0h3m2 0h2m4 0h7m1 0h1m7 0h1m1 0h8m3 0h1m1 0h2m1 0h2m1 0h2m3 0h1m1 0h1m3 0h2m1 0h3m3 0h1m1 0h1m5 0h1m1 0h3m1 0h1m6 0h2m3 0h1m1 0h2m2 0h1m2 0h1m5 0h3m14 0h1m1 0h2m1 0h1m1 0h2m3 0h4m3 0h4m5 0h2m3 0h1m1 0h1m1 0h3M123 93.5h5m1 0h3m2 0h3m1 0h1m1 0h1m3 0h1m2 0h7m1 0h5m1 0h2m2 0h3m2 0h1m5 0h1m1 0h1m3 0h1m2 0h4m3 0h1m1 0h2m1 0h2m1 0h1m3 0h2m1 0h1m1 0h3m2 0h2m1 0h2m2 0h2m2 0h1m3 0h2m1 0h1m1 0h1m1 0h3m7 0h2m4 0h2m2 0h4m2 0h1m18 0h1m2 0h1m3 0h1m2 0h1m5 0h1m7 0h1m1 0h1m7 0h1m142 0h11m1 0h2m1 0h8m1 0h3m1 0h6m2 0h2m1 0h9m3 0h3m2 0h1m3 0h10m1 0h3m1 0h1m7 0h1m2 0h5m1 0h1m1 0h5m2 0h6m1 0h4m3 0h4m2 0h1m1 0h4m3 0h1m6 0h3m2 0h2m2 0h2m5 0h1m2 0h2m1 0h2m3 0h1m1 0h1m15 0h1m2 0h1m1 0h1m1 0h8m4 0h3m1 0h1m4 0h2m1 0h3m1 0h3m1 0h2M121 94.5h6m1 0h2m1 0h1m2 0h4m1 0h3m1 0h1m2 0h5m1 0h4m2 0h5m2 0h4m1 0h2m4 0h3m2 0h4m1 0h2m2 0h1m5 0h1m1 0h1m1 0h1m1 0h4m1 0h1m1 0h4m1 0h3m2 0h1m1 0h1m2 0h4m4 0h3m2 0h2m2 0h1m4 0h2m1 0h1m3 0h3m1 0h2m1 0h2m1 0h1m12 0h5m1 0h1m1 0h1m2 0h1m8 0h1m4 0h1m5 0h1m2 0h2m1 0h1m1 0h3m141 0h9m1 0h14m2 0h6m4 0h1m1 0h1m4 0h4m3 0h2m2 0h4m1 0h10m1 0h6m6 0h3m1 0h2m1 0h2m1 0h2m2 0h1m3 0h4m3 0h5m1 0h1m1 0h3m1 0h1m1 0h7m1 0h3m2 0h3m1 0h1m1 0h7m1 0h1m1 0h3m4 0h1m1 0h2m1 0h1m1 0h1m18 0h2m1 0h1m1 0h5m2 0h3m4 0h1m1 0h1m1 0h1m1 0h1m1 0h1m2 0h1m3 0h4M118 95.5h8m3 0h1m1 0h2m1 0h14m1 0h5m1 0h1m1 0h3m1 0h5m1 0h5m4 0h1m2 0h1m1 0h5m1 0h3m1 0h1m1 0h1m1 0h2m1 0h3m1 0h1m1 0h3m2 0h1m1 0h1m1 0h4m2 0h4m3 0h1m2 0h1m3 0h2m4 0h1m1 0h1m4 0h1m1 0h1m2 0h1m2 0h1m1 0h2m3 0h1m16 0h3m4 0h1m6 0h5m2 0h2m1 0h1m4 0h2m1 0h2m1 0h1m146 0h13m1 0h5m2 0h4m2 0h1m2 0h1m1 0h1m1 0h7m1 0h1m2 0h1m2 0h1m1 0h7m1 0h3m1 0h4m1 0h5m2 0h1m6 0h3m1 0h1m2 0h2m1 0h3m2 0h1m2 0h2m1 0h2m2 0h3m3 0h4m1 0h4m1 0h1m1 0h1m3 0h3m1 0h6m1 0h2m4 0h1m1 0h4m3 0h1m1 0h1m3 0h1m1 0h1m17 0h4m1 0h6m1 0h2m1 0h1m3 0h1m2 0h1m1 0h6m2 0h2m1 0h3M116 96.5h5m1 0h1m1 0h2m1 0h1m2 0h3m1 0h9m2 0h1m2 0h1m1 0h13m2 0h1m1 0h3m1 0h1m7 0h2m1 0h4m2 0h4m1 0h1m1 0h7m2 0h2m1 0h3m1 0h6m1 0h2m1 0h1m2 0h4m5 0h6m2 0h1m2 0h1m1 0h1m1 0h1m1 0h2m1 0h3m1 0h2m2 0h1m1 0h1m12 0h1m1 0h1m1 0h2m1 0h1m1 0h1m1 0h1m1 0h1m2 0h4m2 0h3m4 0h1m1 0h2m2 0h1m150 0h11m1 0h4m4 0h7m2 0h9m1 0h3m1 0h1m2 0h2m1 0h4m1 0h1m1 0h3m1 0h2m1 0h2m1 0h3m2 0h2m6 0h2m1 0h1m2 0h5m6 0h1m1 0h3m2 0h1m2 0h2m2 0h5m1 0h4m3 0h1m2 0h1m2 0h8m2 0h2m5 0h5m1 0h2m2 0h1m1 0h3m2 0h1m14 0h2m1 0h4m1 0h1m1 0h1m2 0h4m3 0h3m2 0h2m1 0h2m2 0h1m1 0h1m3 0h3M114 97.5h3m2 0h4m1 0h3m3 0h13m5 0h3m1 0h1m2 0h1m2 0h8m1 0h2m1 0h2m4 0h2m1 0h1m2 0h1m1 0h3m2 0h1m4 0h5m1 0h1m2 0h1m1 0h1m5 0h1m1 0h1m1 0h3m3 0h1m2 0h2m2 0h2m1 0h2m1 0h2m3 0h1m1 0h1m3 0h2m1 0h1m2 0h1m3 0h1m2 0h2m1 0h1m14 0h1m4 0h1m2 0h2m6 0h4m2 0h2m1 0h2m2 0h3m4 0h1m3 0h2m145 0h5m1 0h8m2 0h2m1 0h2m1 0h4m1 0h2m3 0h2m1 0h4m1 0h3m1 0h5m1 0h5m2 0h4m1 0h3m1 0h6m5 0h6m1 0h5m2 0h2m1 0h2m2 0h2m1 0h1m4 0h1m2 0h8m1 0h1m3 0h1m3 0h3m3 0h1m1 0h1m1 0h1m2 0h1m1 0h1m3 0h5m1 0h1m3 0h4m18 0h2m1 0h4m1 0h3m1 0h2m2 0h1m3 0h3m2 0h6m4 0h1m3 0h2M112 98.5h5m2 0h4m1 0h4m1 0h1m1 0h4m3 0h1m1 0h2m3 0h2m1 0h1m1 0h1m1 0h1m1 0h3m1 0h6m1 0h1m2 0h1m2 0h1m5 0h7m1 0h3m2 0h4m1 0h6m4 0h1m1 0h1m4 0h3m1 0h2m1 0h3m3 0h1m1 0h1m3 0h2m1 0h7m4 0h3m6 0h3m4 0h3m12 0h1m1 0h2m7 0h2m9 0h1m3 0h1m1 0h1m1 0h3m8 0h1m147 0h3m1 0h3m1 0h10m1 0h5m1 0h3m2 0h1m1 0h2m1 0h2m1 0h3m1 0h3m1 0h1m1 0h8m1 0h14m4 0h2m1 0h3m1 0h2m5 0h1m1 0h1m1 0h5m3 0h4m2 0h1m1 0h1m2 0h1m1 0h1m2 0h1m1 0h2m2 0h5m1 0h2m2 0h5m2 0h1m4 0h4m1 0h3m1 0h3m4 0h1m14 0h1m3 0h2m1 0h3m1 0h6m1 0h2m1 0h1m1 0h5m1 0h1m4 0h2m1 0h3M110 99.5h5m2 0h6m1 0h2m1 0h3m1 0h3m1 0h4m1 0h3m1 0h2m1 0h3m1 0h8m1 0h7m2 0h3m6 0h5m2 0h3m1 0h9m2 0h7m2 0h2m2 0h2m1 0h6m2 0h1m1 0h1m1 0h1m1 0h3m1 0h2m1 0h3m1 0h1m4 0h1m1 0h2m2 0h1m1 0h3m1 0h1m2 0h3m12 0h1m8 0h1m2 0h2m2 0h1m1 0h2m1 0h1m1 0h4m1 0h1m7 0h1m2 0h1m150 0h11m1 0h1m1 0h7m1 0h5m1 0h3m3 0h4m1 0h13m1 0h1m1 0h7m1 0h3m1 0h2m6 0h2m3 0h2m2 0h1m1 0h2m1 0h1m1 0h3m1 0h2m1 0h2m3 0h2m1 0h1m2 0h1m2 0h3m3 0h2m2 0h1m2 0h1m1 0h1m3 0h4m2 0h2m3 0h1m1 0h2m1 0h6m5 0h3m14 0h2m2 0h3m1 0h3m1 0h1m2 0h2m1 0h1m2 0h1m2 0h2m1 0h3m1 0h1m3 0h1m1 0h3M107 100.5h5m1 0h2m1 0h5m1 0h3m1 0h2m4 0h2m1 0h6m3 0h2m1 0h2m2 0h1m1 0h4m1 0h1m1 0h5m1 0h5m7 0h4m2 0h4m3 0h3m2 0h2m1 0h1m1 0h1m1 0h2m1 0h1m1 0h7m1 0h3m1 0h3m2 0h1m2 0h1m1 0h1m3 0h8m3 0h2m3 0h1m1 0h1m1 0h1m3 0h1m4 0h1m21 0h1m1 0h2m3 0h1m1 0h1m1 0h1m1 0h4m2 0h1m1 0h3m5 0h3m151 0h10m1 0h8m1 0h3m1 0h3m1 0h1m1 0h1m2 0h1m1 0h1m2 0h6m3 0h3m3 0h1m1 0h1m1 0h1m1 0h1m1 0h6m2 0h1m3 0h1m1 0h2m1 0h1m1 0h3m1 0h5m1 0h1m4 0h1m1 0h1m2 0h3m2 0h2m3 0h2m1 0h1m2 0h3m4 0h1m1 0h1m4 0h2m1 0h1m8 0h2m3 0h1m9 0h2m15 0h10m1 0h1m1 0h1m1 0h3m2 0h2m1 0h2m2 0h1m3 0h6M106 101.5h7m3 0h9m1 0h2m3 0h3m1 0h1m1 0h4m1 0h7m1 0h9m1 0h2m1 0h3m1 0h2m8 0h3m1 0h1m1 0h4m3 0h9m1 0h7m2 0h4m2 0h1m3 0h1m1 0h1m4 0h5m3 0h2m2 0h1m1 0h3m2 0h2m3 0h1m2 0h3m4 0h2m1 0h1m12 0h2m1 0h3m1 0h4m1 0h1m10 0h1m2 0h1m2 0h1m6 0h1m2 0h3m152 0h3m1 0h16m3 0h4m2 0h1m1 0h2m4 0h6m1 0h1m1 0h2m2 0h3m2 0h3m2 0h4m3 0h1m3 0h1m2 0h1m2 0h3m1 0h1m2 0h2m1 0h4m8 0h2m2 0h1m2 0h6m1 0h5m1 0h6m2 0h2m2 0h1m1 0h1m6 0h1m2 0h1m2 0h1m1 0h1m3 0h1m1 0h3m14 0h4m1 0h4m3 0h7m2 0h2m1 0h1m3 0h1m1 0h2m1 0h7M103 102.5h6m1 0h2m1 0h12m1 0h2m2 0h3m1 0h8m1 0h7m1 0h3m1 0h1m1 0h5m1 0h2m2 0h5m5 0h2m1 0h3m1 0h3m1 0h4m1 0h1m1 0h4m1 0h7m2 0h1m1 0h1m2 0h2m3 0h1m5 0h3m5 0h1m1 0h1m1 0h1m1 0h1m2 0h1m2 0h2m2 0h2m4 0h1m2 0h1m1 0h2m1 0h1m14 0h1m2 0h1m2 0h2m1 0h1m4 0h1m1 0h1m3 0h1m1 0h2m2 0h1m4 0h4m2 0h3m153 0h6m1 0h1m2 0h10m3 0h5m5 0h1m1 0h1m1 0h17m2 0h2m1 0h1m3 0h1m6 0h1m6 0h3m4 0h2m2 0h2m1 0h1m1 0h2m4 0h1m3 0h1m1 0h2m1 0h1m1 0h5m3 0h1m1 0h5m2 0h3m1 0h2m5 0h1m1 0h1m2 0h1m1 0h1m2 0h1m4 0h4m13 0h2m1 0h2m1 0h9m1 0h1m1 0h3m2 0h2m1 0h1m4 0h2m2 0h5M102 103.5h5m1 0h7m2 0h5m1 0h2m1 0h2m1 0h8m1 0h9m2 0h2m1 0h2m3 0h1m2 0h6m1 0h1m1 0h2m7 0h5m1 0h6m1 0h3m2 0h17m2 0h2m1 0h1m1 0h1m4 0h2m4 0h3m3 0h2m1 0h3m3 0h2m1 0h1m5 0h1m2 0h6m13 0h2m1 0h4m3 0h1m2 0h1m2 0h1m3 0h1m2 0h1m3 0h1m3 0h1m2 0h1m1 0h1m1 0h1m1 0h1m154 0h5m1 0h1m1 0h9m1 0h2m3 0h1m1 0h1m1 0h1m2 0h1m1 0h1m3 0h1m1 0h2m2 0h6m1 0h1m1 0h1m2 0h2m1 0h2m2 0h2m5 0h4m2 0h1m6 0h2m1 0h2m1 0h1m1 0h2m1 0h2m6 0h3m1 0h1m1 0h1m1 0h5m4 0h2m1 0h4m2 0h6m4 0h1m2 0h1m1 0h4m1 0h2m1 0h1m1 0h1m2 0h2m15 0h3m2 0h1m3 0h2m2 0h1m2 0h2m6 0h1m1 0h1m2 0h1m1 0h4m1 0h2M100 104.5h4m1 0h3m1 0h6m1 0h8m1 0h5m1 0h15m1 0h7m2 0h2m2 0h1m1 0h2m1 0h1m1 0h1m1 0h1m1 0h1m6 0h2m1 0h2m2 0h3m1 0h1m1 0h8m1 0h2m1 0h8m1 0h2m1 0h2m1 0h2m1 0h1m3 0h3m1 0h7m1 0h2m1 0h3m2 0h4m4 0h4m2 0h1m2 0h2m13 0h7m1 0h3m1 0h1m1 0h1m2 0h3m2 0h1m4 0h2m2 0h1m3 0h2m1 0h3m157 0h3m2 0h3m1 0h8m2 0h2m1 0h2m3 0h4m2 0h2m1 0h4m3 0h1m1 0h7m2 0h5m6 0h5m1 0h1m2 0h2m2 0h4m1 0h1m2 0h3m1 0h3m1 0h2m2 0h2m1 0h1m1 0h1m1 0h1m1 0h1m1 0h1m4 0h2m1 0h5m2 0h2m1 0h1m5 0h4m1 0h3m1 0h4m1 0h3m1 0h1m15 0h1m1 0h2m2 0h1m2 0h3m2 0h1m1 0h2m3 0h4m1 0h1m8 0h2m1 0h1M97 105.5h4m1 0h2m3 0h1m1 0h1m1 0h1m1 0h7m2 0h1m1 0h6m1 0h1m2 0h4m1 0h1m1 0h1m1 0h3m1 0h8m1 0h3m2 0h9m7 0h3m1 0h1m3 0h4m1 0h2m1 0h5m1 0h1m3 0h5m4 0h2m1 0h3m1 0h2m1 0h1m2 0h1m3 0h3m1 0h11m1 0h1m1 0h2m1 0h1m1 0h1m1 0h1m4 0h4m16 0h2m1 0h1m2 0h1m1 0h1m1 0h5m1 0h1m1 0h2m1 0h1m1 0h1m8 0h1m1 0h2m2 0h1m158 0h3m1 0h7m2 0h3m2 0h2m1 0h9m2 0h5m1 0h2m2 0h2m1 0h2m1 0h1m2 0h7m8 0h1m1 0h1m3 0h4m1 0h3m1 0h2m2 0h1m1 0h1m6 0h1m1 0h1m5 0h2m2 0h1m5 0h4m2 0h2m1 0h1m1 0h2m1 0h3m3 0h3m1 0h1m2 0h1m4 0h1m1 0h1m3 0h1m14 0h3m3 0h1m1 0h7m1 0h1m1 0h2m2 0h1m1 0h3m1 0h1m1 0h2m4 0h3M96 106.5h12m1 0h2m2 0h2m2 0h7m1 0h3m1 0h8m1 0h5m1 0h4m1 0h2m1 0h3m1 0h4m5 0h5m7 0h6m1 0h5m2 0h1m1 0h6m1 0h2m1 0h1m1 0h3m1 0h3m1 0h8m3 0h2m3 0h2m1 0h1m1 0h2m1 0h3m2 0h1m3 0h2m2 0h1m1 0h1m4 0h2m1 0h1m1 0h2m20 0h1m3 0h2m2 0h1m4 0h2m1 0h1m2 0h2m3 0h4m1 0h1m3 0h1m160 0h9m1 0h4m2 0h1m2 0h2m1 0h6m2 0h2m1 0h2m1 0h3m2 0h5m1 0h1m1 0h6m8 0h2m2 0h2m3 0h2m1 0h2m3 0h7m2 0h1m7 0h1m2 0h1m1 0h1m1 0h1m2 0h1m2 0h4m3 0h2m1 0h4m1 0h2m6 0h1m3 0h1m3 0h1m1 0h1m4 0h1m14 0h1m1 0h5m3 0h1m2 0h3m1 0h2m2 0h1m1 0h1m5 0h1m1 0h5m1 0h1M94 107.5h5m1 0h5m2 0h3m1 0h4m1 0h7m1 0h2m1 0h1m1 0h15m1 0h3m1 0h6m2 0h2m1 0h1m1 0h4m1 0h1m1 0h3m5 0h3m2 0h2m1 0h3m1 0h2m2 0h5m1 0h1m1 0h3m2 0h1m3 0h1m1 0h1m1 0h1m1 0h2m2 0h1m3 0h6m1 0h1m1 0h1m1 0h4m1 0h2m6 0h2m1 0h2m1 0h4m4 0h2m14 0h1m1 0h6m1 0h2m3 0h1m1 0h2m1 0h2m1 0h1m2 0h1m1 0h3m1 0h1m1 0h6m163 0h26m2 0h7m2 0h4m1 0h2m1 0h1m1 0h7m6 0h3m2 0h5m1 0h2m1 0h8m1 0h2m3 0h3m1 0h1m4 0h1m6 0h2m2 0h2m3 0h1m1 0h1m1 0h2m1 0h1m2 0h1m1 0h1m4 0h1m1 0h1m1 0h1m4 0h1m1 0h1m3 0h1m15 0h2m1 0h2m1 0h3m1 0h9m1 0h4m2 0h4m1 0h7M93 108.5h13m1 0h2m1 0h1m6 0h9m1 0h2m2 0h1m1 0h5m1 0h3m1 0h8m2 0h2m3 0h3m1 0h4m1 0h5m5 0h2m1 0h8m1 0h3m1 0h1m1 0h1m1 0h1m1 0h1m1 0h5m1 0h1m1 0h3m2 0h1m1 0h3m1 0h3m4 0h2m2 0h6m1 0h5m2 0h1m3 0h1m2 0h2m2 0h1m2 0h1m1 0h3m14 0h1m1 0h2m1 0h3m1 0h1m2 0h1m1 0h1m1 0h4m1 0h2m2 0h2m1 0h3m1 0h1m2 0h1m1 0h2m165 0h16m1 0h7m2 0h4m1 0h3m1 0h2m1 0h1m3 0h3m1 0h4m1 0h1m5 0h3m1 0h8m1 0h1m2 0h1m2 0h2m1 0h4m1 0h1m1 0h1m1 0h1m2 0h1m1 0h1m2 0h2m1 0h4m6 0h2m2 0h1m2 0h2m2 0h1m3 0h1m5 0h1m4 0h1m7 0h1m1 0h1m13 0h1m2 0h2m1 0h1m1 0h1m2 0h8m1 0h1m1 0h5m1 0h1m3 0h1m1 0h1m1 0h1M90 109.5h1m1 0h13m1 0h1m1 0h1m1 0h5m1 0h5m1 0h6m3 0h3m1 0h8m1 0h5m1 0h2m1 0h2m2 0h2m2 0h5m1 0h1m1 0h1m1 0h1m6 0h7m1 0h3m1 0h6m2 0h2m1 0h7m4 0h1m1 0h5m1 0h3m1 0h1m1 0h2m4 0h1m1 0h7m3 0h2m3 0h3m1 0h1m1 0h3m1 0h1m2 0h2m16 0h2m1 0h2m1 0h4m1 0h6m3 0h2m4 0h1m1 0h7m169 0h18m1 0h3m1 0h2m2 0h1m1 0h1m1 0h3m1 0h1m1 0h1m1 0h4m1 0h1m1 0h4m5 0h3m2 0h3m1 0h2m2 0h12m1 0h2m1 0h3m1 0h1m1 0h1m1 0h1m1 0h1m1 0h3m2 0h1m2 0h1m3 0h1m1 0h2m1 0h1m1 0h1m2 0h1m1 0h1m7 0h1m5 0h4m4 0h2m13 0h2m1 0h2m2 0h2m2 0h2m1 0h7m1 0h1m1 0h1m1 0h2m2 0h2m2 0h3m2 0h1M89 110.5h5m1 0h1m1 0h1m2 0h21m1 0h4m1 0h1m2 0h1m1 0h10m3 0h3m2 0h1m1 0h4m1 0h2m2 0h7m1 0h1m10 0h6m1 0h6m1 0h7m1 0h1m1 0h4m1 0h4m1 0h3m1 0h1m1 0h2m3 0h2m3 0h3m1 0h6m1 0h2m3 0h1m1 0h2m3 0h2m1 0h1m1 0h1m2 0h1m1 0h1m21 0h4m2 0h1m2 0h2m4 0h1m1 0h1m3 0h1m1 0h1m7 0h1m169 0h6m3 0h10m2 0h2m2 0h3m1 0h1m1 0h1m2 0h5m1 0h6m2 0h1m5 0h3m1 0h5m1 0h1m1 0h8m1 0h1m1 0h2m3 0h2m3 0h1m4 0h1m1 0h1m1 0h1m2 0h1m1 0h1m1 0h1m4 0h2m3 0h1m1 0h3m14 0h1m2 0h1m2 0h1m2 0h1m12 0h1m3 0h2m1 0h2m3 0h1m1 0h1m1 0h1m1 0h1m1 0h1m2 0h2m2 0h2m1 0h1m3 0h4m2 0h1M86 111.5h5m1 0h1m1 0h3m2 0h8m1 0h3m1 0h7m1 0h2m1 0h5m3 0h6m1 0h5m1 0h1m1 0h3m1 0h5m1 0h3m1 0h6m1 0h1m2 0h1m5 0h1m1 0h1m1 0h7m1 0h4m2 0h1m1 0h2m1 0h8m1 0h11m1 0h3m1 0h3m2 0h2m1 0h3m1 0h4m1 0h1m2 0h3m4 0h1m1 0h4m2 0h1m1 0h2m21 0h1m1 0h3m1 0h6m1 0h2m4 0h2m4 0h1m7 0h1m170 0h5m1 0h8m1 0h2m1 0h1m1 0h6m2 0h2m2 0h1m1 0h4m2 0h7m5 0h1m2 0h1m1 0h5m2 0h3m1 0h5m1 0h3m3 0h2m4 0h1m1 0h1m1 0h4m3 0h1m3 0h4m1 0h2m1 0h1m1 0h1m2 0h1m1 0h2m1 0h3m2 0h2m1 0h2m2 0h2m3 0h4m13 0h1m3 0h2m1 0h3m3 0h1m1 0h2m1 0h2m2 0h15M86 112.5h21m1 0h7m1 0h13m1 0h3m1 0h1m1 0h6m5 0h6m1 0h2m1 0h11m1 0h1m1 0h1m5 0h2m1 0h5m1 0h4m1 0h2m3 0h3m1 0h5m1 0h2m2 0h2m2 0h6m1 0h2m2 0h2m1 0h3m1 0h2m1 0h1m1 0h5m2 0h3m5 0h1m1 0h4m1 0h1m3 0h1m18 0h2m1 0h5m1 0h4m1 0h3m4 0h1m1 0h4m1 0h2m1 0h2m2 0h1m172 0h3m1 0h7m1 0h5m1 0h1m1 0h4m1 0h3m2 0h3m2 0h2m2 0h2m1 0h2m5 0h1m1 0h1m1 0h2m1 0h9m1 0h3m3 0h2m1 0h4m3 0h1m2 0h1m1 0h4m3 0h2m2 0h3m4 0h1m1 0h3m8 0h8m2 0h1m1 0h2m1 0h1m1 0h3m13 0h1m1 0h5m1 0h6m1 0h4m3 0h1m1 0h6m1 0h1m1 0h3M84 113.5h6m1 0h3m2 0h1m1 0h1m1 0h8m2 0h2m1 0h2m1 0h4m1 0h8m2 0h2m1 0h5m1 0h3m1 0h2m1 0h5m1 0h2m1 0h4m1 0h4m2 0h4m4 0h1m5 0h4m1 0h4m1 0h2m3 0h2m1 0h1m1 0h1m1 0h2m2 0h4m1 0h1m1 0h1m1 0h2m1 0h2m1 0h1m2 0h1m2 0h5m2 0h5m1 0h1m3 0h2m6 0h2m5 0h1m1 0h2m17 0h1m1 0h1m1 0h2m1 0h2m1 0h1m2 0h2m1 0h2m3 0h1m5 0h1m2 0h1m1 0h5m176 0h9m1 0h5m1 0h5m1 0h3m1 0h7m1 0h3m1 0h2m5 0h3m1 0h10m1 0h3m1 0h2m2 0h2m1 0h1m9 0h1m1 0h1m1 0h1m1 0h1m2 0h1m4 0h1m1 0h1m4 0h2m1 0h1m4 0h2m6 0h3m5 0h4m1 0h2m15 0h1m2 0h5m1 0h3m1 0h1m1 0h4m2 0h1m1 0h1m1 0h3m1 0h2m1 0h4M83 114.5h4m1 0h2m1 0h5m2 0h3m1 0h6m1 0h6m2 0h6m3 0h7m1 0h2m2 0h2m1 0h3m2 0h1m1 0h6m1 0h1m1 0h3m1 0h5m2 0h3m6 0h3m2 0h8m1 0h1m1 0h5m1 0h1m1 0h7m2 0h6m1 0h1m1 0h4m5 0h3m2 0h3m2 0h1m2 0h1m3 0h1m3 0h1m1 0h1m3 0h1m4 0h2m18 0h1m2 0h5m1 0h1m1 0h2m1 0h5m1 0h1m1 0h1m1 0h1m2 0h2m2 0h6m177 0h9m1 0h1m1 0h1m1 0h4m1 0h5m2 0h2m1 0h2m1 0h1m1 0h3m1 0h2m6 0h11m1 0h7m1 0h4m2 0h2m1 0h1m1 0h2m3 0h1m2 0h3m1 0h1m7 0h1m1 0h1m3 0h1m1 0h2m1 0h1m2 0h1m2 0h2m2 0h8m2 0h3m1 0h1m15 0h1m1 0h2m2 0h3m1 0h1m2 0h2m1 0h1m1 0h1m1 0h1m1 0h1m1 0h1m2 0h1m2 0h4m1 0h1m1 0h1M82 115.5h17m1 0h4m1 0h4m1 0h3m1 0h1m1 0h5m1 0h1m2 0h4m1 0h11m1 0h2m1 0h2m1 0h3m1 0h3m2 0h1m1 0h12m5 0h5m1 0h3m2 0h3m1 0h2m1 0h2m1 0h2m1 0h6m1 0h1m1 0h5m1 0h1m1 0h1m1 0h4m4 0h2m4 0h4m1 0h4m6 0h10m1 0h1m1 0h2m17 0h1m1 0h6m1 0h1m2 0h2m3 0h2m2 0h3m1 0h2m1 0h1m1 0h1m2 0h5m178 0h10m2 0h6m2 0h1m3 0h1m3 0h1m2 0h4m3 0h1m4 0h4m1 0h1m1 0h2m2 0h2m3 0h1m1 0h5m3 0h5m2 0h1m2 0h2m1 0h1m1 0h2m1 0h1m1 0h2m1 0h1m4 0h2m2 0h2m1 0h1m1 0h1m2 0h1m2 0h2m1 0h1m2 0h1m1 0h4m1 0h1m1 0h3m18 0h3m1 0h1m3 0h1m1 0h1m1 0h1m1 0h1m1 0h3m4 0h1m1 0h1m2 0h1m1 0h2m1 0h3M81 116.5h9m3 0h5m1 0h7m1 0h1m2 0h5m1 0h8m1 0h2m1 0h1m1 0h6m1 0h1m1 0h3m3 0h2m1 0h2m2 0h3m1 0h2m1 0h2m1 0h6m1 0h2m6 0h3m1 0h1m2 0h7m1 0h8m1 0h6m2 0h3m1 0h5m2 0h2m1 0h1m2 0h3m1 0h2m2 0h7m3 0h1m1 0h1m2 0h1m2 0h1m1 0h2m3 0h2m2 0h1m14 0h1m3 0h2m1 0h3m1 0h1m1 0h2m1 0h2m5 0h1m1 0h1m1 0h1m2 0h4m2 0h4m180 0h7m3 0h3m1 0h2m1 0h1m1 0h9m1 0h1m1 0h3m2 0h1m1 0h1m2 0h2m3 0h9m1 0h2m1 0h1m1 0h7m1 0h4m3 0h1m1 0h1m3 0h2m2 0h1m4 0h1m2 0h3m1 0h2m4 0h1m2 0h1m2 0h3m1 0h1m2 0h5m5 0h1m1 0h1m15 0h1m1 0h4m3 0h1m1 0h1m1 0h1m2 0h2m4 0h1m1 0h3m1 0h1m1 0h1m2 0h2M81 117.5h9m3 0h3m1 0h1m1 0h11m1 0h12m1 0h2m1 0h1m1 0h13m1 0h1m3 0h8m1 0h4m1 0h11m5 0h3m1 0h1m3 0h5m1 0h7m1 0h2m1 0h6m2 0h1m1 0h2m1 0h4m1 0h3m2 0h3m1 0h1m1 0h1m1 0h9m2 0h3m1 0h2m3 0h1m1 0h2m1 0h2m1 0h1m1 0h1m14 0h5m1 0h1m1 0h2m1 0h9m4 0h1m2 0h1m1 0h1m1 0h2m1 0h5m183 0h6m1 0h5m1 0h1m1 0h4m1 0h6m1 0h7m5 0h3m2 0h1m1 0h3m1 0h4m1 0h3m1 0h3m1 0h3m2 0h1m1 0h1m2 0h1m1 0h2m1 0h1m1 0h1m1 0h2m6 0h1m1 0h1m1 0h1m2 0h2m2 0h1m1 0h3m2 0h5m3 0h2m3 0h3m2 0h1m16 0h4m1 0h5m1 0h4m1 0h1m1 0h3m1 0h1m3 0h3m3 0h6M80 118.5h4m1 0h5m3 0h3m1 0h2m1 0h4m2 0h7m1 0h2m2 0h2m2 0h7m1 0h7m1 0h1m1 0h3m1 0h1m1 0h2m1 0h1m1 0h19m4 0h1m1 0h1m1 0h1m1 0h4m2 0h6m1 0h8m1 0h4m1 0h1m1 0h3m3 0h1m1 0h4m4 0h3m1 0h6m2 0h1m1 0h3m2 0h5m2 0h1m3 0h2m20 0h3m2 0h1m1 0h4m3 0h4m1 0h1m1 0h3m4 0h1m1 0h3m1 0h5m1 0h1m184 0h10m1 0h3m2 0h7m1 0h3m1 0h4m6 0h7m1 0h3m2 0h3m2 0h1m1 0h2m1 0h1m2 0h1m1 0h3m2 0h1m3 0h1m3 0h2m3 0h1m2 0h3m2 0h3m1 0h1m2 0h4m2 0h2m1 0h2m3 0h3m2 0h7m16 0h1m1 0h4m1 0h1m4 0h1m3 0h2m2 0h1m5 0h5m2 0h3m1 0h1M80 119.5h10m3 0h6m2 0h3m2 0h9m1 0h10m4 0h17m1 0h2m1 0h1m1 0h11m3 0h4m5 0h8m1 0h1m1 0h5m1 0h3m1 0h2m1 0h1m1 0h5m2 0h4m1 0h1m1 0h4m1 0h2m2 0h2m1 0h2m1 0h1m1 0h3m1 0h1m7 0h1m1 0h1m6 0h1m1 0h1m1 0h1m4 0h1m13 0h3m4 0h1m1 0h2m2 0h2m1 0h5m1 0h1m1 0h1m3 0h3m1 0h3m1 0h3m1 0h1m186 0h9m1 0h5m1 0h3m1 0h1m3 0h5m7 0h1m1 0h4m1 0h1m1 0h6m3 0h1m1 0h4m2 0h1m1 0h2m3 0h2m6 0h1m2 0h1m1 0h1m1 0h3m2 0h3m2 0h3m2 0h3m1 0h2m2 0h1m4 0h2m1 0h1m1 0h2m3 0h1m18 0h2m1 0h1m3 0h4m7 0h3m1 0h3m1 0h4m1 0h2m1 0h2M80 120.5h11m1 0h13m1 0h2m1 0h3m1 0h15m2 0h3m2 0h8m1 0h5m1 0h4m1 0h4m1 0h5m1 0h5m7 0h8m3 0h3m2 0h1m1 0h2m1 0h1m1 0h2m1 0h3m1 0h2m1 0h2m1 0h1m1 0h2m1 0h1m1 0h1m3 0h1m3 0h6m1 0h4m2 0h1m2 0h1m2 0h1m1 0h2m2 0h2m2 0h3m1 0h1m15 0h1m2 0h2m2 0h3m3 0h1m1 0h2m3 0h2m1 0h4m1 0h1m2 0h1m1 0h3m1 0h1m1 0h1m187 0h7m2 0h5m2 0h4m1 0h1m1 0h2m1 0h3m6 0h3m1 0h4m1 0h3m1 0h1m1 0h4m1 0h4m5 0h1m2 0h1m2 0h5m1 0h3m1 0h2m1 0h1m4 0h8m2 0h3m3 0h2m2 0h1m1 0h1m1 0h3m4 0h4m16 0h3m1 0h2m2 0h1m2 0h1m1 0h1m2 0h1m1 0h2m2 0h3m1 0h3m1 0h4m2 0h1M79 121.5h12m1 0h13m1 0h6m1 0h8m1 0h5m3 0h11m1 0h1m1 0h2m1 0h4m1 0h2m1 0h11m1 0h4m6 0h1m1 0h4m1 0h2m2 0h2m1 0h1m1 0h1m1 0h2m1 0h1m2 0h1m1 0h1m1 0h4m2 0h5m1 0h6m1 0h3m1 0h2m1 0h4m1 0h4m2 0h1m3 0h2m3 0h1m1 0h2m2 0h2m2 0h2m15 0h2m2 0h4m1 0h1m2 0h2m2 0h5m1 0h1m1 0h3m4 0h1m1 0h1m2 0h2m192 0h9m1 0h1m1 0h14m6 0h1m1 0h2m1 0h1m1 0h5m1 0h1m2 0h1m1 0h1m2 0h2m2 0h1m2 0h2m2 0h2m2 0h1m1 0h1m3 0h2m1 0h1m4 0h2m1 0h2m1 0h1m3 0h3m1 0h1m3 0h1m1 0h1m1 0h2m4 0h2m2 0h3m1 0h2m17 0h2m1 0h5m5 0h5m1 0h1m6 0h1m3 0h2m2 0h2M79 122.5h36m2 0h2m1 0h1m1 0h11m1 0h4m1 0h4m1 0h3m1 0h3m2 0h1m2 0h7m1 0h7m5 0h2m2 0h3m1 0h1m3 0h2m1 0h5m1 0h1m3 0h1m1 0h3m1 0h1m3 0h1m1 0h1m1 0h7m4 0h4m1 0h1m1 0h1m4 0h1m1 0h2m1 0h1m6 0h1m6 0h2m1 0h3m15 0h4m1 0h1m1 0h4m1 0h3m1 0h1m1 0h2m3 0h4m2 0h5m1 0h1m1 0h1m1 0h1m191 0h15m1 0h1m1 0h2m1 0h4m7 0h1m2 0h2m2 0h2m1 0h5m2 0h2m1 0h2m1 0h3m1 0h1m3 0h4m1 0h3m2 0h5m3 0h1m1 0h1m2 0h1m1 0h1m2 0h2m2 0h1m3 0h4m2 0h1m1 0h2m3 0h1m1 0h1m1 0h2m17 0h2m2 0h3m1 0h3m6 0h1m2 0h1m1 0h1m3 0h1m1 0h2m1 0h1m1 0h1M79 123.5h12m1 0h2m1 0h2m1 0h5m2 0h1m1 0h8m2 0h4m2 0h9m2 0h6m1 0h6m1 0h7m2 0h7m1 0h6m7 0h1m1 0h4m1 0h1m1 0h2m1 0h6m2 0h1m1 0h3m1 0h13m1 0h1m2 0h2m2 0h1m1 0h4m1 0h2m2 0h2m2 0h1m1 0h1m5 0h1m1 0h3m2 0h1m4 0h2m16 0h3m1 0h2m2 0h2m3 0h1m2 0h5m1 0h4m2 0h1m1 0h4m2 0h2m1 0h1m195 0h11m1 0h1m1 0h2m1 0h2m2 0h1m5 0h4m1 0h1m1 0h3m1 0h1m1 0h1m2 0h1m2 0h2m6 0h2m1 0h1m2 0h7m1 0h2m1 0h3m1 0h1m1 0h1m1 0h2m2 0h1m1 0h7m3 0h1m1 0h2m2 0h5m1 0h2m1 0h3m18 0h1m1 0h1m1 0h3m2 0h3m3 0h1m3 0h1m1 0h2m1 0h1m1 0h1m1 0h4m1 0h1m1 0h2M78 124.5h9m1 0h2m1 0h6m1 0h2m1 0h3m1 0h6m1 0h3m1 0h3m1 0h1m1 0h7m2 0h7m7 0h1m1 0h5m1 0h3m1 0h3m1 0h10m5 0h1m1 0h2m1 0h1m1 0h1m1 0h1m1 0h3m2 0h1m2 0h1m1 0h1m2 0h1m4 0h3m1 0h7m3 0h3m2 0h13m3 0h3m2 0h8m3 0h1m1 0h2m2 0h1m16 0h11m1 0h2m1 0h10m1 0h1m2 0h4m1 0h3m198 0h14m2 0h2m8 0h2m2 0h6m1 0h3m2 0h1m1 0h1m1 0h1m1 0h2m2 0h5m4 0h1m2 0h1m3 0h1m2 0h1m2 0h1m1 0h1m2 0h1m3 0h1m1 0h2m2 0h1m4 0h1m1 0h5m2 0h1m5 0h2m1 0h2m16 0h3m2 0h2m1 0h5m2 0h1m1 0h1m4 0h3m1 0h1m5 0h2m1 0h2M78 125.5h12m1 0h1m1 0h7m1 0h5m1 0h8m2 0h4m1 0h6m1 0h1m1 0h2m1 0h8m5 0h3m2 0h2m1 0h1m1 0h3m1 0h5m1 0h2m1 0h1m8 0h1m1 0h1m1 0h1m1 0h8m1 0h2m1 0h1m1 0h4m1 0h3m2 0h7m1 0h5m3 0h1m2 0h9m2 0h1m5 0h1m1 0h1m4 0h2m1 0h8m16 0h1m4 0h7m1 0h3m1 0h1m2 0h8m1 0h1m1 0h3m1 0h4m200 0h16m6 0h6m1 0h3m2 0h2m1 0h2m1 0h5m5 0h2m1 0h3m1 0h1m5 0h1m1 0h1m1 0h1m2 0h1m1 0h2m2 0h7m1 0h2m1 0h2m1 0h1m1 0h2m2 0h4m1 0h2m1 0h1m1 0h2m1 0h1m16 0h3m1 0h3m1 0h1m1 0h1m4 0h1m2 0h2m2 0h1m1 0h1m1 0h1m1 0h2m1 0h1m3 0h1M77 126.5h13m1 0h1m1 0h1m1 0h7m1 0h1m2 0h5m1 0h10m1 0h1m1 0h6m1 0h7m1 0h4m2 0h5m2 0h6m1 0h3m1 0h2m1 0h5m6 0h3m1 0h6m1 0h1m1 0h3m1 0h1m1 0h3m1 0h2m1 0h2m1 0h3m1 0h1m2 0h4m2 0h2m4 0h1m1 0h7m1 0h1m1 0h3m4 0h1m3 0h2m1 0h2m1 0h1m2 0h1m2 0h3m15 0h1m1 0h1m4 0h3m1 0h11m1 0h3m1 0h3m1 0h5m1 0h1m203 0h8m1 0h5m6 0h2m3 0h2m1 0h5m2 0h2m2 0h6m2 0h1m1 0h2m1 0h2m3 0h2m1 0h1m1 0h1m2 0h1m2 0h1m4 0h3m1 0h3m1 0h1m6 0h2m1 0h1m1 0h5m1 0h1m7 0h1m18 0h2m1 0h2m1 0h1m1 0h5m3 0h4m2 0h1m1 0h1m1 0h9M77 127.5h15m1 0h1m1 0h15m1 0h1m1 0h15m3 0h6m1 0h1m2 0h1m1 0h1m1 0h1m1 0h2m1 0h1m1 0h12m1 0h7m5 0h3m1 0h8m1 0h1m1 0h5m1 0h2m1 0h1m1 0h5m1 0h4m1 0h3m1 0h4m5 0h2m1 0h4m2 0h4m1 0h2m1 0h1m1 0h1m2 0h1m1 0h2m3 0h1m2 0h1m1 0h3m15 0h2m1 0h1m3 0h6m5 0h1m1 0h3m1 0h5m1 0h1m1 0h2m1 0h4m205 0h10m1 0h1m5 0h3m1 0h1m2 0h3m1 0h4m1 0h1m2 0h1m1 0h2m2 0h1m1 0h3m2 0h2m1 0h1m1 0h9m1 0h1m3 0h1m1 0h4m2 0h1m1 0h1m5 0h1m1 0h1m1 0h1m1 0h2m4 0h3m1 0h3m1 0h1m16 0h5m1 0h1m1 0h4m2 0h1m5 0h2m2 0h2m1 0h1m1 0h1m2 0h1m1 0h2M77 128.5h1m1 0h9m5 0h15m2 0h2m1 0h1m1 0h1m1 0h11m3 0h11m3 0h19m1 0h1m1 0h4m6 0h7m1 0h3m1 0h8m1 0h3m3 0h7m2 0h2m1 0h2m1 0h4m1 0h1m2 0h2m2 0h3m2 0h2m1 0h3m3 0h1m2 0h2m2 0h1m1 0h1m2 0h4m20 0h1m2 0h2m1 0h3m2 0h1m2 0h1m1 0h5m1 0h1m1 0h1m1 0h1m3 0h1m2 0h1m2 0h1m207 0h10m8 0h1m2 0h1m1 0h5m2 0h16m5 0h2m1 0h1m1 0h1m1 0h3m4 0h3m1 0h2m1 0h6m2 0h1m3 0h2m3 0h2m1 0h1m2 0h1m1 0h3m2 0h1m17 0h1m4 0h1m1 0h1m1 0h3m2 0h1m2 0h2m1 0h1m1 0h1m1 0h3m1 0h1m1 0h1m1 0h1m1 0h2M77 129.5h1m1 0h10m4 0h1m1 0h1m3 0h5m1 0h4m1 0h3m1 0h2m1 0h5m1 0h5m3 0h7m1 0h1m1 0h2m1 0h3m1 0h4m1 0h6m5 0h8m5 0h1m1 0h1m2 0h15m1 0h2m1 0h1m3 0h2m2 0h8m1 0h1m1 0h3m1 0h3m4 0h9m1 0h2m2 0h1m3 0h1m1 0h2m5 0h2m21 0h2m2 0h3m2 0h6m1 0h2m3 0h8m1 0h2m1 0h2m211 0h8m5 0h6m1 0h1m2 0h2m1 0h1m1 0h2m1 0h2m1 0h2m1 0h1m1 0h3m1 0h1m1 0h2m1 0h2m1 0h4m2 0h2m2 0h3m5 0h2m2 0h2m2 0h1m4 0h1m4 0h1m2 0h3m2 0h1m1 0h1m2 0h1m17 0h1m1 0h3m3 0h2m2 0h1m1 0h1m2 0h2m2 0h1m4 0h2m2 0h1m3 0h2M76 130.5h10m1 0h2m4 0h1m1 0h1m1 0h1m1 0h10m1 0h1m1 0h3m2 0h5m1 0h5m2 0h1m1 0h10m1 0h4m1 0h7m2 0h2m1 0h6m2 0h3m6 0h3m1 0h15m3 0h5m1 0h3m1 0h6m3 0h4m3 0h7m1 0h1m2 0h3m1 0h2m1 0h1m1 0h3m1 0h3m2 0h1m1 0h2m2 0h4m17 0h8m2 0h4m2 0h12m1 0h6m214 0h5m7 0h5m2 0h2m1 0h1m1 0h4m2 0h9m5 0h1m4 0h1m2 0h1m7 0h1m3 0h2m1 0h1m3 0h1m1 0h1m5 0h3m4 0h4m1 0h3m3 0h1m17 0h5m2 0h6m1 0h1m3 0h2m4 0h4m1 0h1m1 0h2m1 0h2M76 131.5h14m3 0h3m1 0h1m1 0h10m1 0h5m2 0h8m1 0h2m1 0h6m2 0h5m2 0h6m1 0h4m2 0h6m1 0h1m1 0h2m1 0h2m8 0h1m1 0h16m2 0h2m3 0h4m1 0h3m2 0h1m1 0h6m3 0h1m1 0h7m2 0h4m1 0h2m1 0h3m2 0h1m3 0h4m1 0h1m1 0h4m17 0h1m1 0h2m2 0h3m2 0h2m1 0h2m1 0h3m1 0h2m1 0h1m3 0h1m3 0h1m1 0h2m215 0h3m7 0h1m3 0h1m1 0h3m1 0h2m1 0h4m3 0h2m2 0h1m1 0h2m2 0h1m1 0h1m2 0h1m1 0h7m3 0h3m2 0h1m1 0h1m2 0h1m1 0h1m2 0h1m3 0h1m1 0h4m2 0h1m1 0h2m3 0h5m17 0h2m2 0h2m1 0h1m1 0h5m4 0h1m3 0h1m1 0h1m1 0h2m1 0h1m1 0h2m2 0h1M75 132.5h15m2 0h2m1 0h3m1 0h6m2 0h1m1 0h3m1 0h4m1 0h3m1 0h4m1 0h2m2 0h5m1 0h2m1 0h1m1 0h2m2 0h5m1 0h3m2 0h2m1 0h5m1 0h2m1 0h2m6 0h1m1 0h7m1 0h2m1 0h1m1 0h7m6 0h1m1 0h2m1 0h2m1 0h1m2 0h1m1 0h1m1 0h2m3 0h2m1 0h8m3 0h4m3 0h1m1 0h2m7 0h5m19 0h1m1 0h1m1 0h5m1 0h1m1 0h1m1 0h8m2 0h1m1 0h11m216 0h1m6 0h3m1 0h5m2 0h1m2 0h3m2 0h1m1 0h2m4 0h1m2 0h3m2 0h2m2 0h3m1 0h1m5 0h2m2 0h4m1 0h1m3 0h2m3 0h3m2 0h1m2 0h1m2 0h9m17 0h2m1 0h3m1 0h1m2 0h1m1 0h1m1 0h2m2 0h1m1 0h1m3 0h1m2 0h2m1 0h2m2 0h2M74 133.5h2m2 0h7m1 0h22m2 0h19m1 0h1m1 0h7m1 0h3m1 0h6m1 0h1m1 0h2m2 0h2m1 0h12m5 0h1m1 0h1m1 0h6m1 0h2m1 0h8m1 0h2m1 0h3m1 0h2m1 0h11m4 0h7m2 0h2m2 0h1m1 0h2m3 0h1m1 0h3m1 0h1m2 0h5m1 0h2m19 0h1m1 0h1m1 0h1m1 0h3m1 0h1m1 0h1m1 0h10m1 0h7m1 0h2m1 0h1m223 0h2m2 0h11m1 0h2m2 0h2m4 0h4m1 0h2m1 0h4m1 0h5m1 0h1m1 0h2m4 0h1m1 0h3m3 0h1m6 0h3m3 0h1m2 0h4m2 0h2m1 0h1m17 0h6m2 0h6m3 0h1m2 0h2m4 0h6m2 0h2M74 134.5h9m1 0h15m1 0h2m1 0h5m1 0h2m2 0h1m1 0h2m1 0h8m1 0h16m1 0h7m1 0h3m2 0h3m1 0h9m7 0h2m1 0h7m1 0h7m1 0h3m2 0h5m3 0h1m2 0h8m1 0h2m1 0h4m1 0h2m1 0h1m1 0h1m1 0h1m1 0h1m2 0h2m3 0h4m4 0h4m1 0h2m1 0h1m18 0h1m2 0h5m1 0h2m1 0h3m2 0h1m2 0h1m1 0h1m1 0h2m1 0h1m1 0h1m2 0h1m1 0h3m222 0h11m2 0h6m2 0h1m1 0h2m1 0h1m1 0h1m4 0h4m2 0h1m1 0h1m1 0h1m4 0h4m8 0h4m1 0h1m1 0h4m1 0h2m1 0h4m2 0h1m3 0h1m1 0h1m17 0h2m1 0h2m4 0h1m1 0h7m3 0h2m1 0h1m1 0h1m1 0h3m2 0h3M70 135.5h19m2 0h3m1 0h2m1 0h10m1 0h2m1 0h3m1 0h2m1 0h9m1 0h2m1 0h9m5 0h7m3 0h6m1 0h9m5 0h7m1 0h10m2 0h2m1 0h1m1 0h4m1 0h1m1 0h1m3 0h9m2 0h2m2 0h4m1 0h1m1 0h2m2 0h1m1 0h2m2 0h3m2 0h2m1 0h5m1 0h3m19 0h1m1 0h3m1 0h2m1 0h12m1 0h4m1 0h1m1 0h1m2 0h4m224 0h7m1 0h2m2 0h6m5 0h1m1 0h1m1 0h3m1 0h2m1 0h1m1 0h1m3 0h3m11 0h4m1 0h6m1 0h3m2 0h1m3 0h4m2 0h4m20 0h3m2 0h1m2 0h3m1 0h5m6 0h7m2 0h2M69 136.5h15m1 0h4m1 0h6m2 0h1m1 0h11m2 0h8m3 0h5m1 0h6m1 0h1m3 0h2m1 0h1m1 0h5m1 0h8m1 0h2m1 0h5m1 0h2m5 0h7m1 0h1m2 0h1m1 0h18m1 0h4m2 0h3m2 0h3m4 0h2m1 0h2m1 0h4m2 0h1m5 0h2m2 0h2m1 0h1m2 0h1m2 0h2m3 0h1m18 0h2m1 0h1m1 0h11m2 0h2m3 0h4m2 0h1m1 0h5m226 0h8m1 0h16m1 0h4m4 0h1m1 0h4m1 0h1m1 0h4m1 0h2m1 0h1m1 0h5m1 0h1m4 0h3m2 0h2m1 0h1m2 0h1m1 0h2m1 0h1m1 0h2m17 0h1m2 0h1m1 0h2m4 0h1m1 0h2m4 0h6m1 0h1m1 0h3m1 0h4M69 137.5h7m1 0h13m2 0h7m1 0h9m4 0h1m1 0h3m1 0h9m2 0h13m1 0h1m1 0h3m1 0h1m1 0h12m2 0h3m1 0h2m5 0h13m1 0h9m1 0h7m1 0h10m1 0h5m2 0h5m3 0h1m6 0h1m2 0h1m1 0h4m2 0h1m2 0h5m2 0h1m18 0h2m1 0h1m1 0h4m1 0h1m1 0h2m1 0h2m1 0h1m2 0h7m1 0h4m2 0h1m228 0h10m1 0h2m3 0h2m1 0h4m1 0h3m1 0h2m2 0h2m2 0h1m1 0h1m4 0h1m2 0h4m2 0h1m1 0h3m1 0h2m2 0h2m2 0h3m4 0h2m1 0h3m20 0h1m1 0h3m1 0h1m3 0h3m1 0h1m4 0h2m1 0h2m2 0h2m1 0h1m2 0h1m2 0h1M71 138.5h19m2 0h4m1 0h2m1 0h2m1 0h5m1 0h2m1 0h3m1 0h1m1 0h1m1 0h1m1 0h4m1 0h1m3 0h12m2 0h4m1 0h3m1 0h2m1 0h11m9 0h12m2 0h5m1 0h1m1 0h7m1 0h4m1 0h3m1 0h1m1 0h2m1 0h3m1 0h3m1 0h1m1 0h2m1 0h5m6 0h5m4 0h1m2 0h2m1 0h4m19 0h3m1 0h1m1 0h4m7 0h3m4 0h2m1 0h6m1 0h1m231 0h11m1 0h1m1 0h13m2 0h2m1 0h3m1 0h2m1 0h1m3 0h1m2 0h2m1 0h1m2 0h1m1 0h3m2 0h5m1 0h1m4 0h2m1 0h6m17 0h1m1 0h1m2 0h2m1 0h2m2 0h3m2 0h1m1 0h4m3 0h3m1 0h3m2 0h1M72 139.5h2m1 0h5m1 0h8m3 0h4m1 0h9m1 0h5m1 0h2m1 0h5m2 0h1m1 0h1m1 0h1m3 0h4m1 0h1m1 0h6m1 0h17m1 0h6m1 0h1m6 0h1m2 0h4m2 0h10m1 0h2m1 0h2m1 0h4m2 0h3m1 0h4m1 0h2m1 0h2m2 0h2m1 0h1m1 0h1m1 0h3m1 0h2m1 0h2m1 0h1m1 0h1m4 0h1m1 0h1m5 0h1m1 0h2m1 0h2m17 0h3m1 0h1m1 0h3m1 0h4m2 0h2m1 0h4m1 0h4m1 0h8m233 0h10m1 0h2m1 0h2m1 0h5m2 0h2m1 0h1m3 0h2m4 0h6m1 0h2m1 0h2m1 0h1m1 0h1m5 0h1m2 0h1m1 0h3m3 0h1m2 0h2m2 0h1m16 0h3m2 0h3m1 0h2m8 0h3m1 0h1m1 0h2m1 0h1m6 0h1M74 140.5h15m3 0h2m1 0h4m2 0h4m2 0h1m1 0h3m1 0h2m1 0h6m1 0h3m5 0h2m1 0h4m1 0h5m1 0h15m1 0h3m1 0h4m1 0h2m5 0h1m1 0h2m1 0h16m1 0h1m1 0h1m1 0h4m3 0h4m1 0h2m1 0h2m1 0h2m1 0h1m1 0h1m2 0h9m1 0h1m1 0h1m3 0h2m1 0h2m6 0h1m1 0h4m1 0h1m17 0h1m1 0h3m1 0h3m2 0h2m2 0h3m1 0h4m1 0h1m1 0h10m237 0h6m1 0h2m3 0h8m2 0h1m1 0h3m2 0h1m4 0h2m1 0h5m3 0h2m1 0h1m7 0h2m2 0h1m5 0h2m1 0h2m20 0h7m1 0h1m2 0h1m2 0h1m1 0h5m1 0h4m4 0h4M75 141.5h4m1 0h10m2 0h6m4 0h4m1 0h1m3 0h1m1 0h2m2 0h3m1 0h2m1 0h5m1 0h3m1 0h10m1 0h5m1 0h1m1 0h7m1 0h3m1 0h2m1 0h1m1 0h1m5 0h5m1 0h1m2 0h2m1 0h6m1 0h5m1 0h6m1 0h10m1 0h4m4 0h2m1 0h10m1 0h2m1 0h1m1 0h1m1 0h1m2 0h3m1 0h1m1 0h5m1 0h1m17 0h1m1 0h2m2 0h3m1 0h5m1 0h2m1 0h1m1 0h1m1 0h2m1 0h4m1 0h4m1 0h1m239 0h6m2 0h6m1 0h4m1 0h3m4 0h2m2 0h6m1 0h2m4 0h2m1 0h2m4 0h1m2 0h4m6 0h2m19 0h10m1 0h1m1 0h1m1 0h1m1 0h2m1 0h1m1 0h1m1 0h2m4 0h2m1 0h2M76 142.5h5m2 0h3m2 0h2m1 0h5m1 0h12m2 0h10m1 0h1m1 0h3m2 0h9m1 0h1m1 0h2m1 0h3m1 0h2m1 0h2m2 0h1m1 0h11m1 0h1m7 0h2m1 0h2m2 0h1m1 0h1m2 0h2m1 0h15m2 0h2m4 0h3m3 0h2m1 0h2m1 0h1m1 0h5m1 0h2m3 0h2m2 0h1m2 0h1m1 0h3m1 0h1m1 0h2m5 0h1m17 0h1m2 0h2m2 0h2m1 0h3m1 0h2m1 0h1m1 0h3m1 0h3m1 0h2m1 0h5m2 0h1m242 0h3m1 0h6m2 0h2m5 0h1m1 0h1m1 0h1m1 0h1m2 0h2m1 0h4m2 0h1m4 0h1m1 0h1m2 0h1m1 0h2m1 0h5m1 0h1m5 0h1m2 0h1m16 0h2m1 0h1m1 0h3m1 0h1m1 0h1m1 0h1m1 0h1m2 0h2m1 0h1m2 0h2m1 0h4m4 0h1M76 143.5h30m1 0h2m1 0h4m1 0h2m1 0h4m1 0h3m1 0h3m1 0h1m1 0h10m2 0h9m1 0h7m1 0h3m1 0h4m6 0h1m1 0h1m1 0h1m2 0h3m1 0h10m2 0h1m2 0h5m1 0h2m1 0h2m2 0h3m2 0h2m1 0h9m3 0h1m1 0h3m4 0h1m2 0h2m4 0h1m1 0h1m2 0h1m2 0h2m16 0h1m1 0h1m1 0h7m2 0h1m2 0h1m2 0h3m2 0h2m1 0h2m1 0h4m2 0h2m244 0h9m2 0h8m2 0h1m4 0h1m1 0h6m6 0h1m1 0h1m4 0h2m2 0h1m1 0h1m3 0h3m1 0h1m2 0h2m16 0h2m1 0h3m3 0h1m1 0h3m1 0h1m3 0h3m1 0h1m1 0h2m1 0h5m2 0h2M77 144.5h5m1 0h1m1 0h12m1 0h24m2 0h3m1 0h2m1 0h12m1 0h2m1 0h3m1 0h5m1 0h4m2 0h8m5 0h6m3 0h2m1 0h11m1 0h2m1 0h2m1 0h1m1 0h9m1 0h1m3 0h1m1 0h7m1 0h1m1 0h1m1 0h5m3 0h5m2 0h2m3 0h2m1 0h4m16 0h1m1 0h2m3 0h8m1 0h2m1 0h1m1 0h1m3 0h1m1 0h4m1 0h2m2 0h1m249 0h8m2 0h5m1 0h2m1 0h1m3 0h1m2 0h3m1 0h1m1 0h1m1 0h1m1 0h2m1 0h1m2 0h1m1 0h1m1 0h3m2 0h2m1 0h1m1 0h1m1 0h2m1 0h2m15 0h5m1 0h3m2 0h1m5 0h1m1 0h2m3 0h1m1 0h2m1 0h1m2 0h3m1 0h2M77 145.5h11m1 0h5m1 0h24m1 0h1m1 0h1m1 0h2m2 0h1m2 0h6m2 0h16m2 0h7m1 0h3m1 0h2m5 0h1m2 0h1m1 0h1m1 0h1m1 0h1m1 0h2m1 0h2m1 0h4m1 0h5m1 0h1m1 0h1m1 0h4m1 0h10m2 0h1m1 0h8m1 0h5m4 0h3m1 0h3m1 0h2m3 0h4m1 0h1m17 0h1m2 0h1m2 0h2m1 0h2m2 0h3m2 0h1m1 0h4m1 0h4m1 0h1m256 0h12m1 0h5m2 0h2m1 0h4m2 0h1m1 0h1m1 0h5m2 0h2m2 0h1m3 0h2m2 0h2m2 0h1m1 0h2m15 0h5m2 0h3m2 0h7m1 0h1m2 0h1m2 0h1m5 0h3m1 0h2M77 146.5h4m1 0h13m1 0h3m1 0h16m1 0h2m1 0h3m1 0h2m1 0h4m1 0h5m1 0h8m1 0h5m2 0h8m1 0h1m1 0h1m1 0h4m6 0h8m1 0h5m1 0h1m2 0h2m1 0h2m1 0h1m1 0h3m3 0h3m1 0h2m1 0h7m2 0h4m1 0h2m1 0h2m1 0h1m1 0h1m1 0h3m2 0h1m2 0h2m1 0h1m1 0h3m1 0h2m20 0h1m2 0h1m1 0h2m1 0h1m1 0h3m1 0h4m1 0h1m2 0h9m1 0h1m2 0h1m257 0h8m1 0h1m2 0h1m3 0h1m2 0h1m1 0h1m1 0h2m1 0h6m1 0h1m2 0h2m1 0h2m1 0h1m1 0h1m3 0h1m1 0h1m2 0h2m18 0h4m1 0h1m1 0h1m1 0h5m3 0h1m1 0h3m4 0h1m5 0h1m1 0h1M78 147.5h2m1 0h6m1 0h6m1 0h24m1 0h2m2 0h4m1 0h1m1 0h5m2 0h5m2 0h1m2 0h9m1 0h7m2 0h3m8 0h2m1 0h1m3 0h2m1 0h1m2 0h1m1 0h2m1 0h3m1 0h4m1 0h1m1 0h1m2 0h5m1 0h4m1 0h2m2 0h3m1 0h6m1 0h3m1 0h3m2 0h1m2 0h2m2 0h2m5 0h1m1 0h2m16 0h2m1 0h3m2 0h3m1 0h2m1 0h3m1 0h10m3 0h5m1 0h1m256 0h8m2 0h2m2 0h1m2 0h1m1 0h6m1 0h1m3 0h2m1 0h4m1 0h1m1 0h1m6 0h1m1 0h1m21 0h1m1 0h1m1 0h1m3 0h1m1 0h4m4 0h3m1 0h3m3 0h1m2 0h2m1 0h2M78 148.5h2m1 0h6m2 0h9m2 0h2m1 0h2m2 0h2m1 0h5m1 0h6m1 0h19m2 0h3m1 0h3m2 0h12m2 0h1m1 0h1m6 0h1m1 0h4m2 0h3m1 0h6m1 0h1m1 0h2m1 0h3m1 0h1m1 0h1m2 0h4m2 0h1m1 0h2m1 0h2m2 0h1m1 0h2m1 0h10m1 0h2m3 0h4m2 0h2m1 0h6m1 0h1m1 0h1m13 0h2m1 0h5m2 0h1m1 0h3m2 0h3m1 0h1m2 0h1m1 0h1m1 0h2m1 0h1m1 0h8m260 0h8m2 0h1m1 0h3m1 0h2m1 0h6m4 0h4m1 0h3m3 0h2m1 0h4m1 0h2m14 0h1m2 0h2m1 0h2m1 0h2m2 0h5m2 0h1m3 0h2m1 0h1m1 0h2m2 0h3m1 0h2M79 149.5h7m1 0h1m1 0h9m1 0h2m1 0h2m1 0h1m2 0h2m1 0h13m1 0h2m1 0h1m2 0h1m1 0h2m1 0h6m2 0h2m1 0h3m1 0h5m1 0h7m1 0h1m2 0h3m6 0h4m1 0h2m1 0h3m1 0h1m1 0h7m1 0h2m1 0h4m1 0h1m1 0h5m1 0h1m1 0h2m2 0h1m2 0h5m1 0h13m1 0h2m2 0h1m3 0h2m2 0h1m1 0h2m1 0h3m12 0h2m2 0h8m1 0h4m1 0h7m1 0h1m1 0h5m2 0h1m1 0h1m1 0h3m263 0h5m1 0h4m1 0h1m1 0h5m1 0h1m1 0h1m1 0h2m2 0h2m1 0h4m2 0h1m1 0h1m1 0h1m4 0h2m14 0h1m1 0h6m1 0h1m4 0h2m5 0h1m3 0h1m3 0h2m2 0h3m1 0h1M79 150.5h3m1 0h5m1 0h1m2 0h1m1 0h3m1 0h3m2 0h3m2 0h7m3 0h4m1 0h2m1 0h2m2 0h2m1 0h9m2 0h6m2 0h12m1 0h1m2 0h3m6 0h4m3 0h1m1 0h3m3 0h8m2 0h4m3 0h10m1 0h1m4 0h3m2 0h3m1 0h2m2 0h1m2 0h2m2 0h1m2 0h2m2 0h5m4 0h3m12 0h1m1 0h3m1 0h2m1 0h4m1 0h3m1 0h4m1 0h1m1 0h2m1 0h1m1 0h4m1 0h5m1 0h1m266 0h2m2 0h7m2 0h2m1 0h3m1 0h1m1 0h1m2 0h7m3 0h1m1 0h2m1 0h3m14 0h1m2 0h2m1 0h2m2 0h2m1 0h1m2 0h1m3 0h1m1 0h1m1 0h2m2 0h1m1 0h1m1 0h1m1 0h2m2 0h1M80 151.5h10m4 0h7m1 0h3m1 0h3m1 0h5m2 0h19m3 0h4m2 0h2m1 0h2m1 0h4m1 0h4m1 0h5m1 0h4m5 0h7m2 0h1m2 0h1m1 0h8m4 0h1m1 0h14m7 0h1m1 0h5m1 0h4m1 0h2m1 0h1m3 0h3m2 0h2m1 0h3m4 0h3m13 0h6m1 0h4m4 0h2m1 0h2m1 0h2m1 0h1m2 0h2m1 0h1m1 0h3m1 0h2m1 0h2m271 0h9m1 0h2m2 0h2m6 0h3m6 0h3m1 0h4m15 0h1m2 0h1m1 0h2m1 0h1m2 0h5m1 0h3m4 0h2m1 0h5m1 0h4m1 0h1M81 152.5h8m4 0h8m1 0h8m2 0h3m2 0h4m1 0h3m1 0h16m1 0h2m1 0h7m1 0h1m1 0h15m1 0h1m3 0h7m1 0h10m1 0h3m2 0h16m3 0h1m1 0h1m2 0h1m2 0h2m2 0h4m1 0h2m2 0h1m5 0h2m3 0h2m2 0h2m2 0h5m12 0h3m2 0h1m2 0h1m1 0h1m1 0h3m1 0h2m1 0h1m1 0h2m1 0h1m2 0h6m1 0h1m1 0h5m273 0h12m1 0h1m3 0h1m1 0h6m1 0h2m1 0h3m5 0h1m13 0h3m1 0h3m1 0h2m2 0h5m8 0h4m1 0h3m1 0h2M81 153.5h10m1 0h2m1 0h4m2 0h4m1 0h7m1 0h12m1 0h1m1 0h21m1 0h4m1 0h4m1 0h1m1 0h7m6 0h7m1 0h1m1 0h2m1 0h2m2 0h8m1 0h2m1 0h8m1 0h2m1 0h1m1 0h3m3 0h4m4 0h3m1 0h3m2 0h1m1 0h1m1 0h1m1 0h2m2 0h1m1 0h2m2 0h3m2 0h1m12 0h3m1 0h1m3 0h1m1 0h10m1 0h5m3 0h6m1 0h1m1 0h4m277 0h10m2 0h1m2 0h2m1 0h5m4 0h2m1 0h2m14 0h2m1 0h4m2 0h1m2 0h2m4 0h1m2 0h1m4 0h3m1 0h1m1 0h2m2 0h1m1 0h1M83 154.5h6m1 0h8m1 0h1m1 0h3m1 0h7m2 0h7m1 0h1m1 0h2m1 0h11m2 0h2m2 0h8m2 0h3m1 0h5m3 0h2m1 0h1m6 0h7m1 0h7m1 0h9m1 0h3m1 0h6m1 0h1m2 0h5m4 0h4m1 0h1m3 0h1m1 0h2m2 0h2m1 0h2m1 0h1m1 0h1m3 0h1m1 0h1m1 0h8m12 0h7m2 0h2m3 0h3m1 0h2m1 0h3m1 0h1m1 0h1m2 0h5m1 0h6m281 0h7m3 0h1m1 0h5m2 0h1m6 0h3m12 0h2m1 0h3m4 0h1m2 0h1m2 0h1m1 0h1m1 0h1m5 0h1m1 0h2m1 0h1m3 0h1m1 0h3M85 155.5h3m1 0h2m2 0h4m2 0h5m1 0h18m2 0h6m1 0h11m1 0h6m1 0h1m2 0h6m1 0h5m1 0h3m7 0h8m1 0h6m1 0h3m1 0h6m1 0h1m1 0h2m2 0h1m3 0h2m1 0h1m1 0h4m2 0h4m3 0h1m1 0h2m1 0h1m1 0h3m1 0h1m1 0h1m1 0h2m1 0h1m2 0h1m2 0h1m1 0h6m12 0h7m2 0h3m2 0h1m1 0h5m1 0h5m1 0h1m1 0h1m2 0h1m1 0h1m1 0h1m1 0h3m285 0h2m3 0h5m1 0h2m1 0h2m1 0h1m1 0h6m12 0h7m1 0h1m1 0h1m3 0h1m1 0h1m1 0h1m1 0h1m2 0h1m1 0h1m1 0h2m2 0h2m4 0h1m1 0h1M87 156.5h10m1 0h2m1 0h5m1 0h11m1 0h14m1 0h9m3 0h3m1 0h1m1 0h18m6 0h9m1 0h20m1 0h1m1 0h10m1 0h1m1 0h1m2 0h3m2 0h7m2 0h1m6 0h2m1 0h2m3 0h2m1 0h3m3 0h1m12 0h4m3 0h2m1 0h9m1 0h1m2 0h3m1 0h1m2 0h1m1 0h4m2 0h2m1 0h1m289 0h9m1 0h3m1 0h2m1 0h4m14 0h2m2 0h1m1 0h1m1 0h1m3 0h1m5 0h1m3 0h2m1 0h1m4 0h2m1 0h5M89 157.5h11m2 0h3m2 0h6m1 0h2m1 0h3m1 0h1m1 0h1m3 0h3m1 0h2m1 0h4m1 0h4m2 0h10m1 0h13m1 0h1m6 0h10m1 0h2m2 0h1m2 0h4m2 0h7m1 0h2m2 0h1m1 0h8m2 0h5m1 0h3m1 0h1m2 0h2m1 0h1m2 0h1m2 0h2m2 0h1m1 0h1m1 0h1m2 0h5m13 0h4m1 0h10m1 0h1m2 0h2m2 0h3m1 0h2m1 0h1m1 0h2m1 0h3m1 0h3m291 0h11m4 0h4m12 0h1m1 0h2m1 0h1m1 0h4m2 0h1m1 0h3m4 0h1m1 0h3m1 0h2m2 0h4m2 0h3M91 158.5h7m1 0h15m3 0h3m1 0h1m1 0h3m1 0h2m1 0h13m1 0h10m1 0h1m1 0h9m1 0h1m2 0h1m6 0h6m1 0h6m1 0h3m1 0h2m2 0h9m2 0h1m1 0h1m1 0h2m1 0h4m3 0h5m1 0h8m2 0h2m3 0h1m1 0h1m1 0h3m2 0h3m1 0h6m13 0h4m2 0h4m1 0h1m3 0h1m1 0h1m1 0h1m1 0h4m1 0h2m1 0h1m2 0h9m295 0h9m1 0h4m14 0h1m2 0h5m1 0h1m2 0h3m2 0h3m1 0h1m5 0h2m2 0h2m2 0h1m1 0h1m1 0h1M94 159.5h7m1 0h9m1 0h1m2 0h1m2 0h2m1 0h1m1 0h5m3 0h2m1 0h5m1 0h3m1 0h1m1 0h9m1 0h8m1 0h5m7 0h4m1 0h24m3 0h2m2 0h1m1 0h3m1 0h1m1 0h2m1 0h1m2 0h4m1 0h6m1 0h1m1 0h1m4 0h1m1 0h3m1 0h6m1 0h1m1 0h2m13 0h3m3 0h2m4 0h2m3 0h8m1 0h2m4 0h2m1 0h3m1 0h3m297 0h1m1 0h10m14 0h1m3 0h2m3 0h1m1 0h1m1 0h2m2 0h1m1 0h2m4 0h1m1 0h2m1 0h3m1 0h2M97 160.5h8m1 0h2m1 0h4m1 0h1m2 0h5m1 0h1m1 0h3m3 0h10m1 0h1m1 0h1m1 0h4m2 0h3m1 0h4m2 0h1m1 0h7m5 0h9m1 0h4m1 0h4m2 0h5m1 0h3m3 0h3m1 0h5m1 0h1m1 0h1m2 0h2m2 0h1m1 0h3m1 0h1m1 0h3m1 0h3m2 0h9m1 0h4m1 0h2m14 0h4m1 0h4m2 0h3m1 0h4m1 0h1m1 0h3m1 0h1m2 0h1m1 0h3m1 0h3m1 0h3m302 0h7m12 0h1m2 0h1m1 0h3m1 0h3m1 0h4m3 0h2m5 0h1m2 0h12M101 161.5h12m1 0h1m2 0h11m2 0h3m1 0h7m1 0h1m2 0h10m1 0h4m1 0h2m1 0h7m5 0h16m2 0h9m1 0h4m1 0h11m1 0h2m2 0h1m2 0h3m2 0h4m7 0h1m1 0h2m3 0h3m2 0h3m1 0h2m1 0h1m12 0h1m2 0h5m3 0h5m1 0h1m2 0h1m1 0h1m1 0h1m3 0h1m1 0h8m1 0h1m1 0h1m306 0h4m11 0h1m1 0h2m2 0h2m1 0h3m3 0h1m2 0h1m1 0h2m1 0h2m2 0h4m1 0h2m3 0h5M104 162.5h9m1 0h1m1 0h3m1 0h3m2 0h3m3 0h18m1 0h3m3 0h7m1 0h7m5 0h1m1 0h9m1 0h3m1 0h2m1 0h2m1 0h1m1 0h8m1 0h4m3 0h3m2 0h2m2 0h2m1 0h7m1 0h3m1 0h2m3 0h1m2 0h3m1 0h3m2 0h2m2 0h3m12 0h1m1 0h3m1 0h3m2 0h1m1 0h3m1 0h2m1 0h3m1 0h2m4 0h1m1 0h2m1 0h1m1 0h1m1 0h2m309 0h2m12 0h1m1 0h1m1 0h7m2 0h1m1 0h1m2 0h1m1 0h1m1 0h1m4 0h1m1 0h1m1 0h2m3 0h3m1 0h1M107 163.5h8m1 0h10m1 0h1m3 0h2m2 0h6m1 0h3m1 0h18m1 0h1m1 0h3m1 0h1m6 0h2m1 0h3m1 0h6m2 0h1m1 0h4m1 0h6m1 0h1m1 0h6m1 0h4m1 0h2m3 0h1m2 0h5m2 0h3m1 0h2m3 0h1m1 0h1m1 0h1m1 0h2m1 0h2m6 0h1m15 0h12m1 0h2m2 0h4m1 0h5m1 0h1m1 0h6m1 0h3m309 0h1m14 0h1m2 0h3m2 0h1m2 0h2m2 0h1m1 0h4m3 0h1m2 0h1m2 0h2m2 0h2m1 0h1M111 164.5h4m1 0h4m2 0h4m1 0h10m1 0h15m2 0h5m2 0h1m1 0h5m1 0h2m6 0h9m1 0h4m1 0h1m1 0h2m3 0h15m3 0h1m1 0h3m2 0h2m1 0h6m1 0h1m1 0h4m3 0h1m2 0h1m2 0h3m2 0h3m1 0h1m3 0h1m12 0h5m1 0h3m2 0h2m1 0h1m2 0h3m1 0h1m1 0h6m1 0h2m1 0h1m2 0h1m1 0h4m324 0h1m1 0h1m2 0h4m2 0h5m1 0h2m7 0h4m5 0h1M115 165.5h10m1 0h8m1 0h6m1 0h17m1 0h2m2 0h2m1 0h5m6 0h1m1 0h4m1 0h1m1 0h1m1 0h1m1 0h1m1 0h1m1 0h6m1 0h6m1 0h12m3 0h2m1 0h2m1 0h1m4 0h1m1 0h1m2 0h2m2 0h1m1 0h1m1 0h1m1 0h3m1 0h2m2 0h1m4 0h1m12 0h3m1 0h1m1 0h7m3 0h2m3 0h1m1 0h14m2 0h1m1 0h1m327 0h1m1 0h1m2 0h1m1 0h3m1 0h4m3 0h2m1 0h3m1 0h3m1 0h1m3 0h1m1 0h1M119 166.5h9m1 0h4m1 0h8m3 0h8m1 0h1m2 0h2m1 0h4m1 0h2m1 0h1m1 0h2m6 0h1m1 0h3m3 0h2m1 0h1m1 0h4m2 0h4m1 0h6m1 0h8m1 0h3m4 0h10m1 0h3m1 0h2m2 0h2m1 0h1m1 0h1m1 0h6m1 0h1m2 0h3m12 0h3m2 0h5m1 0h1m1 0h1m2 0h1m1 0h2m1 0h1m1 0h2m1 0h5m2 0h5m1 0h1m329 0h3m2 0h2m1 0h2m3 0h1m1 0h5m1 0h1m1 0h1m3 0h4m2 0h3M123 167.5h6m1 0h12m1 0h9m1 0h3m1 0h3m1 0h3m1 0h6m7 0h6m2 0h3m1 0h3m2 0h12m1 0h4m1 0h2m1 0h7m3 0h16m4 0h3m2 0h6m4 0h2m13 0h3m1 0h1m2 0h5m1 0h1m3 0h11m3 0h1m2 0h3m2 0h1m1 0h1m327 0h1m1 0h2m2 0h1m1 0h1m7 0h1m2 0h2m1 0h4m1 0h4m3 0h1M127 168.5h1m3 0h11m1 0h2m1 0h1m1 0h3m1 0h1m1 0h1m1 0h5m1 0h6m1 0h2m6 0h5m2 0h8m2 0h8m1 0h5m2 0h11m4 0h3m1 0h3m1 0h7m4 0h1m1 0h3m1 0h1m1 0h1m6 0h5m12 0h2m1 0h3m2 0h1m1 0h5m2 0h2m1 0h3m1 0h4m1 0h2m1 0h8m1 0h1m328 0h2m1 0h1m5 0h1m5 0h3m1 0h4m1 0h2m2 0h1m1 0h1m2 0h1M133 169.5h10m1 0h7m3 0h2m1 0h6m1 0h3m1 0h3m6 0h5m1 0h8m2 0h9m1 0h4m3 0h3m2 0h1m1 0h5m3 0h1m1 0h5m2 0h3m1 0h4m3 0h3m4 0h1m3 0h1m4 0h1m14 0h4m2 0h3m3 0h2m1 0h3m2 0h3m2 0h3m1 0h8m1 0h1m335 0h1m4 0h1m2 0h1m1 0h4m4 0h2m2 0h1m1 0h2m1 0h1M136 170.5h7m1 0h5m1 0h1m1 0h2m1 0h12m1 0h2m7 0h7m1 0h4m1 0h5m1 0h5m2 0h4m2 0h4m1 0h8m2 0h5m1 0h10m1 0h1m3 0h2m1 0h2m2 0h3m1 0h3m3 0h1m13 0h2m2 0h10m1 0h1m1 0h6m2 0h6m1 0h2m1 0h1m1 0h4m332 0h3m1 0h2m4 0h1m3 0h2m2 0h1m3 0h3m2 0h1M141 171.5h2m1 0h11m1 0h4m1 0h6m1 0h2m6 0h18m2 0h2m1 0h6m2 0h6m2 0h1m1 0h5m4 0h1m1 0h1m1 0h2m1 0h3m1 0h5m4 0h4m2 0h3m1 0h1m1 0h1m2 0h3m12 0h2m2 0h2m1 0h5m1 0h7m5 0h6m1 0h1m1 0h1m1 0h6m331 0h2m1 0h1m4 0h1m1 0h4m3 0h1m2 0h1m1 0h1m1 0h2m3 0h3M144 172.5h1m1 0h9m1 0h15m6 0h11m1 0h2m2 0h6m1 0h6m1 0h6m1 0h3m1 0h3m1 0h1m1 0h5m1 0h1m1 0h3m1 0h3m1 0h3m4 0h2m1 0h2m1 0h4m2 0h3m14 0h4m4 0h2m2 0h1m1 0h5m3 0h11m1 0h3m1 0h4m334 0h2m2 0h1m1 0h4m1 0h2m1 0h5m4 0h2m1 0h3M151 173.5h20m5 0h26m1 0h3m1 0h1m1 0h2m1 0h11m2 0h1m1 0h4m3 0h3m1 0h5m1 0h3m1 0h4m1 0h4m2 0h3m1 0h1m12 0h2m1 0h1m2 0h1m6 0h1m1 0h4m1 0h1m1 0h5m1 0h9m1 0h1m1 0h1m335 0h2m2 0h2m1 0h1m1 0h1m1 0h2m3 0h1m1 0h2m2 0h1m1 0h1M154 174.5h1m1 0h15m2 0h1m2 0h9m1 0h13m1 0h2m1 0h18m6 0h1m1 0h3m2 0h2m1 0h3m1 0h2m1 0h5m2 0h1m1 0h5m4 0h2m12 0h2m1 0h3m1 0h3m1 0h2m2 0h4m1 0h4m1 0h2m1 0h1m1 0h3m1 0h2m1 0h2m1 0h2m335 0h1m3 0h1m1 0h2m1 0h3m12 0h1m1 0h1M163 175.5h1m2 0h5m6 0h21m1 0h1m1 0h1m1 0h5m1 0h5m1 0h3m1 0h4m2 0h7m2 0h1m1 0h2m1 0h1m1 0h2m1 0h3m2 0h1m2 0h2m1 0h1m1 0h1m1 0h2m1 0h1m13 0h6m2 0h2m1 0h8m4 0h4m1 0h1m1 0h1m1 0h1m2 0h1m2 0h4m337 0h1m2 0h4m1 0h1m1 0h1m4 0h1m1 0h1m4 0h4M177 176.5h23m1 0h11m1 0h9m2 0h2m1 0h1m1 0h3m1 0h2m2 0h1m1 0h3m3 0h3m1 0h1m1 0h2m2 0h3m1 0h4m13 0h1m1 0h5m1 0h1m2 0h3m1 0h2m1 0h2m2 0h3m3 0h3m1 0h1m2 0h2m344 0h1m1 0h2m3 0h2m1 0h1m4 0h1m3 0h5M184 177.5h15m1 0h20m1 0h1m3 0h2m1 0h7m1 0h2m1 0h4m1 0h1m3 0h2m1 0h2m1 0h1m1 0h1m2 0h1m1 0h3m12 0h1m1 0h1m1 0h3m3 0h2m2 0h1m2 0h5m5 0h6m2 0h1m2 0h3m342 0h2m2 0h1m1 0h1m1 0h1m1 0h1m4 0h3m1 0h1m1 0h1M191 178.5h1m3 0h13m1 0h14m2 0h6m1 0h5m2 0h4m1 0h6m1 0h2m3 0h2m3 0h2m13 0h2m1 0h2m1 0h1m2 0h2m1 0h1m1 0h2m1 0h6m1 0h2m1 0h4m6 0h3m345 0h1m1 0h1m3 0h1m1 0h1m5 0h1m2 0h2M207 179.5h16m1 0h14m2 0h3m1 0h10m2 0h1m2 0h4m13 0h1m5 0h5m1 0h1m4 0h8m1 0h1m1 0h3m4 0h1m1 0h2m2 0h1m346 0h1m1 0h1m2 0h1m4 0h1m1 0h1m2 0h1M220 180.5h2m3 0h18m1 0h10m1 0h1m1 0h3m1 0h1m1 0h1m12 0h4m1 0h1m1 0h5m2 0h2m1 0h2m4 0h9m2 0h2m1 0h2m2 0h1m345 0h1m10 0h3m2 0h1M230 181.5h1m2 0h9m2 0h12m1 0h3m1 0h3m12 0h4m1 0h5m1 0h1m1 0h2m4 0h1m1 0h1m1 0h2m2 0h4m3 0h8m346 0h1m4 0h1m1 0h1m1 0h6M246 182.5h18m12 0h4m1 0h3m1 0h2m1 0h3m1 0h1m2 0h1m1 0h2m2 0h4m1 0h2m4 0h4m350 0h1m2 0h1m1 0h3m2 0h1M253 183.5h11m15 0h1m2 0h2m2 0h3m2 0h7m1 0h1m1 0h2m1 0h2m1 0h4m1 0h5m354 0h2m3 0h1M258 184.5h6m18 0h4m1 0h6m1 0h8m1 0h5m3 0h3m2 0h1m354 0h2m2 0h1M262 185.5h2m21 0h14m3 0h1m3 0h3m2 0h1m1 0h3m357 0h1m2 0h2m1 0h1M289 186.5h6m1 0h1m1 0h1m1 0h4m1 0h2m1 0h1m1 0h1m1 0h2m1 0h2m357 0h1m1 0h1m3 0h1M292 187.5h1m2 0h4m1 0h1m5 0h1m1 0h1m1 0h3m2 0h2m358 0h2m2 0h2M296 188.5h1m1 0h3m1 0h1m5 0h3m2 0h5m358 0h1M301 189.5h3m1 0h2m1 0h1m2 0h2m1 0h1m1 0h2m360 0h1m1 0h1M303 190.5h1m1 0h2m1 0h3m2 0h2m2 0h1m360 0h1m1 0h1M307 191.5h2m1 0h1m1 0h4m363 0h1M311 192.5h5M315 193.5h1m1 0h1M317 194.5h1" stroke="#0000ff" stroke-width="1" fill="none" shape-rendering="crispEdges"/>
<g stroke="#0a0aff" stroke-width="0.9" fill="none"><path d="M263.6 62L275.8 65.9"/><path d="M264.4 83.3Q270 76 275.8 69.7"/><path d="M263.3 121.2Q270 123.5 277 125.2"/><path d="M281.8 126Q276 138 268 145Q263.5 149 267.3 152.7Q271 155.5 275.4 156.7"/><path d="M263.3 174.5Q268 177 272.2 177.7Q276 178 280.2 176.1"/><path d="M627.9 14.6L639 12"/><path d="M639 30.1Q632.6 30.8 628.9 33.3Q628.5 36 630.5 37Q635.8 40.2 641.2 40.7"/><path d="M628 91.9Q633 95 637.3 98.5"/><path d="M628 101Q633 99.5 637.3 98.5"/><path d="M627.7 104.3Q633.4 101.4 640.6 100.7"/><path d="M628.4 138.6Q634.9 144.3 640.6 148.6"/><path d="M628.4 147.9L639.1 153.6"/></g>
<path d="M237.7 465.2C237.8 466.5 238.2 471.8 238.5 472.8C238.8 472.8 239.3 471.9 239.8 471.0C240.3 470.1 241.1 468.0 241.7 467.6C242.2 467.6 242.5 468.5 243.1 468.5C243.7 468.4 244.6 468.2 245.5 467.0C246.4 465.8 247.5 463.4 248.4 461.0C249.3 458.6 250.1 454.8 250.8 452.4C251.5 450.0 252.2 448.8 252.7 446.7C253.2 444.6 253.5 443.1 254.0 440.0C254.5 436.9 255.0 432.7 255.6 428.0C256.1 423.3 256.7 417.3 257.3 412.0C257.9 406.7 258.8 401.2 259.5 396.0C260.2 390.8 261.0 385.6 261.7 381.0C262.4 376.4 263.0 370.2 263.6 368.3C264.2 368.3 264.7 369.5 265.4 369.8C266.1 370.1 266.8 370.4 267.9 370.4C269.0 370.4 270.9 370.2 272.2 370.0C273.5 369.8 273.4 369.5 275.9 369.4C278.4 369.4 283.3 369.4 287.0 369.4C290.7 369.4 295.8 369.4 298.1 369.6C300.4 369.8 298.9 370.2 300.6 370.4C302.4 370.6 305.9 370.4 308.6 370.8C311.4 371.2 314.2 372.1 317.1 373.0C320.0 373.9 323.3 374.9 325.7 376.0C328.1 377.1 330.1 378.8 331.7 379.4C333.2 379.8 334.3 379.4 335.0 379.8C335.7 380.5 335.5 382.2 335.7 383.3C335.9 384.4 336.1 386.0 336.3 386.7C336.5 387.4 336.8 387.2 337.1 387.5C337.4 387.8 337.8 387.5 338.0 388.2C338.2 389.1 338.4 392.9 338.6 393.1C338.8 393.1 339.1 391.3 339.3 389.2C339.6 387.1 339.8 382.7 340.1 380.7C340.4 378.7 340.7 378.0 341.0 377.3C341.3 376.6 341.5 376.4 341.8 376.4C342.1 376.5 342.4 376.7 342.7 377.7C342.9 378.7 343.1 380.4 343.3 382.4C343.5 384.4 343.8 389.3 344.0 389.7C344.2 389.7 344.5 387.1 344.7 385.0C344.9 382.9 345.1 379.2 345.3 377.3C345.5 375.4 345.8 374.2 346.1 373.4C346.4 372.6 346.7 372.6 347.0 372.6C347.3 372.7 347.5 372.6 347.8 373.8C348.1 375.1 348.4 378.0 348.7 380.7C349.0 383.4 349.3 389.8 349.6 390.1C349.9 390.1 350.1 385.4 350.4 382.4C350.7 379.4 350.9 374.1 351.3 372.1C351.7 370.4 352.2 370.5 352.6 370.4C353.0 370.4 353.4 370.5 353.7 371.7C354.0 372.9 354.1 371.8 354.3 377.3C354.5 382.8 354.6 402.1 354.8 404.5C355.0 404.5 355.2 396.1 355.4 392.0C355.6 387.9 355.9 382.9 356.1 380.0C356.3 377.1 356.5 376.6 356.8 374.7C357.1 372.8 357.3 369.8 357.7 368.7C358.1 367.8 358.6 367.8 359.0 367.8C359.4 368.0 359.9 368.6 360.3 370.0C360.7 371.4 360.8 374.3 361.1 376.4C361.4 378.5 361.7 382.2 362.0 382.8C362.3 382.8 362.5 381.6 362.8 379.8C363.1 378.0 363.4 373.7 363.7 372.1C364.0 370.5 364.3 370.4 364.5 370.4C364.7 370.7 364.9 370.7 365.1 373.8C365.3 376.9 365.6 378.2 365.8 389.2C366.0 400.2 366.2 426.2 366.3 440.0C366.4 453.8 366.5 472.2 366.6 472.2C366.7 472.2 366.7 452.9 366.9 440.0C367.1 427.1 367.4 405.7 367.6 395.0C367.8 384.3 368.0 379.7 368.2 376.0C368.4 373.0 368.4 373.6 368.6 373.0C368.8 372.4 368.9 372.3 369.2 372.1C369.5 371.9 370.1 372.0 370.5 371.7C370.9 371.4 371.2 371.2 371.8 370.4C372.4 369.5 373.7 367.2 374.4 366.6C375.1 366.6 375.5 366.6 376.1 366.6C376.7 367.0 377.2 368.5 377.8 369.1C378.4 369.7 379.1 370.1 380.0 370.1C380.9 369.8 382.1 368.0 383.1 367.0C384.2 366.0 385.2 364.4 386.3 364.3C387.4 364.3 388.5 366.0 389.4 366.4C390.3 366.4 390.8 366.4 391.5 366.4C392.2 366.8 392.7 368.5 393.6 368.5C394.5 368.2 395.6 366.1 396.7 364.9C397.8 363.7 399.4 361.2 400.4 361.2C401.4 361.3 401.9 364.3 402.5 365.4C403.1 366.4 403.1 367.5 404.0 367.5C404.9 367.0 406.6 362.7 407.7 362.2C408.8 362.2 409.4 363.2 410.3 364.3C411.2 365.4 412.2 368.1 412.9 368.5C413.6 368.5 414.1 366.6 414.5 366.4C414.9 366.4 415.2 366.4 415.5 367.5C415.8 376.4 415.9 404.1 416.1 420.0C416.3 435.9 416.4 463.0 416.6 463.0C416.8 463.0 417.0 436.8 417.2 420.0C417.4 403.2 417.4 372.2 417.7 362.0C417.9 358.6 418.3 358.9 418.7 358.6C419.1 358.6 419.8 358.6 420.2 360.2C420.6 363.2 420.9 370.1 421.1 376.4C421.4 382.7 421.5 397.9 421.7 398.2C421.9 398.2 422.1 383.6 422.3 378.0C422.5 372.4 422.6 366.9 422.9 364.9C423.2 364.9 423.6 364.9 423.9 365.9C424.2 367.6 424.5 375.3 424.9 375.3C425.2 375.0 425.6 368.2 426.0 363.8C426.4 359.4 426.6 350.6 427.0 349.2C427.4 349.2 427.7 354.4 428.1 355.5C428.6 356.0 429.1 355.6 429.7 356.0C430.3 356.4 431.1 356.5 431.7 358.1C432.3 359.8 432.9 358.1 433.3 365.9C433.8 374.5 434.0 391.7 434.4 410.0C434.8 428.3 435.1 473.9 435.5 475.6C435.9 475.6 436.2 439.3 436.6 420.0C437.0 400.7 437.3 371.1 437.7 360.0C438.1 353.4 438.6 354.1 439.1 353.4C439.6 353.4 440.0 354.2 440.5 356.0C441.0 357.8 441.6 356.0 442.0 364.2C442.4 374.9 442.6 403.6 442.8 420.0C443.0 436.4 443.2 462.6 443.4 462.6C443.6 455.9 443.8 398.3 444.0 380.0C444.2 361.7 444.6 356.8 444.8 352.8C445.0 352.8 445.2 352.8 445.4 356.3C445.6 364.2 445.9 383.1 446.0 400.0C446.1 416.9 446.2 457.4 446.3 457.4C446.4 457.4 446.6 420.5 446.8 400.0C447.0 379.5 447.4 337.9 447.7 334.6C448.0 334.6 448.1 360.3 448.5 380.0C448.9 399.7 449.8 451.1 450.1 452.8C450.4 452.8 450.4 414.7 450.5 390.0C450.6 365.3 450.6 320.0 450.8 304.7C451.0 298.1 451.4 299.8 451.9 298.1C452.4 296.5 453.1 295.2 453.6 294.8C454.1 294.8 454.7 295.3 455.1 295.9C455.5 296.4 455.6 295.9 455.8 298.1C456.0 303.6 456.0 311.7 456.2 328.7C456.4 345.7 456.7 375.8 456.9 400.0C457.1 424.2 457.1 462.8 457.4 474.1C457.7 474.1 458.1 467.8 458.5 467.8C458.9 468.0 459.1 475.1 459.5 475.1C459.9 474.8 460.6 466.9 461.0 465.7C461.4 465.7 461.9 466.2 462.2 467.8C462.5 469.4 462.5 473.9 463.0 475.1C463.5 475.1 464.5 475.1 465.1 475.1C465.7 474.1 466.0 469.1 466.4 468.9C466.8 468.9 467.0 474.1 467.4 474.1C467.8 470.4 468.2 446.9 468.5 446.9C468.8 447.1 468.9 471.6 469.3 475.1C469.7 475.1 470.2 467.8 470.6 467.8C471.0 467.8 471.1 475.1 471.4 475.1C471.7 467.1 472.1 444.4 472.4 420.0C472.7 395.6 473.1 344.8 473.3 328.7C473.6 323.4 473.7 326.0 473.9 323.4C474.1 320.8 474.2 315.3 474.4 313.1C474.6 310.9 474.8 311.1 475.3 310.3C475.8 309.5 476.9 309.5 477.6 308.5C478.3 307.5 478.7 305.4 479.3 304.5C479.9 303.6 480.4 303.5 481.0 303.4C481.6 303.4 482.1 304.0 482.7 304.0C483.3 303.7 484.0 303.0 484.4 301.7C484.8 300.4 484.9 297.1 485.3 296.0C485.7 295.4 486.2 295.4 486.7 295.4C487.1 295.4 487.6 296.2 488.0 296.2C488.4 296.2 488.6 295.4 489.0 295.4C489.4 295.4 489.8 296.1 490.3 296.4C490.8 296.7 491.3 297.1 491.8 297.1C492.3 297.1 492.7 296.3 493.2 296.3C493.7 296.3 494.2 296.9 494.7 296.9C495.2 296.9 495.7 296.1 496.2 296.1C496.7 296.1 497.1 296.8 497.6 296.8C498.1 296.8 498.7 296.3 499.2 296.3C499.7 296.3 500.3 296.9 500.8 296.9C501.3 296.9 501.8 296.3 502.3 296.1C502.8 295.9 503.3 295.8 503.8 295.8C504.3 295.9 504.9 296.6 505.4 296.6C505.9 296.6 506.4 296.0 507.0 296.0C507.6 296.0 508.1 296.6 508.7 296.7C509.3 296.7 510.2 296.4 510.5 296.4" stroke="#0000ff" stroke-width="1.35" fill="none" stroke-linejoin="round"/>
<line x1="237.2" y1="380.90" x2="510.6" y2="380.90" stroke="#f05a5a" stroke-width="2"/>
<g stroke="#8c8c8c" stroke-width="1.6" fill="none"><rect x="44.6" y="4.4" width="273.70" height="210.00"/><rect x="408.0" y="4.4" width="273.60" height="210.00"/><rect x="237.2" y="275.5" width="273.40" height="210.80"/></g>
<path d="M44.60 214.4v-2.7M44.60 4.4v2.7M78.81 214.4v-2.7M78.81 4.4v2.7M113.02 214.4v-2.7M113.02 4.4v2.7M147.24 214.4v-2.7M147.24 4.4v2.7M181.45 214.4v-2.7M181.45 4.4v2.7M215.66 214.4v-2.7M215.66 4.4v2.7M249.88 214.4v-2.7M249.88 4.4v2.7M284.09 214.4v-2.7M284.09 4.4v2.7M318.30 214.4v-2.7M318.30 4.4v2.7M44.6 214.40h2.7M318.3 214.40h-2.7M44.6 172.40h2.7M318.3 172.40h-2.7M44.6 130.40h2.7M318.3 130.40h-2.7M44.6 88.40h2.7M318.3 88.40h-2.7M44.6 46.40h2.7M318.3 46.40h-2.7M44.6 4.40h2.7M318.3 4.40h-2.7M408.00 214.4v-2.7M408.00 4.4v2.7M442.20 214.4v-2.7M442.20 4.4v2.7M476.40 214.4v-2.7M476.40 4.4v2.7M510.60 214.4v-2.7M510.60 4.4v2.7M544.80 214.4v-2.7M544.80 4.4v2.7M579.00 214.4v-2.7M579.00 4.4v2.7M613.20 214.4v-2.7M613.20 4.4v2.7M647.40 214.4v-2.7M647.40 4.4v2.7M681.60 214.4v-2.7M681.60 4.4v2.7M408.0 214.40h2.7M681.6 214.40h-2.7M408.0 184.40h2.7M681.6 184.40h-2.7M408.0 154.40h2.7M681.6 154.40h-2.7M408.0 124.40h2.7M681.6 124.40h-2.7M408.0 94.40h2.7M681.6 94.40h-2.7M408.0 64.40h2.7M681.6 64.40h-2.7M408.0 34.40h2.7M681.6 34.40h-2.7M408.0 4.40h2.7M681.6 4.40h-2.7M237.20 486.3v-2.7M237.20 275.5v2.7M271.38 486.3v-2.7M271.38 275.5v2.7M305.55 486.3v-2.7M305.55 275.5v2.7M339.73 486.3v-2.7M339.73 275.5v2.7M373.90 486.3v-2.7M373.90 275.5v2.7M408.07 486.3v-2.7M408.07 275.5v2.7M442.25 486.3v-2.7M442.25 275.5v2.7M476.43 486.3v-2.7M476.43 275.5v2.7M510.60 486.3v-2.7M510.60 275.5v2.7M237.2 486.30h2.7M510.6 486.30h-2.7M237.2 459.95h2.7M510.6 459.95h-2.7M237.2 433.60h2.7M510.6 433.60h-2.7M237.2 407.25h2.7M510.6 407.25h-2.7M237.2 380.90h2.7M510.6 380.90h-2.7M237.2 354.55h2.7M510.6 354.55h-2.7M237.2 328.20h2.7M510.6 328.20h-2.7M237.2 301.85h2.7M510.6 301.85h-2.7M237.2 275.50h2.7M510.6 275.50h-2.7" stroke="#8c8c8c" stroke-width="1" fill="none"/>
<g font-family="Liberation Sans, Arial, sans-serif" font-size="10.3" fill="#262626"><text x="44.60" y="230.40" text-anchor="middle">2.4</text><text x="78.81" y="230.40" text-anchor="middle">2.6</text><text x="113.02" y="230.40" text-anchor="middle">2.8</text><text x="147.24" y="230.40" text-anchor="middle">3</text><text x="181.45" y="230.40" text-anchor="middle">3.2</text><text x="215.66" y="230.40" text-anchor="middle">3.4</text><text x="249.88" y="230.40" text-anchor="middle">3.6</text><text x="284.09" y="230.40" text-anchor="middle">3.8</text><text x="318.30" y="230.40" text-anchor="middle">4</text><text x="40.00" y="218.80" text-anchor="end">0.2</text><text x="40.00" y="176.80" text-anchor="end">0.3</text><text x="40.00" y="134.80" text-anchor="end">0.4</text><text x="40.00" y="92.80" text-anchor="end">0.5</text><text x="40.00" y="50.80" text-anchor="end">0.6</text><text x="40.00" y="8.80" text-anchor="end">0.7</text><text x="408.00" y="230.40" text-anchor="middle">2.4</text><text x="442.20" y="230.40" text-anchor="middle">2.6</text><text x="476.40" y="230.40" text-anchor="middle">2.8</text><text x="510.60" y="230.40" text-anchor="middle">3</text><text x="544.80" y="230.40" text-anchor="middle">3.2</text><text x="579.00" y="230.40" text-anchor="middle">3.4</text><text x="613.20" y="230.40" text-anchor="middle">3.6</text><text x="647.40" y="230.40" text-anchor="middle">3.8</text><text x="681.60" y="230.40" text-anchor="middle">4</text><text x="403.40" y="218.80" text-anchor="end">0.35</text><text x="403.40" y="188.80" text-anchor="end">0.4</text><text x="403.40" y="158.80" text-anchor="end">0.45</text><text x="403.40" y="128.80" text-anchor="end">0.5</text><text x="403.40" y="98.80" text-anchor="end">0.55</text><text x="403.40" y="68.80" text-anchor="end">0.6</text><text x="403.40" y="38.80" text-anchor="end">0.65</text><text x="403.40" y="8.80" text-anchor="end">0.7</text><text x="237.20" y="502.30" text-anchor="middle">2.4</text><text x="271.38" y="502.30" text-anchor="middle">2.6</text><text x="305.55" y="502.30" text-anchor="middle">2.8</text><text x="339.73" y="502.30" text-anchor="middle">3</text><text x="373.90" y="502.30" text-anchor="middle">3.2</text><text x="408.07" y="502.30" text-anchor="middle">3.4</text><text x="442.25" y="502.30" text-anchor="middle">3.6</text><text x="476.43" y="502.30" text-anchor="middle">3.8</text><text x="510.60" y="502.30" text-anchor="middle">4</text><text x="232.60" y="490.70" text-anchor="end">-20</text><text x="232.60" y="464.35" text-anchor="end">-15</text><text x="232.60" y="438.00" text-anchor="end">-10</text><text x="232.60" y="411.65" text-anchor="end">-5</text><text x="232.60" y="385.30" text-anchor="end">0</text><text x="232.60" y="358.95" text-anchor="end">5</text><text x="232.60" y="332.60" text-anchor="end">10</text><text x="232.60" y="306.25" text-anchor="end">15</text><text x="232.60" y="279.90" text-anchor="end">20</text></g>
<g font-family="Liberation Sans, Arial, sans-serif" font-size="11.8" fill="#262626" opacity="0.9">
<text transform="translate(18.9 109.8) rotate(-90)" text-anchor="middle">x</text>
<text transform="translate(377.3 109.7) rotate(-90)" text-anchor="middle">y</text>
<text transform="translate(211.2 381.4) rotate(-90)" text-anchor="middle">MLE</text>
</g>
<g font-family="Liberation Serif, Times New Roman, serif" font-style="italic" font-size="13" fill="#262626" opacity="0.9">
<text x="181.2" y="246.5" text-anchor="middle">δ</text>
<text x="545.2" y="246.5" text-anchor="middle">δ</text>
<text x="373.8" y="518.2" text-anchor="middle">δ</text>
</g>
<g font-family="Liberation Serif, Times New Roman, serif" font-size="19.8" fill="#222">
<text x="0.2" y="249.7">(a)</text>
<text x="359.9" y="248.5">(b)</text>
<text x="189.3" y="520.2">(c)</text>
</g>
</svg>
</body></html>
